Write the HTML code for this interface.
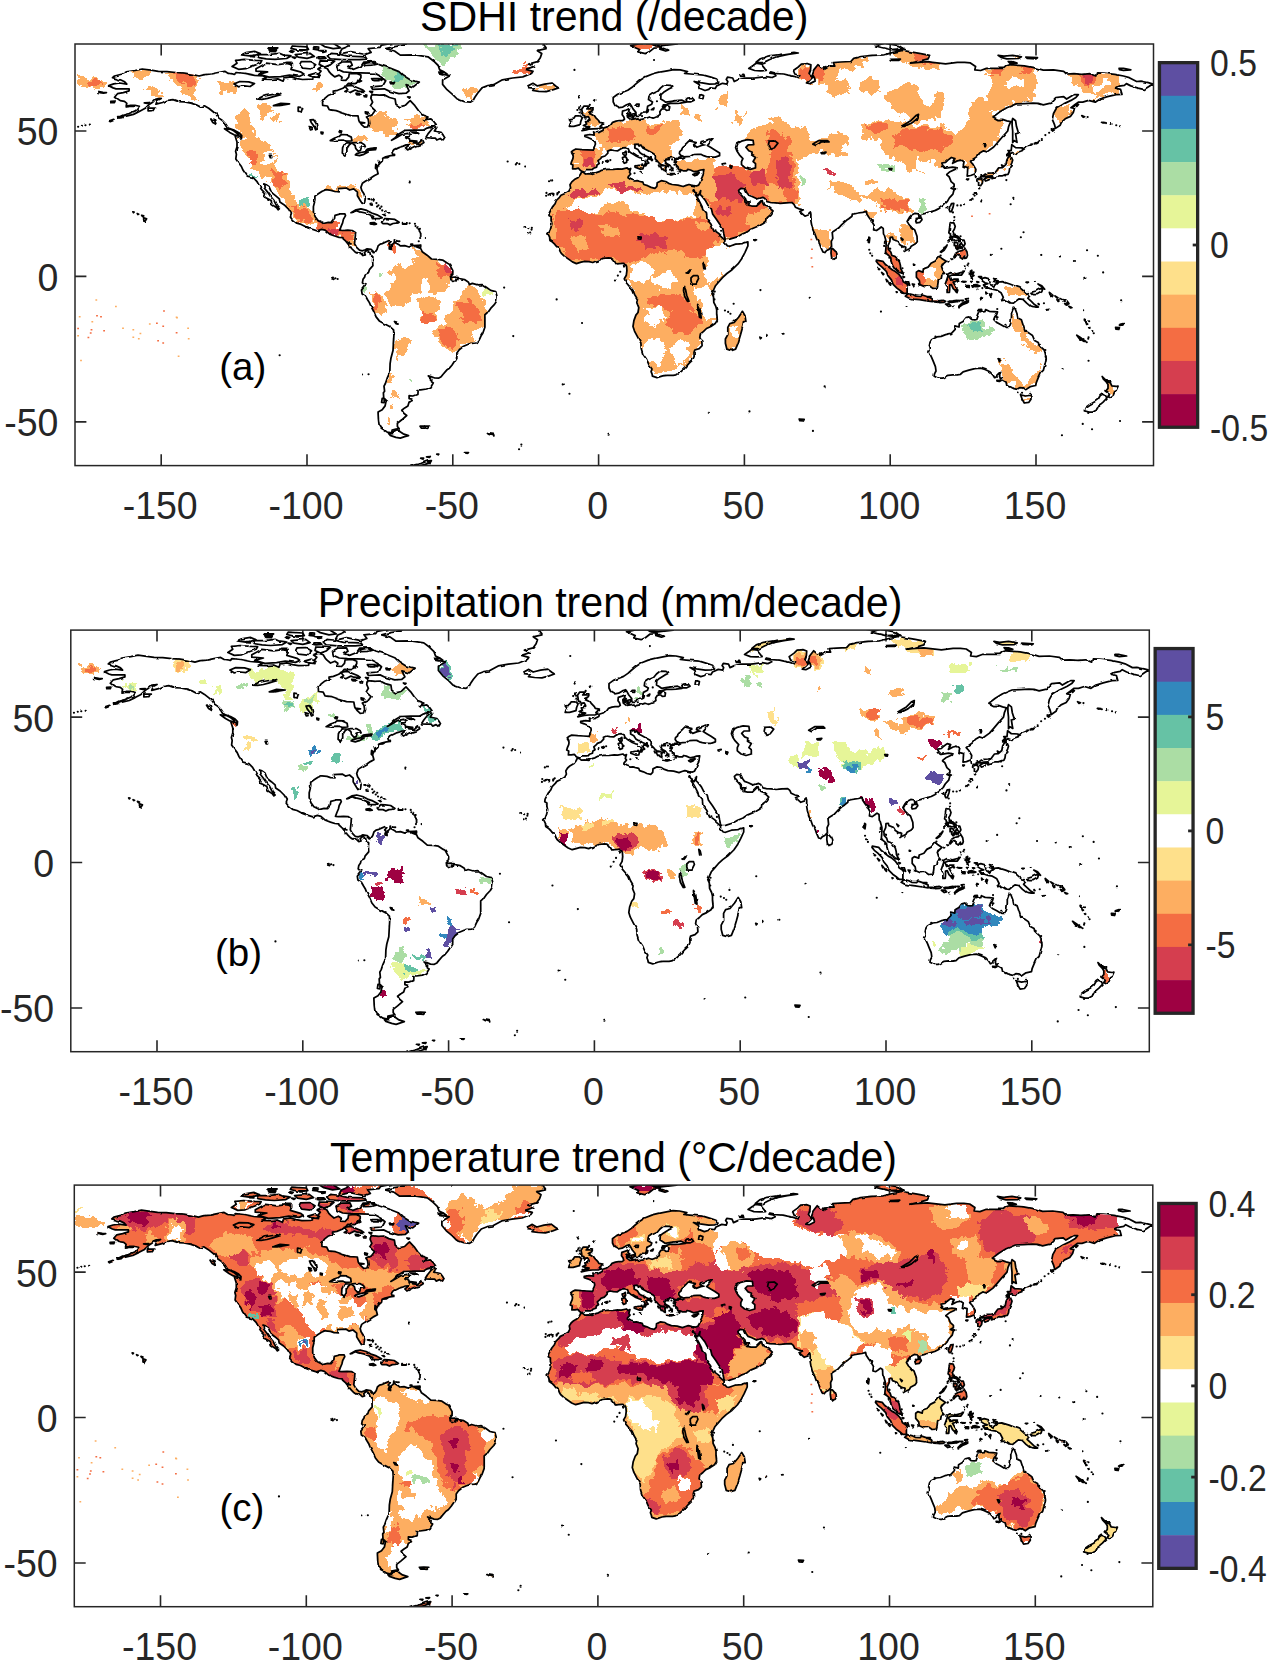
<!DOCTYPE html>
<html lang="en"><head><meta charset="utf-8"><title>SDHI, precipitation and temperature trends</title>
<style>html,body{margin:0;padding:0;background:#fff}body{width:1270px;height:1663px;overflow:hidden}svg{display:block}text{font-family:"Liberation Sans", Arial, Helvetica, sans-serif;fill:#262626}.tk{font-size:38.7px}.tt{font-size:42.5px;fill:#000}.lb{font-size:38.5px;fill:#000}.cb{font-size:36.2px}.coast{fill:none;stroke:#000;stroke-width:1.75;stroke-linejoin:round;stroke-linecap:round}</style></head><body>
<svg width="1270" height="1663" viewBox="0 0 1270 1663">
<rect width="1270" height="1663" fill="#fff"/>
<defs>
<filter id="rough" filterUnits="userSpaceOnUse" x="0" y="0" width="1078" height="422" color-interpolation-filters="sRGB"><feTurbulence type="fractalNoise" baseFrequency="0.11" numOctaves="3" seed="7" result="n"/><feDisplacementMap in="SourceGraphic" in2="n" scale="13" xChannelSelector="R" yChannelSelector="G"/></filter>
<filter id="wig" filterUnits="userSpaceOnUse" x="0" y="0" width="1078" height="422" color-interpolation-filters="sRGB"><feTurbulence type="fractalNoise" baseFrequency="0.15" numOctaves="1" seed="3" result="n"/><feDisplacementMap in="SourceGraphic" in2="n" scale="2.8" xChannelSelector="R" yChannelSelector="G"/></filter>
<clipPath id="landclip"><path d="M33.7 41.6L38.7 39.9L44.5 39.0L51.8 40.1L49.7 37.8L45.4 35.8L37.5 33.7L39.5 32.0L47.4 30.0L51.2 27.9L60.0 26.5L67.2 25.0L76.0 26.2L83.3 27.3L92.0 27.6L100.8 28.5L109.5 29.1L116.8 30.3L124.1 32.0L128.5 30.8L135.8 30.0L143.1 28.5L149.8 27.3L153.3 29.4L159.7 30.3L161.1 28.5L169.3 29.4L179.5 31.4L188.3 32.0L191.2 33.7L187.4 35.2L195.5 35.5L202.8 34.9L208.1 37.2L209.3 34.0L216.0 32.9L221.8 34.6L227.6 35.5L236.4 35.2L239.3 32.9L244.2 33.5L243.7 30.0L246.0 27.1L242.8 25.0L247.7 23.0L252.4 24.7L254.5 28.2L256.5 30.3L259.7 32.9L264.1 31.1L267.0 33.2L266.4 36.1L270.8 36.4L273.7 33.2L274.3 29.7L281.6 29.4L285.9 31.1L285.9 33.7L283.6 36.9L286.5 36.9L280.1 39.6L273.4 39.3L271.4 41.6L267.9 44.2L262.6 46.3L258.2 47.1L258.8 49.2L253.6 51.2L250.1 54.1L247.5 57.9L247.7 61.4L252.4 62.0L254.2 65.7L261.2 66.6L268.4 69.2L275.7 71.6L283.0 71.9L283.9 76.8L286.5 80.6L289.4 83.2L292.6 82.9L293.8 79.4L293.2 75.3L291.5 73.0L297.6 70.1L300.2 66.6L295.3 62.0L297.6 58.2L295.9 54.4L297.0 50.6L303.4 51.2L309.3 50.9L314.5 53.5L320.1 55.0L320.9 60.2L324.7 62.8L330.3 61.4L333.5 58.2L335.2 56.7L339.9 61.7L343.4 66.6L347.2 71.0L353.0 73.0L348.6 75.9L355.9 74.8L358.8 77.4L361.2 80.6L358.0 82.6L352.1 84.1L348.6 86.1L339.9 86.1L329.7 86.4L323.9 89.9L319.5 94.3L316.6 96.3L320.9 94.0L326.8 90.5L332.6 89.3L336.1 90.5L334.1 92.5L330.6 92.8L334.6 95.1L334.9 97.7L339.0 98.9L343.7 99.2L347.5 95.7L348.9 98.6L345.7 100.7L339.0 102.7L332.6 105.9L330.6 103.9L334.6 100.7L331.1 100.9L328.2 102.1L323.0 103.6L318.9 105.6L317.1 108.2L317.7 110.5L319.5 110.3L319.5 111.4L315.7 111.7L310.7 112.9L307.8 114.3L307.2 117.2L304.9 119.3L303.4 117.5L304.3 120.7L302.3 124.2L300.8 120.4L300.5 124.2L302.0 125.4L303.1 129.7L299.6 131.5L296.1 133.8L292.6 135.9L290.3 137.3L287.4 139.3L285.9 143.4L286.8 146.6L288.9 149.8L290.3 154.5L289.7 158.2L287.1 159.4L285.1 156.2L282.4 151.8L282.4 148.1L278.7 144.9L274.6 146.0L271.4 144.0L267.0 144.3L262.6 144.6L263.2 147.8L259.7 147.5L256.2 146.3L251.0 145.7L247.2 147.2L243.7 149.5L239.9 152.1L239.9 156.8L238.4 162.6L238.4 167.6L240.2 172.8L243.1 176.6L246.6 178.3L248.3 179.5L253.3 178.3L256.8 178.6L259.4 175.4L260.0 171.3L265.5 169.9L269.9 169.9L270.5 171.6L268.4 175.4L267.6 178.9L266.1 182.4L264.7 186.2L267.6 186.5L272.8 186.2L277.2 186.5L280.7 188.8L280.1 194.0L279.5 199.8L281.6 203.3L284.5 206.2L287.4 206.8L290.3 205.7L292.1 204.8L296.1 205.4L298.2 207.4L299.4 209.2L302.0 205.4L303.1 201.9L305.2 200.1L307.2 199.6L311.3 197.8L314.5 196.4L316.0 197.5L313.9 199.8L315.4 201.6L314.2 204.8L316.3 205.4L316.0 201.3L318.9 199.3L319.5 196.9L320.9 199.0L324.4 201.0L325.3 201.9L329.7 201.6L334.1 203.0L337.0 201.6L342.8 201.3L341.1 202.8L345.7 204.5L347.2 207.7L352.1 211.2L356.5 215.0L362.6 215.3L367.6 216.1L372.5 219.3L374.3 220.2L377.8 226.6L377.8 230.4L375.5 232.7L376.0 235.9L381.3 236.8L382.2 233.6L384.2 234.5L389.5 235.6L393.5 238.2L394.4 240.6L397.3 239.4L402.6 240.9L407.0 240.6L411.3 243.2L415.7 246.4L420.7 247.6L422.1 252.8L421.5 257.2L419.5 260.4L415.7 264.4L411.9 270.0L409.9 271.7L409.9 276.1L409.9 283.3L407.8 289.2L406.1 291.8L404.0 296.4L401.1 299.0L396.8 299.3L393.3 300.2L388.6 302.2L384.2 305.7L381.9 308.9L381.9 313.3L379.8 316.8L376.9 321.2L374.0 324.6L371.7 326.1L367.9 330.5L366.1 332.8L363.5 334.2L359.7 334.0L355.9 332.5L353.3 331.9L356.8 335.4L356.5 337.7L358.3 338.9L355.9 343.0L351.6 345.0L345.7 345.9L342.2 345.6L341.9 350.5L337.8 352.0L334.1 351.7L334.1 354.6L337.0 355.2L338.1 356.6L334.1 358.1L332.9 361.9L329.7 363.9L326.8 366.2L328.8 369.2L331.7 371.5L326.8 375.8L322.4 379.3L322.4 382.5L324.1 384.6L320.9 385.2L317.1 386.0L316.9 388.9L312.2 388.1L309.3 386.0L306.4 384.3L304.0 380.2L303.4 375.0L303.1 369.2L303.1 368.0L307.2 365.7L310.1 361.9L311.3 356.1L308.7 354.0L308.4 348.8L309.6 347.3L309.0 342.1L310.4 339.5L312.2 334.2L314.8 328.4L315.1 319.7L316.0 313.9L318.0 306.6L318.3 301.1L318.9 291.2L318.6 286.0L315.1 282.8L309.3 279.8L304.3 276.9L301.1 272.9L298.8 267.6L295.6 261.5L294.4 258.6L292.6 255.7L290.6 252.2L287.1 249.9L286.5 246.1L289.2 242.6L290.9 239.7L289.7 240.9L287.4 238.8L288.0 235.3L289.7 233.0L290.3 230.1L293.5 228.6L294.4 225.7L297.9 221.7L297.6 216.4L297.9 212.9L296.4 211.5L295.3 209.4L295.0 207.7L291.8 206.4L289.4 208.6L290.3 210.9L288.0 211.5L285.9 209.7L282.2 208.6L281.6 208.9L279.8 207.7L276.6 204.5L275.7 203.0L273.4 203.3L273.4 200.4L270.8 197.2L268.2 194.9L267.9 193.7L264.1 193.4L259.7 192.0L254.7 190.2L250.1 186.2L246.6 185.3L242.2 186.8L236.4 185.0L232.3 183.6L226.2 180.4L221.8 179.2L217.4 175.7L215.4 173.1L216.5 169.9L213.3 164.9L209.3 160.9L204.9 158.0L204.3 154.8L200.5 151.6L196.4 148.4L194.1 142.8L191.2 140.8L188.8 139.9L189.1 143.7L192.6 148.1L195.3 152.1L198.8 156.2L201.1 160.9L204.3 164.9L203.1 165.8L201.7 163.8L197.0 160.6L196.1 156.5L192.3 154.5L189.4 153.0L190.6 149.8L186.2 145.2L183.3 139.9L181.8 137.3L178.1 133.5L172.2 132.1L168.1 126.3L166.4 122.5L162.6 117.5L160.8 114.9L161.4 110.3L160.6 107.3L162.0 102.7L162.0 98.0L160.0 91.6L164.9 92.2L166.4 94.8L166.7 91.6L164.3 89.0L159.7 86.4L153.3 84.1L150.9 80.3L147.4 76.5L143.6 73.9L141.0 70.1L137.8 67.5L133.7 64.3L129.4 61.7L125.6 63.1L121.2 60.8L115.9 59.1L109.5 57.9L103.7 57.6L97.9 55.6L92.0 56.4L87.7 58.5L80.9 60.2L82.4 56.4L86.2 54.4L80.9 55.0L78.0 57.9L74.5 60.2L70.2 64.3L64.3 67.5L58.5 70.4L51.2 72.1L43.0 73.6L48.3 71.0L54.1 69.5L60.8 66.6L64.3 62.3L60.0 61.4L55.6 61.4L51.2 62.0L51.8 59.3L49.5 57.3L43.9 56.4L39.5 53.2L42.5 49.7L48.3 48.6L54.1 46.8L54.1 44.8L48.3 44.8L41.0 44.8L38.1 43.9ZM310.7 4.7L319.5 7.0L325.3 11.1L339.9 10.8L353.0 12.8L358.8 17.2L363.2 21.5L364.7 25.9L369.0 27.9L364.7 29.7L374.9 31.7L367.6 36.1L367.6 40.4L372.0 45.7L377.8 50.6L382.2 55.0L389.5 57.6L395.3 58.2L398.2 56.4L399.7 53.5L402.6 49.2L407.0 43.9L412.8 41.6L418.6 40.7L427.4 35.8L437.6 34.0L447.8 32.9L456.5 29.4L458.0 27.3L450.7 25.3L459.4 22.4L453.6 20.1L462.4 17.7L465.3 13.7L466.7 9.6L462.4 6.7L471.1 4.7L468.2 0.9L474.0 -1.2L474.0 -9.0L304.9 -9.0L325.3 -1.2L331.1 0.9L319.5 2.6ZM617.8 141.4L621.3 142.0L623.6 141.1L625.4 137.9L625.9 135.9L627.4 132.7L628.3 128.9L628.9 125.7L625.7 126.0L622.7 127.1L619.2 127.7L615.5 126.0L612.8 125.4L611.7 126.8L608.2 126.8L605.8 125.7L603.5 125.4L603.2 123.1L600.9 120.7L601.7 119.0L599.7 117.5L600.0 116.1L603.2 114.9L607.9 114.9L609.6 114.0L608.5 112.9L612.0 112.6L615.5 112.3L618.4 110.5L622.7 110.3L625.9 110.3L628.6 111.7L631.5 112.6L635.9 113.2L640.2 113.2L644.6 111.7L644.6 109.1L640.2 106.2L635.9 103.6L632.4 101.5L635.0 98.6L637.9 95.4L634.4 95.1L630.9 96.6L626.2 97.7L625.7 99.5L630.0 100.7L626.5 101.5L621.9 103.3L618.7 100.7L621.3 98.6L616.9 97.5L614.0 96.9L611.7 99.2L609.9 100.9L607.6 102.7L606.7 105.9L604.7 107.6L604.4 109.4L605.8 111.4L608.2 112.4L605.8 113.2L603.2 113.2L601.5 114.6L600.0 115.8L599.7 114.3L598.0 113.5L594.7 113.5L593.0 114.0L594.5 115.5L591.8 115.5L590.4 114.6L589.5 116.1L591.0 118.4L590.4 119.3L593.6 121.3L593.9 122.8L592.4 122.2L590.7 122.2L591.2 123.6L590.4 123.3L591.0 126.3L589.2 126.5L588.3 125.1L586.9 125.4L585.4 122.2L586.9 121.3L589.8 121.6L586.0 120.7L584.2 119.3L582.5 117.2L580.2 114.9L580.5 112.0L579.6 110.5L577.0 108.8L571.7 105.9L567.9 103.9L565.9 100.9L564.1 102.1L563.3 100.1L559.5 100.4L560.0 101.8L559.8 103.9L563.0 105.6L565.0 108.8L567.6 110.5L570.8 110.5L570.0 111.7L572.9 112.9L576.1 114.3L577.5 115.8L577.0 116.7L575.8 115.5L573.2 114.6L572.0 116.7L573.8 119.0L572.0 119.6L570.8 121.9L569.4 121.9L570.0 119.9L570.8 118.4L569.4 116.1L567.3 115.5L566.5 114.0L564.7 113.7L561.5 112.3L559.2 110.8L556.3 109.1L554.2 107.3L553.3 104.7L550.4 103.6L547.8 103.9L545.5 105.0L542.8 106.8L539.1 106.5L535.8 105.9L532.6 107.1L532.9 109.1L530.0 112.0L526.5 113.2L525.9 114.3L523.0 116.7L524.2 119.6L522.1 121.0L521.6 123.1L518.6 124.2L517.2 125.7L510.8 125.7L508.1 127.4L507.3 127.7L505.2 126.3L503.5 124.2L500.6 124.8L497.6 124.8L497.9 121.0L495.9 119.9L496.5 117.8L497.9 114.6L498.2 112.6L497.9 110.0L496.5 107.6L498.5 106.2L500.9 105.0L507.0 105.6L512.5 105.9L518.3 106.2L519.8 102.7L520.4 99.8L520.1 98.0L517.2 95.4L513.4 93.7L509.9 92.5L509.9 91.3L514.8 90.5L519.2 91.1L518.6 87.9L520.1 88.7L523.9 88.4L528.0 86.4L528.6 84.4L533.2 82.9L535.8 80.9L537.6 78.3L541.1 77.1L544.3 76.5L547.8 76.5L549.5 75.3L548.7 72.7L547.2 70.7L547.5 67.2L551.3 66.0L554.5 64.6L553.6 67.8L555.4 68.7L552.2 71.3L552.5 73.0L555.4 75.3L558.6 74.8L563.0 73.9L565.3 75.6L570.3 74.5L574.6 73.0L578.1 74.2L581.9 72.7L585.1 70.4L584.8 67.8L586.6 65.2L589.5 64.6L591.5 66.3L594.2 66.0L594.7 62.8L592.1 61.4L592.1 60.2L595.6 59.3L600.9 59.3L605.2 59.1L611.1 58.2L606.7 56.1L600.9 56.7L596.5 57.3L590.7 58.2L588.3 56.4L585.7 55.0L586.0 50.6L588.6 48.3L594.2 44.8L597.7 43.1L595.3 41.3L589.2 41.0L585.7 43.9L582.8 47.4L577.5 49.7L574.0 52.1L573.5 55.6L577.5 57.9L576.7 60.2L572.6 62.3L572.0 66.6L570.3 68.9L566.2 69.2L565.0 71.3L561.2 71.3L560.9 68.4L558.0 64.9L556.3 61.7L554.8 59.6L551.6 60.8L547.8 63.1L544.0 63.7L539.9 61.4L538.2 57.9L538.2 53.5L542.6 50.3L548.4 48.0L552.8 46.3L557.1 43.3L560.9 39.9L565.9 35.8L570.3 32.9L577.5 30.0L584.8 28.2L592.1 26.8L598.8 25.6L605.2 25.9L612.5 27.6L609.6 29.4L615.5 30.0L621.3 30.5L628.6 31.1L635.9 33.2L641.7 35.2L643.7 38.1L640.2 39.9L634.4 40.1L625.7 38.7L619.2 37.5L624.2 40.4L625.1 44.5L630.0 46.5L633.8 45.4L635.3 43.9L640.2 44.5L641.7 41.9L647.5 39.3L651.9 40.1L652.8 37.5L651.3 35.5L652.5 33.2L657.7 34.0L659.2 37.5L663.6 35.5L670.9 34.0L679.6 34.0L682.5 33.7L691.3 32.6L697.1 33.5L700.9 31.7L700.0 29.4L708.8 30.0L713.1 31.1L719.0 32.3L722.8 33.7L724.8 31.7L719.8 30.0L718.4 26.5L723.3 23.0L726.3 20.1L732.1 19.5L735.9 20.9L735.6 25.3L734.1 29.4L737.9 33.2L734.4 36.7L731.5 39.0L735.0 39.6L740.3 36.9L739.4 33.7L737.3 30.3L738.8 25.9L742.9 20.7L746.7 23.9L751.0 22.7L749.6 25.3L755.4 21.8L759.8 22.1L758.3 18.6L765.6 18.0L775.8 17.5L778.7 14.3L786.0 12.5L797.7 11.3L809.4 10.8L818.1 8.4L827.7 6.4L834.2 7.6L844.4 9.3L854.6 11.3L853.1 14.8L844.4 17.2L835.6 19.2L841.4 18.6L853.1 17.7L857.5 18.3L870.6 19.8L882.3 18.3L889.6 18.3L895.4 18.9L900.6 22.4L899.8 25.9L905.6 26.5L911.4 24.4L920.2 24.4L928.9 24.4L931.8 21.8L934.8 20.7L949.3 21.8L961.0 24.1L968.3 26.2L978.5 25.9L988.7 27.3L991.6 30.0L998.9 29.7L1007.7 30.3L1014.9 29.7L1020.8 32.0L1021.6 28.8L1028.1 29.1L1039.7 30.3L1048.5 32.0L1054.3 33.7L1061.6 37.5L1066.0 37.2L1073.3 38.7L1078.2 40.1L1074.7 41.9L1070.3 44.8L1068.3 45.4L1063.1 44.2L1055.8 41.9L1051.4 39.6L1049.4 41.3L1044.1 42.2L1040.6 44.2L1045.6 45.4L1047.0 50.3L1041.2 50.6L1032.4 52.7L1025.1 55.0L1020.2 58.2L1013.5 56.4L1007.7 58.2L1003.3 58.2L999.8 60.8L996.0 63.7L999.5 64.3L998.3 68.4L995.4 72.4L990.2 74.8L986.4 78.3L985.2 81.2L980.5 84.4L979.4 80.3L977.3 75.3L978.5 69.5L981.4 64.3L988.7 59.9L996.0 56.4L1000.9 53.5L1003.3 50.6L998.9 50.6L991.6 55.0L988.7 52.7L980.8 53.5L975.6 59.1L968.3 60.8L963.3 59.3L958.1 59.1L949.3 59.6L941.2 59.9L931.8 63.7L924.5 68.1L918.1 73.0L923.1 75.6L927.5 75.3L931.8 76.8L935.6 77.7L933.6 82.6L932.7 87.0L927.5 92.8L923.1 98.0L918.7 103.0L912.0 107.9L908.5 106.8L904.7 109.1L901.8 112.6L897.7 115.5L895.4 117.5L898.0 120.4L900.9 125.4L900.3 129.7L895.7 131.5L892.2 132.1L892.5 127.7L892.8 123.6L888.1 122.2L889.0 117.8L886.3 116.1L882.3 116.9L877.6 119.3L879.9 114.6L876.4 113.5L872.9 116.1L870.6 118.4L866.8 119.0L867.7 121.3L870.6 124.2L877.6 123.1L881.1 123.6L880.5 125.1L875.0 127.7L871.5 130.6L874.1 132.7L876.1 137.6L879.1 140.2L879.1 142.5L876.1 144.3L879.1 145.5L877.9 150.1L874.4 153.9L872.4 157.4L868.6 161.2L863.9 164.6L860.4 166.4L856.6 167.6L853.1 168.4L849.6 169.6L845.5 170.5L845.8 173.1L844.1 173.4L843.5 169.9L840.0 169.3L836.2 171.3L834.4 173.4L832.1 177.4L834.2 180.9L837.4 184.1L839.7 185.9L842.0 192.3L842.3 197.5L840.9 199.6L836.2 202.2L835.0 204.5L831.2 206.2L829.2 207.4L829.8 203.3L826.9 201.9L824.5 200.4L822.5 197.2L818.1 195.5L817.5 193.2L815.2 193.4L814.9 197.5L812.9 201.9L813.4 205.4L815.8 208.0L816.9 211.5L819.9 212.4L821.9 214.4L824.5 217.9L825.4 221.4L825.7 224.6L827.7 228.4L825.4 228.6L821.9 226.0L819.0 224.0L817.2 220.8L816.1 216.7L815.8 213.8L813.7 211.5L810.5 208.9L811.1 201.9L811.1 197.5L809.7 192.3L808.5 188.8L808.2 184.4L806.2 183.0L804.1 184.7L801.5 186.5L798.6 185.9L799.2 181.5L796.8 177.2L794.2 173.7L791.9 170.2L791.3 167.3L787.8 168.4L783.1 169.0L780.2 169.6L777.3 170.2L777.0 172.2L773.8 174.8L771.5 176.3L766.5 180.9L763.6 184.1L759.8 186.5L757.2 188.2L757.8 194.3L756.3 197.5L756.6 202.5L754.0 205.4L751.6 206.5L749.6 208.9L747.8 207.7L745.8 203.3L744.6 199.8L741.7 194.9L740.0 190.2L737.9 185.9L736.5 180.1L735.9 176.6L735.9 171.3L735.3 167.8L733.8 170.8L730.0 172.2L724.8 167.6L728.3 165.8L724.2 164.9L720.4 163.2L719.0 160.3L716.9 158.5L711.7 158.8L705.3 159.4L700.3 158.8L695.6 158.5L692.1 157.7L689.8 154.5L687.8 153.3L682.5 155.0L677.6 152.7L673.8 151.3L671.7 148.4L670.0 144.9L665.9 144.3L663.6 146.3L664.4 149.2L667.4 152.4L669.7 155.0L670.0 158.2L671.7 159.7L672.3 156.8L673.8 156.8L674.1 159.7L673.2 161.2L676.7 162.0L681.6 162.0L684.9 158.8L687.2 156.5L688.1 159.7L689.8 162.0L694.5 163.8L698.0 167.0L695.1 171.3L692.1 173.7L691.6 177.2L688.4 179.5L684.9 181.5L681.1 183.0L675.8 185.3L672.3 187.9L666.8 190.2L662.1 192.9L654.8 195.2L650.4 195.5L649.6 193.7L648.7 189.4L647.8 184.4L644.6 180.1L641.7 175.7L637.6 169.9L636.4 164.9L632.9 161.2L630.6 156.8L627.1 152.4L625.1 150.4L625.7 146.6L624.8 148.6L623.3 151.6L620.4 149.2L618.7 145.5L618.1 146.6L619.8 150.1L622.2 153.3L624.2 156.8L627.1 162.6L627.7 165.5L631.5 169.9L632.1 175.4L635.9 180.1L638.8 187.0L643.7 190.5L648.1 194.6L649.9 196.1L649.6 198.7L652.5 201.9L654.8 202.2L660.6 200.1L667.1 199.6L672.9 197.8L672.9 201.9L670.0 208.3L666.5 215.0L663.0 219.9L657.1 225.7L651.9 229.5L647.5 233.6L643.7 238.0L640.5 241.7L638.8 245.5L637.0 249.6L638.5 252.8L638.8 258.3L640.8 262.4L641.7 265.9L641.7 270.2L642.3 276.1L640.2 279.6L635.9 282.5L631.5 284.5L628.6 287.4L625.4 290.0L624.8 293.5L626.8 297.3L627.1 301.7L624.2 304.6L619.8 306.0L619.0 308.6L619.2 312.4L617.5 316.2L614.0 319.4L610.5 323.5L605.8 327.8L600.9 330.8L598.2 331.3L592.1 331.3L587.7 331.9L581.9 333.7L577.5 332.2L577.0 329.9L576.1 327.6L577.0 324.9L574.0 320.9L571.7 315.6L567.9 310.1L566.2 304.6L565.9 299.0L562.7 293.2L559.5 287.1L558.0 282.5L558.9 276.6L560.9 271.1L563.0 268.5L563.8 263.6L561.8 258.6L562.4 255.1L559.5 250.2L558.0 246.4L554.8 242.9L551.3 238.8L549.3 234.8L551.3 231.3L551.9 226.6L551.6 222.2L549.8 219.3L547.8 219.3L544.0 219.6L541.1 219.9L538.8 216.1L536.1 214.1L533.5 213.8L528.0 214.4L525.1 215.8L520.7 217.3L517.8 218.5L514.0 217.6L509.6 217.3L506.1 218.2L501.4 219.6L497.4 217.9L492.1 214.1L489.2 212.1L486.3 209.4L485.1 207.4L484.2 204.8L481.0 201.9L479.9 200.4L477.5 198.1L474.9 196.4L474.6 193.2L472.9 189.7L474.3 188.2L475.5 185.3L476.9 179.8L476.1 176.0L476.1 172.8L474.0 171.6L474.3 169.0L476.1 165.5L477.5 162.9L480.1 159.7L481.3 156.5L484.5 153.3L486.0 151.3L490.6 149.2L493.9 147.2L495.6 144.0L495.0 140.8L496.8 137.9L499.4 135.6L503.2 133.5L505.5 130.3L506.4 128.3L508.1 128.0L510.5 130.0L514.8 129.7L517.8 130.3L521.3 128.6L524.2 127.7L526.5 126.3L532.3 125.4L538.2 125.4L543.4 124.8L546.9 125.1L552.2 123.9L553.6 125.4L555.7 124.5L554.5 128.3L555.7 130.0L553.3 132.7L553.0 133.8L556.3 135.9L559.5 137.0L562.1 136.7L567.9 138.2L568.8 140.5L572.6 141.7L576.1 143.4L579.9 144.3L581.9 142.3L582.2 138.8L586.3 136.7L590.7 137.6L593.6 139.3L597.1 140.5L602.9 141.1L608.2 142.5L611.1 141.4L614.0 140.5L616.3 141.1ZM855.1 298.2L856.6 295.8L861.9 292.9L866.2 292.4L870.6 290.6L876.4 289.4L880.2 285.4L879.9 281.9L884.0 283.0L884.3 279.6L888.1 277.5L891.0 273.7L893.9 272.9L896.8 275.5L899.8 275.8L901.8 275.5L904.1 269.1L907.1 267.9L910.0 267.6L910.6 265.6L914.3 267.3L918.7 267.6L922.5 267.9L921.6 270.8L919.9 272.6L918.7 275.5L921.6 278.4L926.0 280.7L930.4 283.3L934.2 283.3L935.9 279.0L936.5 273.2L936.5 269.1L938.3 264.1L940.0 264.4L942.0 269.7L942.9 274.0L946.4 275.8L947.9 280.4L949.9 287.1L953.7 288.9L957.5 291.5L959.5 296.4L963.3 298.5L963.9 301.1L969.2 306.0L970.3 309.5L971.2 314.5L969.7 321.2L968.3 326.4L965.4 329.0L963.3 333.7L961.3 338.6L960.7 341.5L955.2 342.7L950.5 345.9L947.3 343.8L945.0 343.6L942.0 345.3L936.2 343.8L931.8 341.5L931.0 338.0L927.5 336.0L927.5 333.7L925.4 334.8L924.5 331.9L926.0 328.4L924.0 330.2L921.0 333.1L919.6 333.7L917.8 330.8L914.9 327.8L910.0 325.5L905.6 324.1L899.8 324.6L893.9 326.1L888.1 327.8L885.2 330.5L882.3 331.0L877.9 330.8L872.9 331.3L867.7 334.2L863.3 334.2L859.2 332.2L859.5 329.9L861.0 327.0L860.4 322.6L858.6 318.2L856.6 313.3L854.3 308.6L855.4 305.2L854.3 302.2ZM288.9 18.0L299.1 17.7L304.9 20.9L315.1 24.1L323.9 27.6L327.6 31.1L335.5 36.1L344.3 38.1L338.4 42.8L331.1 40.7L334.1 46.8L331.1 49.2L323.9 49.7L314.2 47.1L309.3 44.8L297.6 45.4L296.1 42.8L307.8 41.9L310.7 36.7L306.4 33.2L299.1 29.4L293.2 29.1L285.9 28.8L275.7 28.5L268.4 27.9L262.6 25.3L261.7 21.2L267.0 18.0L275.7 17.7L277.2 21.2L272.8 23.6L278.7 25.3L285.9 22.4ZM269.9 42.2L275.7 41.3L280.1 42.8L287.4 45.7L289.4 47.4L283.0 47.1L280.1 46.0L274.9 48.6L269.9 47.4L272.8 45.7ZM181.0 24.7L191.2 19.2L202.8 20.7L211.6 19.5L217.4 20.9L216.0 25.3L226.2 28.2L229.1 30.3L224.7 32.3L214.5 31.1L205.8 32.6L194.1 33.2L183.9 30.3L192.6 27.9L181.0 27.1ZM157.1 22.4L163.5 25.3L170.8 24.7L176.6 22.4L185.3 19.2L186.8 16.6L179.5 16.3L169.3 15.4L160.6 16.3L162.0 19.2ZM226.2 17.7L234.9 17.5L240.7 20.7L236.4 25.0L227.6 24.1L224.7 20.7ZM245.1 16.9L259.7 17.2L255.3 20.9L249.5 23.0L244.2 20.4ZM233.5 31.1L240.7 29.1L245.1 31.4L242.2 33.2L236.4 32.6ZM255.3 9.3L262.6 9.9L272.8 12.2L290.3 12.8L291.8 15.1L284.5 15.7L267.0 15.7L255.3 14.8L252.4 11.9ZM182.4 13.4L191.2 14.8L199.9 15.4L211.6 14.5L216.0 11.9L208.7 11.1L204.3 9.3L194.1 10.5L183.9 10.5ZM220.3 10.5L234.9 9.3L239.3 12.5L232.0 14.3L223.2 13.1ZM264.1 10.2L275.7 7.6L290.3 10.5L296.1 8.4L293.2 4.7L304.9 3.5L306.4 1.2L319.5 -1.2L325.3 -3.2L331.1 -9.0L255.3 -9.0L261.2 -3.2L269.9 -1.2L274.3 2.0L267.0 4.9ZM243.7 -1.2L249.5 2.6L258.2 4.7L265.5 3.8L259.7 0.3L255.3 -3.2ZM217.4 2.0L232.0 2.9L233.5 5.5L223.2 6.1L216.0 4.4ZM166.4 10.8L176.6 12.2L185.3 9.6L179.5 7.3L170.8 8.7ZM288.9 19.5L296.1 18.3L302.0 20.1L297.6 21.2L290.3 21.5ZM284.5 78.0L289.7 78.8L286.8 79.1ZM350.7 93.7L353.0 89.9L356.8 85.2L360.3 82.3L361.8 83.2L359.4 87.0L361.8 87.6L366.1 88.4L368.2 91.1L369.9 94.0L368.2 96.9L365.3 94.5L361.8 96.0L360.3 94.0L355.9 94.0ZM335.5 87.3L341.3 88.1L343.7 89.6L338.4 89.0ZM336.1 96.6L341.9 97.2L341.3 98.6L337.6 97.7ZM149.5 84.7L156.2 85.5L159.1 87.0L163.5 90.5L163.5 91.9L159.1 90.8L154.7 88.4ZM135.8 75.1L139.3 75.3L141.0 80.3L137.8 78.5ZM73.1 64.0L79.5 64.0L78.0 66.6L73.1 66.9ZM22.9 47.4L27.9 48.3L31.4 48.6L28.5 49.2L22.9 48.3ZM35.8 57.3L40.1 57.0L39.5 58.5L36.0 58.5ZM276.0 168.7L281.0 165.8L285.9 164.9L291.8 166.4L296.7 169.0L302.0 170.8L307.2 173.7L304.9 174.5L297.3 174.5L298.5 172.5L294.7 170.8L290.3 169.0L285.1 167.8L282.2 166.7L278.9 168.1ZM306.6 178.3L309.9 174.5L314.5 174.8L319.8 175.4L324.1 178.3L320.9 179.2L318.0 179.5L315.1 180.9L312.2 179.5L307.8 179.5ZM295.3 178.9L299.1 178.6L301.4 180.1L298.5 180.6L295.3 179.8ZM327.6 178.6L332.0 178.9L331.7 180.1L327.6 180.1ZM343.4 201.3L345.7 201.0L345.7 203.0L343.4 203.0ZM295.3 159.7L296.7 159.4L297.3 162.0L295.9 161.7ZM323.9 385.7L324.7 387.5L328.2 389.8L333.5 391.6L329.7 392.7L325.3 394.2L320.9 393.3L315.1 391.3L313.6 389.5L318.0 389.5L318.6 387.5L321.5 386.0ZM345.1 382.2L349.2 382.0L349.5 384.0L346.3 384.0ZM349.8 382.0L354.5 382.2L352.7 384.3L349.8 384.0ZM412.5 389.5L418.6 390.4L418.9 391.8L414.2 390.4ZM307.2 354.3L309.3 354.9L309.0 358.7L306.6 358.4ZM68.7 173.7L71.6 174.8L69.9 177.4L68.7 175.7ZM66.7 171.3L68.7 171.9L67.5 172.5ZM62.3 169.6L63.7 170.2L62.9 170.5ZM57.9 167.8L59.1 168.1L58.5 168.7ZM945.5 350.8L950.8 352.0L955.7 351.1L956.0 355.2L953.7 358.4L949.3 359.0L947.3 355.5ZM1027.2 332.5L1029.5 334.8L1033.3 338.0L1035.4 338.9L1036.8 341.8L1041.2 342.4L1044.1 342.1L1042.1 346.5L1039.7 347.6L1038.3 351.1L1034.8 353.4L1033.0 352.6L1034.5 349.4L1031.0 346.8L1033.0 344.4L1033.0 340.6L1031.3 338.0L1028.4 335.1ZM1027.2 350.2L1030.4 351.4L1031.9 354.0L1028.1 358.1L1025.7 360.1L1022.8 361.9L1021.6 366.0L1017.9 368.0L1014.1 368.0L1009.4 366.8L1010.0 363.9L1014.4 360.7L1019.3 358.1L1023.1 355.2L1025.1 351.7ZM905.6 234.8L910.0 233.6L914.3 234.8L915.2 239.7L918.7 242.0L923.1 238.2L927.5 237.7L934.8 240.0L940.6 242.3L945.0 243.8L948.7 247.0L952.2 249.6L954.6 251.9L952.8 254.2L956.6 257.7L959.5 260.6L963.3 263.0L960.4 263.0L955.2 262.1L951.7 259.2L947.9 255.4L944.1 254.8L940.6 257.4L938.5 259.2L934.8 258.9L930.4 256.0L926.6 256.6L928.3 253.4L926.0 248.7L921.6 246.1L917.3 245.2L912.9 243.8L910.8 244.1L908.5 240.9L912.9 239.7L910.0 238.8L907.1 236.8ZM956.0 248.4L961.0 247.0L965.4 244.6L967.7 244.9L966.8 247.8L962.5 250.5L958.1 250.5ZM963.0 240.0L966.8 241.7L969.7 245.2L968.6 244.6L965.4 241.7ZM974.4 248.4L977.9 251.3L977.3 252.5L975.0 250.5ZM988.7 259.5L992.5 260.9L991.0 261.2ZM991.6 256.9L993.9 259.8L993.1 260.1ZM1001.8 291.2L1006.2 294.1L1010.6 297.3L1008.8 297.3L1004.2 294.4ZM1009.4 276.1L1011.2 277.8L1010.0 278.1ZM1040.6 283.3L1044.4 283.6L1043.8 285.4L1040.9 285.1ZM1045.0 280.4L1048.2 279.6L1047.0 281.3ZM841.4 228.1L843.5 226.6L847.9 228.1L848.4 224.9L853.1 223.1L856.0 219.3L860.4 217.0L864.2 212.4L866.8 214.4L871.2 217.3L868.3 219.9L866.5 222.2L867.7 226.0L870.6 229.5L867.1 230.1L866.2 234.8L863.3 236.8L862.7 241.2L861.9 244.1L857.8 244.4L854.6 242.0L849.6 242.6L844.9 240.6L844.4 236.8L841.4 233.3L841.4 230.1ZM801.5 216.1L807.9 217.3L810.2 220.2L814.6 223.7L817.5 226.0L820.4 227.5L823.9 230.4L826.3 233.3L828.3 237.7L832.7 240.6L832.1 244.1L832.1 249.3L828.6 249.3L825.4 246.7L821.9 244.1L818.1 240.3L816.4 235.9L812.9 231.6L811.4 227.5L807.0 223.1L803.5 220.2L801.2 217.3ZM830.4 252.2L833.3 249.6L838.5 250.8L840.9 252.2L845.8 252.5L847.3 251.0L851.9 252.5L857.2 254.8L857.5 257.7L851.6 256.9L844.4 255.7L838.5 255.1L833.9 254.0ZM857.8 256.3L861.0 256.3L863.9 256.6L863.3 258.3L859.5 258.0ZM864.2 256.9L868.3 256.3L870.6 257.2L869.1 258.3L864.8 258.6ZM873.2 257.2L877.9 256.9L882.0 256.3L881.7 257.7L876.4 258.3L873.2 258.0ZM870.6 260.1L874.1 259.8L875.8 261.8L873.5 262.4ZM883.7 262.4L886.6 259.5L891.0 257.4L894.5 256.9L892.5 258.6L888.1 260.4L885.2 262.4ZM872.9 230.1L875.8 228.6L881.7 229.8L886.6 228.4L888.7 227.8L886.6 231.0L882.3 231.0L877.0 231.0L874.1 232.4L875.8 236.2L879.3 235.0L883.1 235.0L880.8 237.4L878.2 238.2L880.5 242.0L882.3 244.6L880.2 246.4L878.2 244.6L876.4 240.6L874.7 240.9L874.7 245.5L874.4 248.4L872.1 248.4L872.1 243.2L870.0 240.6L871.5 236.5L872.9 232.4ZM895.4 227.2L896.8 226.3L896.6 229.5L898.9 228.1L897.4 230.7L898.9 231.6L896.6 233.0L897.4 235.0L895.7 231.8ZM896.8 241.2L901.2 240.6L905.0 242.0L902.7 242.6L897.4 242.3ZM891.0 241.7L894.2 241.7L894.2 243.5L891.6 243.2ZM879.3 212.1L880.8 209.2L883.7 207.4L887.5 206.5L889.6 203.9L891.9 207.7L892.5 211.5L891.6 213.8L889.8 214.4L889.6 212.1L887.5 215.0L885.2 213.5L885.2 210.6L882.8 210.6L880.8 212.1ZM875.3 178.6L878.8 178.9L880.2 182.4L879.3 185.3L877.9 187.6L878.8 191.1L882.3 192.0L885.2 194.6L884.6 195.2L881.7 193.4L877.9 192.6L875.6 192.0L875.3 190.0L873.8 188.8L874.4 185.3L874.7 181.5ZM886.1 196.1L889.0 196.1L890.1 199.8L888.4 202.8L887.5 201.0L886.3 199.3ZM879.3 198.1L882.6 199.0L883.1 201.9L882.3 205.7L880.8 203.9L881.1 201.6L879.3 201.6ZM865.4 208.0L869.1 204.8L872.1 201.0L871.5 202.5L869.1 206.2L866.2 208.3ZM874.7 193.4L877.3 193.7L877.6 196.4L876.1 196.1ZM874.1 165.5L876.4 159.7L878.8 159.4L878.2 162.6L876.4 167.6L875.0 167.6ZM840.6 176.6L842.9 174.2L846.4 174.0L847.0 175.7L844.9 178.3L841.4 178.9ZM756.3 204.5L758.0 204.8L760.7 207.7L762.1 211.2L761.0 214.1L758.0 215.3L756.6 213.5L756.0 209.2ZM902.1 135.0L905.3 133.8L907.9 135.6L907.3 139.3L905.6 141.7L903.6 141.4L903.6 137.9L901.8 137.0ZM909.4 135.0L912.9 132.9L916.1 133.5L915.2 135.3L912.3 136.4L910.6 137.0ZM905.6 132.7L909.4 132.7L912.9 132.1L917.3 131.8L918.1 134.7L921.6 133.5L923.1 131.8L927.5 131.8L930.4 130.6L933.0 130.3L934.2 127.7L934.8 123.3L936.8 119.0L937.7 116.1L935.9 112.0L933.3 113.2L931.8 116.1L931.0 120.4L927.5 123.6L923.7 123.9L922.5 125.4L920.2 128.6L917.3 128.9L912.9 129.2L908.5 130.9L905.6 132.4ZM931.8 111.7L934.8 108.5L933.0 106.5L936.2 106.5L936.8 100.7L940.6 103.6L947.3 103.9L947.6 106.5L942.9 108.2L941.2 110.3L937.1 108.5L934.8 110.8ZM937.7 74.5L940.6 76.8L941.5 82.6L943.5 89.0L940.6 89.9L941.5 95.7L942.0 98.3L939.1 96.6L937.7 98.6L937.7 92.8L937.7 87.0L937.1 81.2L937.1 76.8ZM976.5 86.1L978.8 84.7L978.8 85.8ZM959.5 99.8L962.5 98.0L961.6 99.2ZM952.2 102.7L957.5 100.1L954.6 102.1ZM947.9 105.0L950.8 103.3L949.3 105.0ZM667.4 267.3L670.0 271.7L670.9 277.5L668.5 277.5L667.6 283.3L665.6 290.6L663.0 299.3L660.6 305.2L656.3 306.6L651.9 305.2L650.4 299.3L650.4 295.0L652.8 290.6L652.8 283.3L654.8 279.6L659.2 278.4L663.6 273.2L665.9 269.7ZM679.3 195.8L682.5 195.8L681.1 196.6ZM617.8 130.6L619.8 129.7L624.2 128.6L622.2 130.9L619.8 131.8ZM592.1 129.2L595.0 129.5L600.3 129.7L596.5 130.9L592.4 130.0ZM560.0 121.9L563.0 121.3L569.1 121.0L567.9 124.8L565.3 125.1L560.0 123.1ZM547.5 113.5L550.4 112.6L551.9 114.6L551.6 118.4L549.3 119.3L548.1 117.5ZM548.7 109.1L551.0 107.3L551.3 110.3L550.4 112.0L549.0 111.1ZM530.6 117.2L532.9 116.4L533.5 117.2L532.3 118.1ZM591.2 119.3L594.5 121.0L595.3 121.9L592.1 120.1ZM507.0 86.7L511.3 85.8L513.7 85.2L518.3 84.9L524.5 84.7L527.7 83.5L525.1 82.6L528.6 79.1L524.5 78.3L523.6 76.5L520.7 73.6L518.9 71.0L516.6 69.5L514.0 68.4L517.5 66.6L518.1 64.9L511.9 64.9L514.3 62.0L509.0 62.0L506.7 65.2L507.3 68.1L507.6 71.0L509.6 71.6L509.3 73.3L513.4 72.7L514.8 75.3L514.6 77.4L510.5 77.7L511.6 80.0L508.4 81.5L511.3 82.3L514.8 82.9L514.0 83.5L510.5 84.1ZM494.4 82.3L498.8 82.3L505.2 80.6L505.8 77.4L507.3 73.6L505.2 71.9L500.3 71.9L498.8 74.2L494.4 74.8L496.5 77.7L495.0 80.3ZM453.0 41.9L458.0 39.3L462.4 41.9L469.7 40.1L476.9 39.0L481.0 42.2L483.6 43.9L478.4 45.7L471.1 47.7L463.8 47.4L457.7 46.5L459.4 44.2L453.6 43.6ZM556.0 70.4L560.0 69.5L560.0 71.6L558.0 72.4ZM576.4 65.7L579.0 64.0L578.4 65.7ZM555.7 1.7L564.4 5.5L563.0 7.9L570.3 9.6L574.6 7.6L579.0 4.1L586.3 3.5L579.0 1.2L576.1 -0.6L564.4 -0.3ZM577.5 -0.3L587.7 1.7L602.3 0.0L593.6 -1.7L579.0 -1.7ZM584.8 5.2L590.7 7.0L593.6 6.1L589.2 4.4ZM673.8 24.4L679.6 26.5L685.4 26.8L691.3 26.5L689.8 23.6L686.9 20.1L681.1 19.2L678.1 21.5ZM681.1 18.3L688.4 18.6L694.2 15.7L701.5 12.8L713.1 10.5L723.3 9.0L719.0 8.4L704.4 10.5L692.7 12.2L685.4 14.8ZM665.0 30.5L668.8 30.3L669.4 32.3L665.6 32.3ZM695.6 27.9L699.4 28.8L698.6 29.7L694.8 29.1ZM800.6 2.0L809.4 -0.9L823.9 1.7L828.3 4.7L815.2 5.5L806.4 3.5ZM789.0 -1.7L800.6 -3.8L809.4 -1.7L800.6 -0.3ZM923.1 11.3L928.9 12.2L937.7 11.3L946.4 12.8L943.5 14.5L931.8 14.8L926.0 13.4ZM950.8 13.1L962.5 13.7L961.0 14.8L952.2 14.3ZM933.3 17.5L937.7 17.7L942.0 19.2L934.8 19.2ZM1044.1 24.4L1048.5 24.4L1055.8 25.9L1048.5 26.5L1044.4 25.6ZM724.2 375.0L729.2 375.3L728.3 377.0L724.8 376.7ZM684.9 293.2L686.3 293.8L685.4 294.7ZM691.0 290.6L692.1 291.2L691.3 292.1ZM637.9 249.3L638.8 249.9L638.5 251.0ZM548.4 221.7L549.5 222.0L549.0 222.8ZM474.6 149.8L476.4 149.5L475.5 151.0ZM482.2 149.2L483.1 148.9L482.2 150.7ZM477.5 150.7L478.7 150.7L478.1 151.6ZM830.7 237.7L833.3 237.1L834.7 241.2L832.7 240.0ZM806.7 228.4L808.8 230.1L808.2 230.7ZM811.1 235.3L812.9 237.4L812.0 237.7ZM891.6 135.3L893.6 135.0L892.8 135.9ZM896.0 156.2L897.7 154.5L896.6 155.3ZM1000.4 60.8L1003.6 60.5L1001.8 62.3ZM815.2 5.5L829.8 4.7L823.9 6.4ZM793.9 193.2L794.8 194.0L794.2 198.7L793.3 198.1ZM914.9 249.0L916.7 249.9L915.8 252.5L914.6 250.8ZM903.6 265.6L906.5 265.3L906.8 266.5L904.1 266.8ZM921.3 272.6L922.8 273.2L921.9 274.0ZM921.9 336.3L926.0 336.6L924.5 337.4L922.2 337.2ZM224.7 5.8L230.5 5.8L229.7 6.7L225.3 6.7ZM216.0 6.7L218.9 7.3L217.4 8.4L214.5 7.9ZM242.2 12.8L249.5 12.8L251.0 14.3L245.1 14.8L241.9 14.0ZM239.3 3.5L243.7 4.1L242.8 5.8L238.4 5.2ZM243.7 6.4L251.0 6.7L248.0 7.3ZM194.1 5.8L201.4 6.1L200.5 7.6L195.0 7.3ZM192.6 3.8L202.8 3.8L201.4 4.9L194.1 4.9ZM175.1 11.6L179.5 11.6L179.5 12.8L175.7 12.5ZM217.4 13.1L220.9 13.4L219.7 14.3ZM211.6 18.3L216.5 18.3L217.4 19.8L213.6 19.8ZM297.6 34.6L303.4 34.6L304.0 36.7L299.1 36.7ZM304.3 34.9L307.8 35.2L306.4 36.4ZM281.0 49.2L285.9 49.5L284.5 50.9L281.6 50.6ZM288.9 50.9L291.8 51.2L291.5 52.9L289.4 52.7ZM294.7 47.4L297.6 47.7L296.7 48.9ZM332.6 52.9L335.2 53.2L334.3 54.1ZM290.3 67.8L293.2 68.4L292.6 70.1L290.6 69.5ZM363.8 28.2L369.0 27.9L372.0 30.0L367.6 30.8L364.1 30.0ZM34.3 76.8L38.7 75.3L39.0 76.2L35.2 77.7ZM42.7 72.7L47.7 72.4L47.1 73.6L43.0 74.2ZM345.7 419.5L353.0 416.9L357.4 416.6L355.9 418.6L350.1 420.4L342.8 422.4L335.5 422.4L339.9 420.9ZM351.6 412.8L355.3 412.5L354.5 413.4ZM345.7 414.2L348.6 414.2L348.1 415.1ZM353.0 418.6L356.5 418.3L355.9 419.8ZM389.5 408.7L393.5 408.7L392.4 409.3ZM361.8 410.2L363.8 410.2L363.2 410.8ZM571.4 68.7L573.5 65.7L572.9 67.8ZM587.5 62.3L590.7 62.0L590.1 63.1L587.7 63.4ZM588.3 60.8L590.7 60.8L590.1 61.5ZM552.5 71.0L554.8 71.0L554.8 72.1L552.8 72.1ZM555.7 72.7L558.6 72.7L558.0 73.5ZM604.4 127.1L605.8 126.5L605.2 127.9ZM599.1 118.1L601.2 118.1L600.6 119.0ZM565.3 127.7L566.2 128.0L565.6 128.3ZM891.6 135.0L893.6 135.0L892.8 135.7ZM926.6 121.0L927.8 121.6L927.2 122.5ZM900.3 131.5L901.2 132.4L900.6 133.2ZM903.8 144.0L904.7 144.3L904.1 144.6ZM900.6 149.5L901.8 150.1L900.9 150.4ZM879.3 144.6L880.5 144.9L879.6 145.5ZM838.5 220.2L839.7 220.8L838.8 221.7ZM837.4 240.0L839.4 240.3L838.5 241.7ZM852.2 252.5L856.0 252.5L855.7 253.4L852.5 253.4ZM882.8 256.6L885.2 256.3L884.0 257.3ZM886.3 256.3L888.4 256.3L887.5 256.9ZM890.4 254.8L893.3 254.5L892.5 255.6ZM906.2 253.4L907.6 254.2L906.5 255.7L905.6 254.5ZM910.8 248.1L911.7 249.0L911.1 249.9ZM918.7 234.5L921.3 235.3L919.9 235.9ZM918.7 237.4L922.5 237.5L921.0 238.0ZM903.6 232.7L906.5 232.7L905.3 233.6ZM901.8 237.7L903.8 238.0L902.7 238.4ZM894.8 236.5L896.8 236.8L896.0 237.4ZM886.3 237.4L891.0 237.7L889.0 238.2ZM882.0 236.2L883.7 236.2L882.8 237.1ZM881.1 245.8L882.8 246.1L882.0 248.7ZM880.2 246.1L881.4 246.4L880.8 247.8ZM951.1 238.2L953.4 238.2L952.2 238.8ZM989.0 259.5L992.5 260.4L991.0 261.2L989.3 260.4ZM991.9 256.9L993.9 259.5L993.1 260.1L991.9 258.0ZM984.9 254.5L989.6 256.9L988.7 257.2L985.2 255.4ZM980.0 251.9L982.9 253.7L982.0 254.0ZM982.0 255.7L984.0 256.9L983.2 257.4ZM993.9 262.4L996.9 263.6L995.4 263.8ZM1009.4 275.2L1011.2 276.1L1010.9 277.8L1009.4 277.2ZM1011.2 279.0L1012.6 280.1L1011.7 280.4ZM1013.8 283.6L1014.9 283.9L1014.4 284.2ZM1044.4 281.0L1048.5 279.6L1048.2 280.7L1045.6 281.9ZM884.6 203.3L886.6 203.0L886.1 204.5ZM883.4 203.3L885.2 199.8L884.9 202.2L883.7 204.8ZM882.8 196.1L885.2 196.9L884.0 197.8ZM878.8 212.9L880.2 213.2L879.3 213.8ZM876.1 214.7L877.6 215.0L876.7 215.4ZM888.1 227.2L889.0 227.5L888.4 228.1ZM802.9 224.3L804.7 225.2L804.1 225.6ZM821.3 247.8L822.2 248.1L821.6 248.4ZM814.0 238.5L815.8 240.6L815.5 241.2L814.0 239.4ZM828.0 232.4L829.5 233.0L828.6 233.6ZM827.4 228.9L828.9 229.2L828.3 230.0ZM826.6 202.2L827.2 202.8L826.9 203.3ZM1006.8 71.6L1009.7 72.7L1008.2 73.3ZM1026.6 78.3L1029.2 78.5L1028.1 79.0ZM976.5 84.9L979.1 86.1L977.6 87.0ZM959.5 99.2L962.5 98.0L961.9 98.6L959.8 99.8ZM308.4 114.0L313.6 112.9L312.2 113.7ZM297.3 154.2L299.1 155.6L298.5 156.8L297.9 155.3ZM293.2 154.8L296.4 154.8L295.3 155.3ZM308.7 170.8L310.7 170.5L310.1 171.6ZM343.4 185.0L345.1 184.7L344.3 186.2ZM345.1 189.4L346.0 189.7L345.7 190.5ZM335.8 200.1L337.6 200.1L337.0 200.7ZM376.0 233.3L380.7 233.0L381.9 235.3L377.8 237.4L375.8 235.3Z" clip-rule="nonzero"/></clipPath>
<g id="coast" filter="url(#wig)"><path class="coast" d="M33.7 41.6L38.7 39.9L44.5 39.0L51.8 40.1L49.7 37.8L45.4 35.8L37.5 33.7L39.5 32.0L47.4 30.0L51.2 27.9L60.0 26.5L67.2 25.0L76.0 26.2L83.3 27.3L92.0 27.6L100.8 28.5L109.5 29.1L116.8 30.3L124.1 32.0L128.5 30.8L135.8 30.0L143.1 28.5L149.8 27.3L153.3 29.4L159.7 30.3L161.1 28.5L169.3 29.4L179.5 31.4L188.3 32.0L191.2 33.7L187.4 35.2L195.5 35.5L202.8 34.9L208.1 37.2L209.3 34.0L216.0 32.9L221.8 34.6L227.6 35.5L236.4 35.2L239.3 32.9L244.2 33.5L243.7 30.0L246.0 27.1L242.8 25.0L247.7 23.0L252.4 24.7L254.5 28.2L256.5 30.3L259.7 32.9L264.1 31.1L267.0 33.2L266.4 36.1L270.8 36.4L273.7 33.2L274.3 29.7L281.6 29.4L285.9 31.1L285.9 33.7L283.6 36.9L286.5 36.9L280.1 39.6L273.4 39.3L271.4 41.6L267.9 44.2L262.6 46.3L258.2 47.1L258.8 49.2L253.6 51.2L250.1 54.1L247.5 57.9L247.7 61.4L252.4 62.0L254.2 65.7L261.2 66.6L268.4 69.2L275.7 71.6L283.0 71.9L283.9 76.8L286.5 80.6L289.4 83.2L292.6 82.9L293.8 79.4L293.2 75.3L291.5 73.0L297.6 70.1L300.2 66.6L295.3 62.0L297.6 58.2L295.9 54.4L297.0 50.6L303.4 51.2L309.3 50.9L314.5 53.5L320.1 55.0L320.9 60.2L324.7 62.8L330.3 61.4L333.5 58.2L335.2 56.7L339.9 61.7L343.4 66.6L347.2 71.0L353.0 73.0L348.6 75.9L355.9 74.8L358.8 77.4L361.2 80.6L358.0 82.6L352.1 84.1L348.6 86.1L339.9 86.1L329.7 86.4L323.9 89.9L319.5 94.3L316.6 96.3L320.9 94.0L326.8 90.5L332.6 89.3L336.1 90.5L334.1 92.5L330.6 92.8L334.6 95.1L334.9 97.7L339.0 98.9L343.7 99.2L347.5 95.7L348.9 98.6L345.7 100.7L339.0 102.7L332.6 105.9L330.6 103.9L334.6 100.7L331.1 100.9L328.2 102.1L323.0 103.6L318.9 105.6L317.1 108.2L317.7 110.5L319.5 110.3L319.5 111.4L315.7 111.7L310.7 112.9L307.8 114.3L307.2 117.2L304.9 119.3L303.4 117.5L304.3 120.7L302.3 124.2L300.8 120.4L300.5 124.2L302.0 125.4L303.1 129.7L299.6 131.5L296.1 133.8L292.6 135.9L290.3 137.3L287.4 139.3L285.9 143.4L286.8 146.6L288.9 149.8L290.3 154.5L289.7 158.2L287.1 159.4L285.1 156.2L282.4 151.8L282.4 148.1L278.7 144.9L274.6 146.0L271.4 144.0L267.0 144.3L262.6 144.6L263.2 147.8L259.7 147.5L256.2 146.3L251.0 145.7L247.2 147.2L243.7 149.5L239.9 152.1L239.9 156.8L238.4 162.6L238.4 167.6L240.2 172.8L243.1 176.6L246.6 178.3L248.3 179.5L253.3 178.3L256.8 178.6L259.4 175.4L260.0 171.3L265.5 169.9L269.9 169.9L270.5 171.6L268.4 175.4L267.6 178.9L266.1 182.4L264.7 186.2L267.6 186.5L272.8 186.2L277.2 186.5L280.7 188.8L280.1 194.0L279.5 199.8L281.6 203.3L284.5 206.2L287.4 206.8L290.3 205.7L292.1 204.8L296.1 205.4L298.2 207.4L299.4 209.2L302.0 205.4L303.1 201.9L305.2 200.1L307.2 199.6L311.3 197.8L314.5 196.4L316.0 197.5L313.9 199.8L315.4 201.6L314.2 204.8L316.3 205.4L316.0 201.3L318.9 199.3L319.5 196.9L320.9 199.0L324.4 201.0L325.3 201.9L329.7 201.6L334.1 203.0L337.0 201.6L342.8 201.3L341.1 202.8L345.7 204.5L347.2 207.7L352.1 211.2L356.5 215.0L362.6 215.3L367.6 216.1L372.5 219.3L374.3 220.2L377.8 226.6L377.8 230.4L375.5 232.7L376.0 235.9L381.3 236.8L382.2 233.6L384.2 234.5L389.5 235.6L393.5 238.2L394.4 240.6L397.3 239.4L402.6 240.9L407.0 240.6L411.3 243.2L415.7 246.4L420.7 247.6L422.1 252.8L421.5 257.2L419.5 260.4L415.7 264.4L411.9 270.0L409.9 271.7L409.9 276.1L409.9 283.3L407.8 289.2L406.1 291.8L404.0 296.4L401.1 299.0L396.8 299.3L393.3 300.2L388.6 302.2L384.2 305.7L381.9 308.9L381.9 313.3L379.8 316.8L376.9 321.2L374.0 324.6L371.7 326.1L367.9 330.5L366.1 332.8L363.5 334.2L359.7 334.0L355.9 332.5L353.3 331.9L356.8 335.4L356.5 337.7L358.3 338.9L355.9 343.0L351.6 345.0L345.7 345.9L342.2 345.6L341.9 350.5L337.8 352.0L334.1 351.7L334.1 354.6L337.0 355.2L338.1 356.6L334.1 358.1L332.9 361.9L329.7 363.9L326.8 366.2L328.8 369.2L331.7 371.5L326.8 375.8L322.4 379.3L322.4 382.5L324.1 384.6L320.9 385.2L317.1 386.0L316.9 388.9L312.2 388.1L309.3 386.0L306.4 384.3L304.0 380.2L303.4 375.0L303.1 369.2L303.1 368.0L307.2 365.7L310.1 361.9L311.3 356.1L308.7 354.0L308.4 348.8L309.6 347.3L309.0 342.1L310.4 339.5L312.2 334.2L314.8 328.4L315.1 319.7L316.0 313.9L318.0 306.6L318.3 301.1L318.9 291.2L318.6 286.0L315.1 282.8L309.3 279.8L304.3 276.9L301.1 272.9L298.8 267.6L295.6 261.5L294.4 258.6L292.6 255.7L290.6 252.2L287.1 249.9L286.5 246.1L289.2 242.6L290.9 239.7L289.7 240.9L287.4 238.8L288.0 235.3L289.7 233.0L290.3 230.1L293.5 228.6L294.4 225.7L297.9 221.7L297.6 216.4L297.9 212.9L296.4 211.5L295.3 209.4L295.0 207.7L291.8 206.4L289.4 208.6L290.3 210.9L288.0 211.5L285.9 209.7L282.2 208.6L281.6 208.9L279.8 207.7L276.6 204.5L275.7 203.0L273.4 203.3L273.4 200.4L270.8 197.2L268.2 194.9L267.9 193.7L264.1 193.4L259.7 192.0L254.7 190.2L250.1 186.2L246.6 185.3L242.2 186.8L236.4 185.0L232.3 183.6L226.2 180.4L221.8 179.2L217.4 175.7L215.4 173.1L216.5 169.9L213.3 164.9L209.3 160.9L204.9 158.0L204.3 154.8L200.5 151.6L196.4 148.4L194.1 142.8L191.2 140.8L188.8 139.9L189.1 143.7L192.6 148.1L195.3 152.1L198.8 156.2L201.1 160.9L204.3 164.9L203.1 165.8L201.7 163.8L197.0 160.6L196.1 156.5L192.3 154.5L189.4 153.0L190.6 149.8L186.2 145.2L183.3 139.9L181.8 137.3L178.1 133.5L172.2 132.1L168.1 126.3L166.4 122.5L162.6 117.5L160.8 114.9L161.4 110.3L160.6 107.3L162.0 102.7L162.0 98.0L160.0 91.6L164.9 92.2L166.4 94.8L166.7 91.6L164.3 89.0L159.7 86.4L153.3 84.1L150.9 80.3L147.4 76.5L143.6 73.9L141.0 70.1L137.8 67.5L133.7 64.3L129.4 61.7L125.6 63.1L121.2 60.8L115.9 59.1L109.5 57.9L103.7 57.6L97.9 55.6L92.0 56.4L87.7 58.5L80.9 60.2L82.4 56.4L86.2 54.4L80.9 55.0L78.0 57.9L74.5 60.2L70.2 64.3L64.3 67.5L58.5 70.4L51.2 72.1L43.0 73.6L48.3 71.0L54.1 69.5L60.8 66.6L64.3 62.3L60.0 61.4L55.6 61.4L51.2 62.0L51.8 59.3L49.5 57.3L43.9 56.4L39.5 53.2L42.5 49.7L48.3 48.6L54.1 46.8L54.1 44.8L48.3 44.8L41.0 44.8L38.1 43.9ZM310.7 4.7L319.5 7.0L325.3 11.1L339.9 10.8L353.0 12.8L358.8 17.2L363.2 21.5L364.7 25.9L369.0 27.9L364.7 29.7L374.9 31.7L367.6 36.1L367.6 40.4L372.0 45.7L377.8 50.6L382.2 55.0L389.5 57.6L395.3 58.2L398.2 56.4L399.7 53.5L402.6 49.2L407.0 43.9L412.8 41.6L418.6 40.7L427.4 35.8L437.6 34.0L447.8 32.9L456.5 29.4L458.0 27.3L450.7 25.3L459.4 22.4L453.6 20.1L462.4 17.7L465.3 13.7L466.7 9.6L462.4 6.7L471.1 4.7L468.2 0.9L474.0 -1.2L474.0 -9.0L304.9 -9.0L325.3 -1.2L331.1 0.9L319.5 2.6ZM617.8 141.4L621.3 142.0L623.6 141.1L625.4 137.9L625.9 135.9L627.4 132.7L628.3 128.9L628.9 125.7L625.7 126.0L622.7 127.1L619.2 127.7L615.5 126.0L612.8 125.4L611.7 126.8L608.2 126.8L605.8 125.7L603.5 125.4L603.2 123.1L600.9 120.7L601.7 119.0L599.7 117.5L600.0 116.1L603.2 114.9L607.9 114.9L609.6 114.0L608.5 112.9L612.0 112.6L615.5 112.3L618.4 110.5L622.7 110.3L625.9 110.3L628.6 111.7L631.5 112.6L635.9 113.2L640.2 113.2L644.6 111.7L644.6 109.1L640.2 106.2L635.9 103.6L632.4 101.5L635.0 98.6L637.9 95.4L634.4 95.1L630.9 96.6L626.2 97.7L625.7 99.5L630.0 100.7L626.5 101.5L621.9 103.3L618.7 100.7L621.3 98.6L616.9 97.5L614.0 96.9L611.7 99.2L609.9 100.9L607.6 102.7L606.7 105.9L604.7 107.6L604.4 109.4L605.8 111.4L608.2 112.4L605.8 113.2L603.2 113.2L601.5 114.6L600.0 115.8L599.7 114.3L598.0 113.5L594.7 113.5L593.0 114.0L594.5 115.5L591.8 115.5L590.4 114.6L589.5 116.1L591.0 118.4L590.4 119.3L593.6 121.3L593.9 122.8L592.4 122.2L590.7 122.2L591.2 123.6L590.4 123.3L591.0 126.3L589.2 126.5L588.3 125.1L586.9 125.4L585.4 122.2L586.9 121.3L589.8 121.6L586.0 120.7L584.2 119.3L582.5 117.2L580.2 114.9L580.5 112.0L579.6 110.5L577.0 108.8L571.7 105.9L567.9 103.9L565.9 100.9L564.1 102.1L563.3 100.1L559.5 100.4L560.0 101.8L559.8 103.9L563.0 105.6L565.0 108.8L567.6 110.5L570.8 110.5L570.0 111.7L572.9 112.9L576.1 114.3L577.5 115.8L577.0 116.7L575.8 115.5L573.2 114.6L572.0 116.7L573.8 119.0L572.0 119.6L570.8 121.9L569.4 121.9L570.0 119.9L570.8 118.4L569.4 116.1L567.3 115.5L566.5 114.0L564.7 113.7L561.5 112.3L559.2 110.8L556.3 109.1L554.2 107.3L553.3 104.7L550.4 103.6L547.8 103.9L545.5 105.0L542.8 106.8L539.1 106.5L535.8 105.9L532.6 107.1L532.9 109.1L530.0 112.0L526.5 113.2L525.9 114.3L523.0 116.7L524.2 119.6L522.1 121.0L521.6 123.1L518.6 124.2L517.2 125.7L510.8 125.7L508.1 127.4L507.3 127.7L505.2 126.3L503.5 124.2L500.6 124.8L497.6 124.8L497.9 121.0L495.9 119.9L496.5 117.8L497.9 114.6L498.2 112.6L497.9 110.0L496.5 107.6L498.5 106.2L500.9 105.0L507.0 105.6L512.5 105.9L518.3 106.2L519.8 102.7L520.4 99.8L520.1 98.0L517.2 95.4L513.4 93.7L509.9 92.5L509.9 91.3L514.8 90.5L519.2 91.1L518.6 87.9L520.1 88.7L523.9 88.4L528.0 86.4L528.6 84.4L533.2 82.9L535.8 80.9L537.6 78.3L541.1 77.1L544.3 76.5L547.8 76.5L549.5 75.3L548.7 72.7L547.2 70.7L547.5 67.2L551.3 66.0L554.5 64.6L553.6 67.8L555.4 68.7L552.2 71.3L552.5 73.0L555.4 75.3L558.6 74.8L563.0 73.9L565.3 75.6L570.3 74.5L574.6 73.0L578.1 74.2L581.9 72.7L585.1 70.4L584.8 67.8L586.6 65.2L589.5 64.6L591.5 66.3L594.2 66.0L594.7 62.8L592.1 61.4L592.1 60.2L595.6 59.3L600.9 59.3L605.2 59.1L611.1 58.2L606.7 56.1L600.9 56.7L596.5 57.3L590.7 58.2L588.3 56.4L585.7 55.0L586.0 50.6L588.6 48.3L594.2 44.8L597.7 43.1L595.3 41.3L589.2 41.0L585.7 43.9L582.8 47.4L577.5 49.7L574.0 52.1L573.5 55.6L577.5 57.9L576.7 60.2L572.6 62.3L572.0 66.6L570.3 68.9L566.2 69.2L565.0 71.3L561.2 71.3L560.9 68.4L558.0 64.9L556.3 61.7L554.8 59.6L551.6 60.8L547.8 63.1L544.0 63.7L539.9 61.4L538.2 57.9L538.2 53.5L542.6 50.3L548.4 48.0L552.8 46.3L557.1 43.3L560.9 39.9L565.9 35.8L570.3 32.9L577.5 30.0L584.8 28.2L592.1 26.8L598.8 25.6L605.2 25.9L612.5 27.6L609.6 29.4L615.5 30.0L621.3 30.5L628.6 31.1L635.9 33.2L641.7 35.2L643.7 38.1L640.2 39.9L634.4 40.1L625.7 38.7L619.2 37.5L624.2 40.4L625.1 44.5L630.0 46.5L633.8 45.4L635.3 43.9L640.2 44.5L641.7 41.9L647.5 39.3L651.9 40.1L652.8 37.5L651.3 35.5L652.5 33.2L657.7 34.0L659.2 37.5L663.6 35.5L670.9 34.0L679.6 34.0L682.5 33.7L691.3 32.6L697.1 33.5L700.9 31.7L700.0 29.4L708.8 30.0L713.1 31.1L719.0 32.3L722.8 33.7L724.8 31.7L719.8 30.0L718.4 26.5L723.3 23.0L726.3 20.1L732.1 19.5L735.9 20.9L735.6 25.3L734.1 29.4L737.9 33.2L734.4 36.7L731.5 39.0L735.0 39.6L740.3 36.9L739.4 33.7L737.3 30.3L738.8 25.9L742.9 20.7L746.7 23.9L751.0 22.7L749.6 25.3L755.4 21.8L759.8 22.1L758.3 18.6L765.6 18.0L775.8 17.5L778.7 14.3L786.0 12.5L797.7 11.3L809.4 10.8L818.1 8.4L827.7 6.4L834.2 7.6L844.4 9.3L854.6 11.3L853.1 14.8L844.4 17.2L835.6 19.2L841.4 18.6L853.1 17.7L857.5 18.3L870.6 19.8L882.3 18.3L889.6 18.3L895.4 18.9L900.6 22.4L899.8 25.9L905.6 26.5L911.4 24.4L920.2 24.4L928.9 24.4L931.8 21.8L934.8 20.7L949.3 21.8L961.0 24.1L968.3 26.2L978.5 25.9L988.7 27.3L991.6 30.0L998.9 29.7L1007.7 30.3L1014.9 29.7L1020.8 32.0L1021.6 28.8L1028.1 29.1L1039.7 30.3L1048.5 32.0L1054.3 33.7L1061.6 37.5L1066.0 37.2L1073.3 38.7L1078.2 40.1L1074.7 41.9L1070.3 44.8L1068.3 45.4L1063.1 44.2L1055.8 41.9L1051.4 39.6L1049.4 41.3L1044.1 42.2L1040.6 44.2L1045.6 45.4L1047.0 50.3L1041.2 50.6L1032.4 52.7L1025.1 55.0L1020.2 58.2L1013.5 56.4L1007.7 58.2L1003.3 58.2L999.8 60.8L996.0 63.7L999.5 64.3L998.3 68.4L995.4 72.4L990.2 74.8L986.4 78.3L985.2 81.2L980.5 84.4L979.4 80.3L977.3 75.3L978.5 69.5L981.4 64.3L988.7 59.9L996.0 56.4L1000.9 53.5L1003.3 50.6L998.9 50.6L991.6 55.0L988.7 52.7L980.8 53.5L975.6 59.1L968.3 60.8L963.3 59.3L958.1 59.1L949.3 59.6L941.2 59.9L931.8 63.7L924.5 68.1L918.1 73.0L923.1 75.6L927.5 75.3L931.8 76.8L935.6 77.7L933.6 82.6L932.7 87.0L927.5 92.8L923.1 98.0L918.7 103.0L912.0 107.9L908.5 106.8L904.7 109.1L901.8 112.6L897.7 115.5L895.4 117.5L898.0 120.4L900.9 125.4L900.3 129.7L895.7 131.5L892.2 132.1L892.5 127.7L892.8 123.6L888.1 122.2L889.0 117.8L886.3 116.1L882.3 116.9L877.6 119.3L879.9 114.6L876.4 113.5L872.9 116.1L870.6 118.4L866.8 119.0L867.7 121.3L870.6 124.2L877.6 123.1L881.1 123.6L880.5 125.1L875.0 127.7L871.5 130.6L874.1 132.7L876.1 137.6L879.1 140.2L879.1 142.5L876.1 144.3L879.1 145.5L877.9 150.1L874.4 153.9L872.4 157.4L868.6 161.2L863.9 164.6L860.4 166.4L856.6 167.6L853.1 168.4L849.6 169.6L845.5 170.5L845.8 173.1L844.1 173.4L843.5 169.9L840.0 169.3L836.2 171.3L834.4 173.4L832.1 177.4L834.2 180.9L837.4 184.1L839.7 185.9L842.0 192.3L842.3 197.5L840.9 199.6L836.2 202.2L835.0 204.5L831.2 206.2L829.2 207.4L829.8 203.3L826.9 201.9L824.5 200.4L822.5 197.2L818.1 195.5L817.5 193.2L815.2 193.4L814.9 197.5L812.9 201.9L813.4 205.4L815.8 208.0L816.9 211.5L819.9 212.4L821.9 214.4L824.5 217.9L825.4 221.4L825.7 224.6L827.7 228.4L825.4 228.6L821.9 226.0L819.0 224.0L817.2 220.8L816.1 216.7L815.8 213.8L813.7 211.5L810.5 208.9L811.1 201.9L811.1 197.5L809.7 192.3L808.5 188.8L808.2 184.4L806.2 183.0L804.1 184.7L801.5 186.5L798.6 185.9L799.2 181.5L796.8 177.2L794.2 173.7L791.9 170.2L791.3 167.3L787.8 168.4L783.1 169.0L780.2 169.6L777.3 170.2L777.0 172.2L773.8 174.8L771.5 176.3L766.5 180.9L763.6 184.1L759.8 186.5L757.2 188.2L757.8 194.3L756.3 197.5L756.6 202.5L754.0 205.4L751.6 206.5L749.6 208.9L747.8 207.7L745.8 203.3L744.6 199.8L741.7 194.9L740.0 190.2L737.9 185.9L736.5 180.1L735.9 176.6L735.9 171.3L735.3 167.8L733.8 170.8L730.0 172.2L724.8 167.6L728.3 165.8L724.2 164.9L720.4 163.2L719.0 160.3L716.9 158.5L711.7 158.8L705.3 159.4L700.3 158.8L695.6 158.5L692.1 157.7L689.8 154.5L687.8 153.3L682.5 155.0L677.6 152.7L673.8 151.3L671.7 148.4L670.0 144.9L665.9 144.3L663.6 146.3L664.4 149.2L667.4 152.4L669.7 155.0L670.0 158.2L671.7 159.7L672.3 156.8L673.8 156.8L674.1 159.7L673.2 161.2L676.7 162.0L681.6 162.0L684.9 158.8L687.2 156.5L688.1 159.7L689.8 162.0L694.5 163.8L698.0 167.0L695.1 171.3L692.1 173.7L691.6 177.2L688.4 179.5L684.9 181.5L681.1 183.0L675.8 185.3L672.3 187.9L666.8 190.2L662.1 192.9L654.8 195.2L650.4 195.5L649.6 193.7L648.7 189.4L647.8 184.4L644.6 180.1L641.7 175.7L637.6 169.9L636.4 164.9L632.9 161.2L630.6 156.8L627.1 152.4L625.1 150.4L625.7 146.6L624.8 148.6L623.3 151.6L620.4 149.2L618.7 145.5L618.1 146.6L619.8 150.1L622.2 153.3L624.2 156.8L627.1 162.6L627.7 165.5L631.5 169.9L632.1 175.4L635.9 180.1L638.8 187.0L643.7 190.5L648.1 194.6L649.9 196.1L649.6 198.7L652.5 201.9L654.8 202.2L660.6 200.1L667.1 199.6L672.9 197.8L672.9 201.9L670.0 208.3L666.5 215.0L663.0 219.9L657.1 225.7L651.9 229.5L647.5 233.6L643.7 238.0L640.5 241.7L638.8 245.5L637.0 249.6L638.5 252.8L638.8 258.3L640.8 262.4L641.7 265.9L641.7 270.2L642.3 276.1L640.2 279.6L635.9 282.5L631.5 284.5L628.6 287.4L625.4 290.0L624.8 293.5L626.8 297.3L627.1 301.7L624.2 304.6L619.8 306.0L619.0 308.6L619.2 312.4L617.5 316.2L614.0 319.4L610.5 323.5L605.8 327.8L600.9 330.8L598.2 331.3L592.1 331.3L587.7 331.9L581.9 333.7L577.5 332.2L577.0 329.9L576.1 327.6L577.0 324.9L574.0 320.9L571.7 315.6L567.9 310.1L566.2 304.6L565.9 299.0L562.7 293.2L559.5 287.1L558.0 282.5L558.9 276.6L560.9 271.1L563.0 268.5L563.8 263.6L561.8 258.6L562.4 255.1L559.5 250.2L558.0 246.4L554.8 242.9L551.3 238.8L549.3 234.8L551.3 231.3L551.9 226.6L551.6 222.2L549.8 219.3L547.8 219.3L544.0 219.6L541.1 219.9L538.8 216.1L536.1 214.1L533.5 213.8L528.0 214.4L525.1 215.8L520.7 217.3L517.8 218.5L514.0 217.6L509.6 217.3L506.1 218.2L501.4 219.6L497.4 217.9L492.1 214.1L489.2 212.1L486.3 209.4L485.1 207.4L484.2 204.8L481.0 201.9L479.9 200.4L477.5 198.1L474.9 196.4L474.6 193.2L472.9 189.7L474.3 188.2L475.5 185.3L476.9 179.8L476.1 176.0L476.1 172.8L474.0 171.6L474.3 169.0L476.1 165.5L477.5 162.9L480.1 159.7L481.3 156.5L484.5 153.3L486.0 151.3L490.6 149.2L493.9 147.2L495.6 144.0L495.0 140.8L496.8 137.9L499.4 135.6L503.2 133.5L505.5 130.3L506.4 128.3L508.1 128.0L510.5 130.0L514.8 129.7L517.8 130.3L521.3 128.6L524.2 127.7L526.5 126.3L532.3 125.4L538.2 125.4L543.4 124.8L546.9 125.1L552.2 123.9L553.6 125.4L555.7 124.5L554.5 128.3L555.7 130.0L553.3 132.7L553.0 133.8L556.3 135.9L559.5 137.0L562.1 136.7L567.9 138.2L568.8 140.5L572.6 141.7L576.1 143.4L579.9 144.3L581.9 142.3L582.2 138.8L586.3 136.7L590.7 137.6L593.6 139.3L597.1 140.5L602.9 141.1L608.2 142.5L611.1 141.4L614.0 140.5L616.3 141.1ZM855.1 298.2L856.6 295.8L861.9 292.9L866.2 292.4L870.6 290.6L876.4 289.4L880.2 285.4L879.9 281.9L884.0 283.0L884.3 279.6L888.1 277.5L891.0 273.7L893.9 272.9L896.8 275.5L899.8 275.8L901.8 275.5L904.1 269.1L907.1 267.9L910.0 267.6L910.6 265.6L914.3 267.3L918.7 267.6L922.5 267.9L921.6 270.8L919.9 272.6L918.7 275.5L921.6 278.4L926.0 280.7L930.4 283.3L934.2 283.3L935.9 279.0L936.5 273.2L936.5 269.1L938.3 264.1L940.0 264.4L942.0 269.7L942.9 274.0L946.4 275.8L947.9 280.4L949.9 287.1L953.7 288.9L957.5 291.5L959.5 296.4L963.3 298.5L963.9 301.1L969.2 306.0L970.3 309.5L971.2 314.5L969.7 321.2L968.3 326.4L965.4 329.0L963.3 333.7L961.3 338.6L960.7 341.5L955.2 342.7L950.5 345.9L947.3 343.8L945.0 343.6L942.0 345.3L936.2 343.8L931.8 341.5L931.0 338.0L927.5 336.0L927.5 333.7L925.4 334.8L924.5 331.9L926.0 328.4L924.0 330.2L921.0 333.1L919.6 333.7L917.8 330.8L914.9 327.8L910.0 325.5L905.6 324.1L899.8 324.6L893.9 326.1L888.1 327.8L885.2 330.5L882.3 331.0L877.9 330.8L872.9 331.3L867.7 334.2L863.3 334.2L859.2 332.2L859.5 329.9L861.0 327.0L860.4 322.6L858.6 318.2L856.6 313.3L854.3 308.6L855.4 305.2L854.3 302.2ZM288.9 18.0L299.1 17.7L304.9 20.9L315.1 24.1L323.9 27.6L327.6 31.1L335.5 36.1L344.3 38.1L338.4 42.8L331.1 40.7L334.1 46.8L331.1 49.2L323.9 49.7L314.2 47.1L309.3 44.8L297.6 45.4L296.1 42.8L307.8 41.9L310.7 36.7L306.4 33.2L299.1 29.4L293.2 29.1L285.9 28.8L275.7 28.5L268.4 27.9L262.6 25.3L261.7 21.2L267.0 18.0L275.7 17.7L277.2 21.2L272.8 23.6L278.7 25.3L285.9 22.4ZM269.9 42.2L275.7 41.3L280.1 42.8L287.4 45.7L289.4 47.4L283.0 47.1L280.1 46.0L274.9 48.6L269.9 47.4L272.8 45.7ZM181.0 24.7L191.2 19.2L202.8 20.7L211.6 19.5L217.4 20.9L216.0 25.3L226.2 28.2L229.1 30.3L224.7 32.3L214.5 31.1L205.8 32.6L194.1 33.2L183.9 30.3L192.6 27.9L181.0 27.1ZM157.1 22.4L163.5 25.3L170.8 24.7L176.6 22.4L185.3 19.2L186.8 16.6L179.5 16.3L169.3 15.4L160.6 16.3L162.0 19.2ZM226.2 17.7L234.9 17.5L240.7 20.7L236.4 25.0L227.6 24.1L224.7 20.7ZM245.1 16.9L259.7 17.2L255.3 20.9L249.5 23.0L244.2 20.4ZM233.5 31.1L240.7 29.1L245.1 31.4L242.2 33.2L236.4 32.6ZM255.3 9.3L262.6 9.9L272.8 12.2L290.3 12.8L291.8 15.1L284.5 15.7L267.0 15.7L255.3 14.8L252.4 11.9ZM182.4 13.4L191.2 14.8L199.9 15.4L211.6 14.5L216.0 11.9L208.7 11.1L204.3 9.3L194.1 10.5L183.9 10.5ZM220.3 10.5L234.9 9.3L239.3 12.5L232.0 14.3L223.2 13.1ZM264.1 10.2L275.7 7.6L290.3 10.5L296.1 8.4L293.2 4.7L304.9 3.5L306.4 1.2L319.5 -1.2L325.3 -3.2L331.1 -9.0L255.3 -9.0L261.2 -3.2L269.9 -1.2L274.3 2.0L267.0 4.9ZM243.7 -1.2L249.5 2.6L258.2 4.7L265.5 3.8L259.7 0.3L255.3 -3.2ZM217.4 2.0L232.0 2.9L233.5 5.5L223.2 6.1L216.0 4.4ZM166.4 10.8L176.6 12.2L185.3 9.6L179.5 7.3L170.8 8.7ZM288.9 19.5L296.1 18.3L302.0 20.1L297.6 21.2L290.3 21.5ZM284.5 78.0L289.7 78.8L286.8 79.1ZM350.7 93.7L353.0 89.9L356.8 85.2L360.3 82.3L361.8 83.2L359.4 87.0L361.8 87.6L366.1 88.4L368.2 91.1L369.9 94.0L368.2 96.9L365.3 94.5L361.8 96.0L360.3 94.0L355.9 94.0ZM335.5 87.3L341.3 88.1L343.7 89.6L338.4 89.0ZM336.1 96.6L341.9 97.2L341.3 98.6L337.6 97.7ZM149.5 84.7L156.2 85.5L159.1 87.0L163.5 90.5L163.5 91.9L159.1 90.8L154.7 88.4ZM135.8 75.1L139.3 75.3L141.0 80.3L137.8 78.5ZM73.1 64.0L79.5 64.0L78.0 66.6L73.1 66.9ZM22.9 47.4L27.9 48.3L31.4 48.6L28.5 49.2L22.9 48.3ZM35.8 57.3L40.1 57.0L39.5 58.5L36.0 58.5ZM276.0 168.7L281.0 165.8L285.9 164.9L291.8 166.4L296.7 169.0L302.0 170.8L307.2 173.7L304.9 174.5L297.3 174.5L298.5 172.5L294.7 170.8L290.3 169.0L285.1 167.8L282.2 166.7L278.9 168.1ZM306.6 178.3L309.9 174.5L314.5 174.8L319.8 175.4L324.1 178.3L320.9 179.2L318.0 179.5L315.1 180.9L312.2 179.5L307.8 179.5ZM295.3 178.9L299.1 178.6L301.4 180.1L298.5 180.6L295.3 179.8ZM327.6 178.6L332.0 178.9L331.7 180.1L327.6 180.1ZM343.4 201.3L345.7 201.0L345.7 203.0L343.4 203.0ZM295.3 159.7L296.7 159.4L297.3 162.0L295.9 161.7ZM323.9 385.7L324.7 387.5L328.2 389.8L333.5 391.6L329.7 392.7L325.3 394.2L320.9 393.3L315.1 391.3L313.6 389.5L318.0 389.5L318.6 387.5L321.5 386.0ZM345.1 382.2L349.2 382.0L349.5 384.0L346.3 384.0ZM349.8 382.0L354.5 382.2L352.7 384.3L349.8 384.0ZM412.5 389.5L418.6 390.4L418.9 391.8L414.2 390.4ZM307.2 354.3L309.3 354.9L309.0 358.7L306.6 358.4ZM68.7 173.7L71.6 174.8L69.9 177.4L68.7 175.7ZM66.7 171.3L68.7 171.9L67.5 172.5ZM62.3 169.6L63.7 170.2L62.9 170.5ZM57.9 167.8L59.1 168.1L58.5 168.7ZM945.5 350.8L950.8 352.0L955.7 351.1L956.0 355.2L953.7 358.4L949.3 359.0L947.3 355.5ZM1027.2 332.5L1029.5 334.8L1033.3 338.0L1035.4 338.9L1036.8 341.8L1041.2 342.4L1044.1 342.1L1042.1 346.5L1039.7 347.6L1038.3 351.1L1034.8 353.4L1033.0 352.6L1034.5 349.4L1031.0 346.8L1033.0 344.4L1033.0 340.6L1031.3 338.0L1028.4 335.1ZM1027.2 350.2L1030.4 351.4L1031.9 354.0L1028.1 358.1L1025.7 360.1L1022.8 361.9L1021.6 366.0L1017.9 368.0L1014.1 368.0L1009.4 366.8L1010.0 363.9L1014.4 360.7L1019.3 358.1L1023.1 355.2L1025.1 351.7ZM905.6 234.8L910.0 233.6L914.3 234.8L915.2 239.7L918.7 242.0L923.1 238.2L927.5 237.7L934.8 240.0L940.6 242.3L945.0 243.8L948.7 247.0L952.2 249.6L954.6 251.9L952.8 254.2L956.6 257.7L959.5 260.6L963.3 263.0L960.4 263.0L955.2 262.1L951.7 259.2L947.9 255.4L944.1 254.8L940.6 257.4L938.5 259.2L934.8 258.9L930.4 256.0L926.6 256.6L928.3 253.4L926.0 248.7L921.6 246.1L917.3 245.2L912.9 243.8L910.8 244.1L908.5 240.9L912.9 239.7L910.0 238.8L907.1 236.8ZM956.0 248.4L961.0 247.0L965.4 244.6L967.7 244.9L966.8 247.8L962.5 250.5L958.1 250.5ZM963.0 240.0L966.8 241.7L969.7 245.2L968.6 244.6L965.4 241.7ZM974.4 248.4L977.9 251.3L977.3 252.5L975.0 250.5ZM988.7 259.5L992.5 260.9L991.0 261.2ZM991.6 256.9L993.9 259.8L993.1 260.1ZM1001.8 291.2L1006.2 294.1L1010.6 297.3L1008.8 297.3L1004.2 294.4ZM1009.4 276.1L1011.2 277.8L1010.0 278.1ZM1040.6 283.3L1044.4 283.6L1043.8 285.4L1040.9 285.1ZM1045.0 280.4L1048.2 279.6L1047.0 281.3ZM841.4 228.1L843.5 226.6L847.9 228.1L848.4 224.9L853.1 223.1L856.0 219.3L860.4 217.0L864.2 212.4L866.8 214.4L871.2 217.3L868.3 219.9L866.5 222.2L867.7 226.0L870.6 229.5L867.1 230.1L866.2 234.8L863.3 236.8L862.7 241.2L861.9 244.1L857.8 244.4L854.6 242.0L849.6 242.6L844.9 240.6L844.4 236.8L841.4 233.3L841.4 230.1ZM801.5 216.1L807.9 217.3L810.2 220.2L814.6 223.7L817.5 226.0L820.4 227.5L823.9 230.4L826.3 233.3L828.3 237.7L832.7 240.6L832.1 244.1L832.1 249.3L828.6 249.3L825.4 246.7L821.9 244.1L818.1 240.3L816.4 235.9L812.9 231.6L811.4 227.5L807.0 223.1L803.5 220.2L801.2 217.3ZM830.4 252.2L833.3 249.6L838.5 250.8L840.9 252.2L845.8 252.5L847.3 251.0L851.9 252.5L857.2 254.8L857.5 257.7L851.6 256.9L844.4 255.7L838.5 255.1L833.9 254.0ZM857.8 256.3L861.0 256.3L863.9 256.6L863.3 258.3L859.5 258.0ZM864.2 256.9L868.3 256.3L870.6 257.2L869.1 258.3L864.8 258.6ZM873.2 257.2L877.9 256.9L882.0 256.3L881.7 257.7L876.4 258.3L873.2 258.0ZM870.6 260.1L874.1 259.8L875.8 261.8L873.5 262.4ZM883.7 262.4L886.6 259.5L891.0 257.4L894.5 256.9L892.5 258.6L888.1 260.4L885.2 262.4ZM872.9 230.1L875.8 228.6L881.7 229.8L886.6 228.4L888.7 227.8L886.6 231.0L882.3 231.0L877.0 231.0L874.1 232.4L875.8 236.2L879.3 235.0L883.1 235.0L880.8 237.4L878.2 238.2L880.5 242.0L882.3 244.6L880.2 246.4L878.2 244.6L876.4 240.6L874.7 240.9L874.7 245.5L874.4 248.4L872.1 248.4L872.1 243.2L870.0 240.6L871.5 236.5L872.9 232.4ZM895.4 227.2L896.8 226.3L896.6 229.5L898.9 228.1L897.4 230.7L898.9 231.6L896.6 233.0L897.4 235.0L895.7 231.8ZM896.8 241.2L901.2 240.6L905.0 242.0L902.7 242.6L897.4 242.3ZM891.0 241.7L894.2 241.7L894.2 243.5L891.6 243.2ZM879.3 212.1L880.8 209.2L883.7 207.4L887.5 206.5L889.6 203.9L891.9 207.7L892.5 211.5L891.6 213.8L889.8 214.4L889.6 212.1L887.5 215.0L885.2 213.5L885.2 210.6L882.8 210.6L880.8 212.1ZM875.3 178.6L878.8 178.9L880.2 182.4L879.3 185.3L877.9 187.6L878.8 191.1L882.3 192.0L885.2 194.6L884.6 195.2L881.7 193.4L877.9 192.6L875.6 192.0L875.3 190.0L873.8 188.8L874.4 185.3L874.7 181.5ZM886.1 196.1L889.0 196.1L890.1 199.8L888.4 202.8L887.5 201.0L886.3 199.3ZM879.3 198.1L882.6 199.0L883.1 201.9L882.3 205.7L880.8 203.9L881.1 201.6L879.3 201.6ZM865.4 208.0L869.1 204.8L872.1 201.0L871.5 202.5L869.1 206.2L866.2 208.3ZM874.7 193.4L877.3 193.7L877.6 196.4L876.1 196.1ZM874.1 165.5L876.4 159.7L878.8 159.4L878.2 162.6L876.4 167.6L875.0 167.6ZM840.6 176.6L842.9 174.2L846.4 174.0L847.0 175.7L844.9 178.3L841.4 178.9ZM756.3 204.5L758.0 204.8L760.7 207.7L762.1 211.2L761.0 214.1L758.0 215.3L756.6 213.5L756.0 209.2ZM902.1 135.0L905.3 133.8L907.9 135.6L907.3 139.3L905.6 141.7L903.6 141.4L903.6 137.9L901.8 137.0ZM909.4 135.0L912.9 132.9L916.1 133.5L915.2 135.3L912.3 136.4L910.6 137.0ZM905.6 132.7L909.4 132.7L912.9 132.1L917.3 131.8L918.1 134.7L921.6 133.5L923.1 131.8L927.5 131.8L930.4 130.6L933.0 130.3L934.2 127.7L934.8 123.3L936.8 119.0L937.7 116.1L935.9 112.0L933.3 113.2L931.8 116.1L931.0 120.4L927.5 123.6L923.7 123.9L922.5 125.4L920.2 128.6L917.3 128.9L912.9 129.2L908.5 130.9L905.6 132.4ZM931.8 111.7L934.8 108.5L933.0 106.5L936.2 106.5L936.8 100.7L940.6 103.6L947.3 103.9L947.6 106.5L942.9 108.2L941.2 110.3L937.1 108.5L934.8 110.8ZM937.7 74.5L940.6 76.8L941.5 82.6L943.5 89.0L940.6 89.9L941.5 95.7L942.0 98.3L939.1 96.6L937.7 98.6L937.7 92.8L937.7 87.0L937.1 81.2L937.1 76.8ZM976.5 86.1L978.8 84.7L978.8 85.8ZM959.5 99.8L962.5 98.0L961.6 99.2ZM952.2 102.7L957.5 100.1L954.6 102.1ZM947.9 105.0L950.8 103.3L949.3 105.0ZM667.4 267.3L670.0 271.7L670.9 277.5L668.5 277.5L667.6 283.3L665.6 290.6L663.0 299.3L660.6 305.2L656.3 306.6L651.9 305.2L650.4 299.3L650.4 295.0L652.8 290.6L652.8 283.3L654.8 279.6L659.2 278.4L663.6 273.2L665.9 269.7ZM679.3 195.8L682.5 195.8L681.1 196.6ZM617.8 130.6L619.8 129.7L624.2 128.6L622.2 130.9L619.8 131.8ZM592.1 129.2L595.0 129.5L600.3 129.7L596.5 130.9L592.4 130.0ZM560.0 121.9L563.0 121.3L569.1 121.0L567.9 124.8L565.3 125.1L560.0 123.1ZM547.5 113.5L550.4 112.6L551.9 114.6L551.6 118.4L549.3 119.3L548.1 117.5ZM548.7 109.1L551.0 107.3L551.3 110.3L550.4 112.0L549.0 111.1ZM530.6 117.2L532.9 116.4L533.5 117.2L532.3 118.1ZM591.2 119.3L594.5 121.0L595.3 121.9L592.1 120.1ZM507.0 86.7L511.3 85.8L513.7 85.2L518.3 84.9L524.5 84.7L527.7 83.5L525.1 82.6L528.6 79.1L524.5 78.3L523.6 76.5L520.7 73.6L518.9 71.0L516.6 69.5L514.0 68.4L517.5 66.6L518.1 64.9L511.9 64.9L514.3 62.0L509.0 62.0L506.7 65.2L507.3 68.1L507.6 71.0L509.6 71.6L509.3 73.3L513.4 72.7L514.8 75.3L514.6 77.4L510.5 77.7L511.6 80.0L508.4 81.5L511.3 82.3L514.8 82.9L514.0 83.5L510.5 84.1ZM494.4 82.3L498.8 82.3L505.2 80.6L505.8 77.4L507.3 73.6L505.2 71.9L500.3 71.9L498.8 74.2L494.4 74.8L496.5 77.7L495.0 80.3ZM453.0 41.9L458.0 39.3L462.4 41.9L469.7 40.1L476.9 39.0L481.0 42.2L483.6 43.9L478.4 45.7L471.1 47.7L463.8 47.4L457.7 46.5L459.4 44.2L453.6 43.6ZM556.0 70.4L560.0 69.5L560.0 71.6L558.0 72.4ZM576.4 65.7L579.0 64.0L578.4 65.7ZM555.7 1.7L564.4 5.5L563.0 7.9L570.3 9.6L574.6 7.6L579.0 4.1L586.3 3.5L579.0 1.2L576.1 -0.6L564.4 -0.3ZM577.5 -0.3L587.7 1.7L602.3 0.0L593.6 -1.7L579.0 -1.7ZM584.8 5.2L590.7 7.0L593.6 6.1L589.2 4.4ZM673.8 24.4L679.6 26.5L685.4 26.8L691.3 26.5L689.8 23.6L686.9 20.1L681.1 19.2L678.1 21.5ZM681.1 18.3L688.4 18.6L694.2 15.7L701.5 12.8L713.1 10.5L723.3 9.0L719.0 8.4L704.4 10.5L692.7 12.2L685.4 14.8ZM665.0 30.5L668.8 30.3L669.4 32.3L665.6 32.3ZM695.6 27.9L699.4 28.8L698.6 29.7L694.8 29.1ZM800.6 2.0L809.4 -0.9L823.9 1.7L828.3 4.7L815.2 5.5L806.4 3.5ZM789.0 -1.7L800.6 -3.8L809.4 -1.7L800.6 -0.3ZM923.1 11.3L928.9 12.2L937.7 11.3L946.4 12.8L943.5 14.5L931.8 14.8L926.0 13.4ZM950.8 13.1L962.5 13.7L961.0 14.8L952.2 14.3ZM933.3 17.5L937.7 17.7L942.0 19.2L934.8 19.2ZM1044.1 24.4L1048.5 24.4L1055.8 25.9L1048.5 26.5L1044.4 25.6ZM724.2 375.0L729.2 375.3L728.3 377.0L724.8 376.7ZM684.9 293.2L686.3 293.8L685.4 294.7ZM691.0 290.6L692.1 291.2L691.3 292.1ZM637.9 249.3L638.8 249.9L638.5 251.0ZM548.4 221.7L549.5 222.0L549.0 222.8ZM474.6 149.8L476.4 149.5L475.5 151.0ZM482.2 149.2L483.1 148.9L482.2 150.7ZM477.5 150.7L478.7 150.7L478.1 151.6ZM830.7 237.7L833.3 237.1L834.7 241.2L832.7 240.0ZM806.7 228.4L808.8 230.1L808.2 230.7ZM811.1 235.3L812.9 237.4L812.0 237.7ZM891.6 135.3L893.6 135.0L892.8 135.9ZM896.0 156.2L897.7 154.5L896.6 155.3ZM1000.4 60.8L1003.6 60.5L1001.8 62.3ZM815.2 5.5L829.8 4.7L823.9 6.4ZM793.9 193.2L794.8 194.0L794.2 198.7L793.3 198.1ZM914.9 249.0L916.7 249.9L915.8 252.5L914.6 250.8ZM903.6 265.6L906.5 265.3L906.8 266.5L904.1 266.8ZM921.3 272.6L922.8 273.2L921.9 274.0ZM921.9 336.3L926.0 336.6L924.5 337.4L922.2 337.2ZM224.7 5.8L230.5 5.8L229.7 6.7L225.3 6.7ZM216.0 6.7L218.9 7.3L217.4 8.4L214.5 7.9ZM242.2 12.8L249.5 12.8L251.0 14.3L245.1 14.8L241.9 14.0ZM239.3 3.5L243.7 4.1L242.8 5.8L238.4 5.2ZM243.7 6.4L251.0 6.7L248.0 7.3ZM194.1 5.8L201.4 6.1L200.5 7.6L195.0 7.3ZM192.6 3.8L202.8 3.8L201.4 4.9L194.1 4.9ZM175.1 11.6L179.5 11.6L179.5 12.8L175.7 12.5ZM217.4 13.1L220.9 13.4L219.7 14.3ZM211.6 18.3L216.5 18.3L217.4 19.8L213.6 19.8ZM297.6 34.6L303.4 34.6L304.0 36.7L299.1 36.7ZM304.3 34.9L307.8 35.2L306.4 36.4ZM281.0 49.2L285.9 49.5L284.5 50.9L281.6 50.6ZM288.9 50.9L291.8 51.2L291.5 52.9L289.4 52.7ZM294.7 47.4L297.6 47.7L296.7 48.9ZM332.6 52.9L335.2 53.2L334.3 54.1ZM290.3 67.8L293.2 68.4L292.6 70.1L290.6 69.5ZM363.8 28.2L369.0 27.9L372.0 30.0L367.6 30.8L364.1 30.0ZM34.3 76.8L38.7 75.3L39.0 76.2L35.2 77.7ZM42.7 72.7L47.7 72.4L47.1 73.6L43.0 74.2ZM345.7 419.5L353.0 416.9L357.4 416.6L355.9 418.6L350.1 420.4L342.8 422.4L335.5 422.4L339.9 420.9ZM351.6 412.8L355.3 412.5L354.5 413.4ZM345.7 414.2L348.6 414.2L348.1 415.1ZM353.0 418.6L356.5 418.3L355.9 419.8ZM389.5 408.7L393.5 408.7L392.4 409.3ZM361.8 410.2L363.8 410.2L363.2 410.8ZM571.4 68.7L573.5 65.7L572.9 67.8ZM587.5 62.3L590.7 62.0L590.1 63.1L587.7 63.4ZM588.3 60.8L590.7 60.8L590.1 61.5ZM552.5 71.0L554.8 71.0L554.8 72.1L552.8 72.1ZM555.7 72.7L558.6 72.7L558.0 73.5ZM604.4 127.1L605.8 126.5L605.2 127.9ZM599.1 118.1L601.2 118.1L600.6 119.0ZM565.3 127.7L566.2 128.0L565.6 128.3ZM891.6 135.0L893.6 135.0L892.8 135.7ZM926.6 121.0L927.8 121.6L927.2 122.5ZM900.3 131.5L901.2 132.4L900.6 133.2ZM903.8 144.0L904.7 144.3L904.1 144.6ZM900.6 149.5L901.8 150.1L900.9 150.4ZM879.3 144.6L880.5 144.9L879.6 145.5ZM838.5 220.2L839.7 220.8L838.8 221.7ZM837.4 240.0L839.4 240.3L838.5 241.7ZM852.2 252.5L856.0 252.5L855.7 253.4L852.5 253.4ZM882.8 256.6L885.2 256.3L884.0 257.3ZM886.3 256.3L888.4 256.3L887.5 256.9ZM890.4 254.8L893.3 254.5L892.5 255.6ZM906.2 253.4L907.6 254.2L906.5 255.7L905.6 254.5ZM910.8 248.1L911.7 249.0L911.1 249.9ZM918.7 234.5L921.3 235.3L919.9 235.9ZM918.7 237.4L922.5 237.5L921.0 238.0ZM903.6 232.7L906.5 232.7L905.3 233.6ZM901.8 237.7L903.8 238.0L902.7 238.4ZM894.8 236.5L896.8 236.8L896.0 237.4ZM886.3 237.4L891.0 237.7L889.0 238.2ZM882.0 236.2L883.7 236.2L882.8 237.1ZM881.1 245.8L882.8 246.1L882.0 248.7ZM880.2 246.1L881.4 246.4L880.8 247.8ZM951.1 238.2L953.4 238.2L952.2 238.8ZM989.0 259.5L992.5 260.4L991.0 261.2L989.3 260.4ZM991.9 256.9L993.9 259.5L993.1 260.1L991.9 258.0ZM984.9 254.5L989.6 256.9L988.7 257.2L985.2 255.4ZM980.0 251.9L982.9 253.7L982.0 254.0ZM982.0 255.7L984.0 256.9L983.2 257.4ZM993.9 262.4L996.9 263.6L995.4 263.8ZM1009.4 275.2L1011.2 276.1L1010.9 277.8L1009.4 277.2ZM1011.2 279.0L1012.6 280.1L1011.7 280.4ZM1013.8 283.6L1014.9 283.9L1014.4 284.2ZM1044.4 281.0L1048.5 279.6L1048.2 280.7L1045.6 281.9ZM884.6 203.3L886.6 203.0L886.1 204.5ZM883.4 203.3L885.2 199.8L884.9 202.2L883.7 204.8ZM882.8 196.1L885.2 196.9L884.0 197.8ZM878.8 212.9L880.2 213.2L879.3 213.8ZM876.1 214.7L877.6 215.0L876.7 215.4ZM888.1 227.2L889.0 227.5L888.4 228.1ZM802.9 224.3L804.7 225.2L804.1 225.6ZM821.3 247.8L822.2 248.1L821.6 248.4ZM814.0 238.5L815.8 240.6L815.5 241.2L814.0 239.4ZM828.0 232.4L829.5 233.0L828.6 233.6ZM827.4 228.9L828.9 229.2L828.3 230.0ZM826.6 202.2L827.2 202.8L826.9 203.3ZM1006.8 71.6L1009.7 72.7L1008.2 73.3ZM1026.6 78.3L1029.2 78.5L1028.1 79.0ZM976.5 84.9L979.1 86.1L977.6 87.0ZM959.5 99.2L962.5 98.0L961.9 98.6L959.8 99.8ZM308.4 114.0L313.6 112.9L312.2 113.7ZM297.3 154.2L299.1 155.6L298.5 156.8L297.9 155.3ZM293.2 154.8L296.4 154.8L295.3 155.3ZM308.7 170.8L310.7 170.5L310.1 171.6ZM343.4 185.0L345.1 184.7L344.3 186.2ZM345.1 189.4L346.0 189.7L345.7 190.5ZM335.8 200.1L337.6 200.1L337.0 200.7ZM376.0 233.3L380.7 233.0L381.9 235.3L377.8 237.4L375.8 235.3Z"/><path class="coast" d="M666.5 97.2L672.3 95.7L678.1 96.3L678.7 100.7L673.2 100.9L670.9 103.3L673.8 106.8L677.3 108.2L676.7 111.1L680.5 113.5L678.1 117.5L680.5 119.6L680.5 123.9L675.2 125.4L670.3 123.9L666.5 120.7L666.5 117.5L667.9 114.6L664.4 110.8L662.1 107.3L660.6 103.6L661.5 100.1ZM694.2 97.2L700.0 96.9L702.9 99.2L699.4 103.6L695.1 105.3L693.3 101.5ZM737.9 100.1L743.8 96.6L752.5 96.6L754.0 98.0L746.7 97.7L740.8 101.5ZM826.3 82.3L829.8 82.3L837.1 78.8L842.9 73.9L843.5 70.4L840.9 71.6L835.6 76.8L831.2 79.4ZM616.0 233.9L618.4 231.6L622.7 231.6L623.6 235.3L621.3 240.0L616.9 240.0L616.0 236.8ZM609.0 242.3L610.5 245.5L611.7 251.3L614.0 257.2L612.5 257.4L609.6 252.2L608.5 246.4ZM622.7 260.4L624.8 264.4L625.7 270.2L626.2 274.0L624.5 273.2L623.6 267.3L622.7 263.0ZM628.0 219.3L629.4 220.8L630.3 224.9L628.9 224.9ZM563.0 192.9L566.2 193.2L565.9 195.2L563.3 194.9ZM255.3 96.6L259.7 94.0L264.1 92.5L266.4 90.5L271.4 90.8L276.3 93.1L276.9 96.9L271.4 97.2L267.0 96.0L262.6 96.3L259.7 96.9ZM267.3 109.1L269.9 111.1L271.9 107.9L271.9 104.4L274.3 100.7L276.3 99.2L272.8 98.6L269.9 99.5L267.6 103.6ZM276.9 98.9L280.1 98.6L285.9 98.6L289.4 100.7L290.3 102.7L286.5 103.0L285.4 106.5L283.3 107.3L280.7 104.4L280.1 101.5ZM280.4 110.8L284.5 111.7L288.9 110.3L293.2 107.9L290.9 107.6L285.9 108.5L281.6 109.7ZM290.9 106.5L294.7 106.2L300.5 105.6L301.1 103.9L296.1 104.4L292.4 105.0ZM235.2 75.9L238.4 75.6L241.3 79.7L242.2 85.2L240.7 85.8L239.3 82.6L236.4 78.8ZM159.1 39.9L164.9 37.5L173.7 37.8L179.5 39.6L175.1 42.5L169.3 41.9L163.5 42.8ZM182.4 55.0L188.3 52.1L195.5 50.9L202.8 49.7L205.8 50.6L198.5 52.7L192.6 54.4L186.8 55.3ZM198.5 61.7L205.8 59.3L214.5 59.9L208.7 60.8L202.8 61.7ZM223.2 63.1L227.6 63.7L226.2 68.1L223.2 67.2ZM319.5 277.5L321.5 278.1L323.0 280.1L320.9 279.6ZM273.1 197.5L274.9 197.8L276.0 199.8L273.7 199.3ZM612.0 57.9L615.5 57.9L619.2 56.1L616.9 53.5L612.5 54.1L611.1 55.6ZM624.2 55.0L628.0 54.7L628.6 51.5L625.1 50.3L624.5 52.7ZM560.0 62.0L563.8 62.3L564.1 60.2L561.5 60.2ZM746.1 108.8L751.0 108.2L749.6 109.7L746.7 109.7ZM814.0 124.5L816.9 124.5L816.4 126.0L814.6 125.7ZM908.5 100.9L910.8 100.9L910.3 102.7L908.8 102.4ZM826.0 194.0L828.0 195.5L827.4 196.4ZM655.1 121.3L657.1 122.2L656.3 124.2L655.1 123.3ZM647.2 119.9L650.4 119.3L650.2 120.7L647.5 120.7ZM923.1 314.5L925.4 315.3L924.5 317.7ZM194.4 111.4L196.4 111.4L196.7 113.7L195.3 113.7ZM246.0 88.1L248.0 88.4L247.7 89.9L246.3 89.6ZM315.1 38.1L319.5 38.4L318.6 39.9L315.7 39.6ZM234.0 82.6L236.7 83.2L237.2 85.5L235.5 85.8ZM264.1 86.7L266.7 87.0L266.1 88.7L264.4 88.4ZM815.2 15.4L825.4 15.1L823.9 16.3L816.7 16.3ZM612.2 228.9L614.9 226.0L615.2 226.6L613.4 229.2ZM69.3 58.8L74.5 58.5L73.7 59.6Z"/><path d="M3.1 81.7h0.1M6.9 81.7h0.1M10.4 81.2h0.1M14.8 80.6h0.1M1041.2 81.2h0.1M1045.0 82.3h0.1M1031.0 79.1h0.1M1036.5 80.0h0.1M1012.6 73.0h0.1M966.8 95.1h0.1M970.3 91.1h0.1M974.1 88.7h0.1M964.5 96.6h0.1M345.7 192.0h0.1M345.1 194.0h0.1M343.7 197.2h0.1M349.8 194.0h0.1M340.5 182.1h0.1M343.4 182.7h0.1M334.6 179.2h0.1M339.9 179.8h0.1M344.6 187.6h0.1M342.2 183.8h0.1M322.7 196.9h0.1M319.5 196.1h0.1M324.4 197.2h0.1M301.4 159.1h0.1M303.4 161.4h0.1M304.9 164.4h0.1M307.2 166.4h0.1M313.6 169.0h0.1M302.0 162.6h0.1M296.4 161.7h0.1M334.6 138.5h0.1M306.4 162.6h0.1M310.7 167.3h0.1M314.8 169.6h0.1M449.2 122.5h0.1M444.3 119.9h0.1M440.8 120.4h0.1M432.6 117.5h0.1M441.9 119.0h0.1M474.0 137.3h0.1M476.1 136.4h0.1M455.1 188.5h0.1M452.7 189.1h0.1M456.5 185.6h0.1M450.4 183.0h0.1M453.3 184.1h0.1M456.8 183.8h0.1M471.4 148.9h0.1M483.9 148.1h0.1M473.4 150.7h0.1M471.1 151.8h0.1M503.2 52.1h0.1M503.8 53.5h0.1M519.8 57.0h0.1M520.4 56.1h0.1M514.8 60.8h0.1M503.2 64.3h0.1M502.3 66.0h0.1M505.2 65.7h0.1M505.5 68.4h0.1M499.4 25.9h0.1M579.0 16.0h0.1M510.5 74.8h0.1M505.2 63.1h0.1M507.0 279.0h0.1M481.6 255.4h0.1M487.7 340.4h0.1M494.4 349.7h0.1M533.5 390.7h0.1M446.3 400.6h0.1M444.0 405.2h0.1M438.2 292.1h0.1M429.1 243.6h0.1M542.8 231.6h0.1M545.2 227.8h0.1M539.9 236.5h0.1M257.9 233.6h0.1M257.1 234.8h0.1M260.3 234.2h0.1M262.6 235.0h0.1M258.5 235.3h0.1M204.6 311.3h0.1M288.0 330.5h0.1M293.5 330.2h0.1M649.9 266.5h0.1M653.1 267.9h0.1M655.4 269.7h0.1M685.4 246.1h0.1M797.1 211.8h0.1M796.2 209.2h0.1M794.2 205.7h0.1M708.5 289.7h0.1M734.7 253.7h0.1M805.9 267.6h0.1M831.5 263.0h0.1M737.9 386.9h0.1M674.4 367.4h0.1M633.8 368.9h0.1M749.6 342.4h0.1M658.6 259.8h0.1M639.7 247.6h0.1M639.4 255.4h0.1M681.1 195.8h0.1M646.1 186.8h0.1M640.5 186.2h0.1M671.1 156.8h0.1M945.8 193.2h0.1M948.5 188.2h0.1M915.8 210.9h0.1M926.3 204.8h0.1M966.2 210.9h0.1M984.9 212.4h0.1M998.9 217.0h0.1M1022.8 211.8h0.1M1012.0 206.2h0.1M1028.1 228.4h0.1M1010.3 233.9h0.1M1046.1 257.2h0.1M986.9 391.3h0.1M1007.7 379.9h0.1M1017.0 385.2h0.1M1045.0 377.0h0.1M1013.5 316.8h0.1M987.5 324.1h0.1M1013.2 368.9h0.1M938.3 153.9h0.1M935.6 160.3h0.1M930.1 131.5h0.1M931.3 136.1h0.1M889.0 160.3h0.1M885.8 161.4h0.1M882.3 161.4h0.1M899.5 151.6h0.1M906.2 157.4h0.1M1009.1 266.2h0.1M1018.7 289.2h0.1M1017.3 287.1h0.1M1014.1 277.2h0.1M1013.2 294.7h0.1M1013.5 293.2h0.1M1011.7 298.2h0.1M1033.3 337.7h0.1M1035.4 337.7h0.1M953.1 248.7h0.1M959.8 236.8h0.1M968.9 259.2h0.1M971.5 265.9h0.1M963.9 260.4h0.1M963.3 259.8h0.1M973.2 265.6h0.1M947.0 348.8h0.1M955.2 348.8h0.1M955.7 350.0h0.1M943.5 348.5h0.1M596.5 124.8h0.1M597.7 125.1h0.1M596.2 123.3h0.1M597.7 124.2h0.1M602.6 125.4h0.1M601.7 122.8h0.1M597.1 116.4h0.1M595.6 114.0h0.1M581.3 117.2h0.1M583.7 121.3h0.1M584.2 122.5h0.1M599.4 120.7h0.1M595.0 125.7h0.1M597.7 126.5h0.1M602.9 129.2h0.1M590.7 127.1h0.1M527.7 119.0h0.1M535.3 116.1h0.1M553.6 107.9h0.1M567.0 72.1h0.1M581.9 57.3h0.1M559.5 129.2h0.1M567.2 120.4h0.1M873.2 197.8h0.1M874.1 196.9h0.1M879.1 196.1h0.1M881.1 196.6h0.1M885.5 192.3h0.1M879.3 173.1h0.1M879.1 175.7h0.1M877.9 168.4h0.1M841.4 174.5h0.1M852.5 169.3h0.1M856.6 167.8h0.1M872.4 163.8h0.1M893.9 229.5h0.1M895.1 230.1h0.1M892.5 221.1h0.1M889.6 222.2h0.1M893.3 219.6h0.1M867.4 220.5h0.1M865.6 211.5h0.1M869.4 203.6h0.1M873.5 217.3h0.1M873.2 217.6h0.1M902.4 245.5h0.1M897.7 242.9h0.1M902.7 238.2h0.1M907.3 244.1h0.1M915.8 238.2h0.1M884.0 263.6h0.1M878.8 263.3h0.1M889.8 224.6h0.1M810.2 209.7h0.1M811.1 209.2h0.1M814.3 213.8h0.1M816.1 216.7h0.1M827.4 224.3h0.1M826.3 228.5h0.1M814.9 204.5h0.1M815.2 204.8h0.1M821.9 197.8h0.1M834.4 207.1h0.1M809.1 201.9h0.1M809.9 197.5h0.1M809.7 199.0h0.1M796.5 177.4h0.1M796.8 176.0h0.1M970.6 312.7h0.1M970.3 306.0h0.1M964.8 300.8h0.1M951.1 286.8h0.1M930.4 280.7h0.1M922.2 265.0h0.1M853.1 307.2h0.1M860.4 292.6h0.1" stroke="#000" stroke-width="2.1" stroke-linecap="round" fill="none"/></g>
<path id="lakes" d="M666.5 97.2L672.3 95.7L678.1 96.3L678.7 100.7L673.2 100.9L670.9 103.3L673.8 106.8L677.3 108.2L676.7 111.1L680.5 113.5L678.1 117.5L680.5 119.6L680.5 123.9L675.2 125.4L670.3 123.9L666.5 120.7L666.5 117.5L667.9 114.6L664.4 110.8L662.1 107.3L660.6 103.6L661.5 100.1ZM255.3 96.6L259.7 94.0L264.1 92.5L266.4 90.5L271.4 90.8L276.3 93.1L276.9 96.9L271.4 97.2L267.0 96.0L262.6 96.3L259.7 96.9ZM267.3 109.1L269.9 111.1L271.9 107.9L271.9 104.4L274.3 100.7L276.3 99.2L272.8 98.6L269.9 99.5L267.6 103.6ZM276.9 98.9L280.1 98.6L285.9 98.6L289.4 100.7L290.3 102.7L286.5 103.0L285.4 106.5L283.3 107.3L280.7 104.4L280.1 101.5ZM280.4 110.8L284.5 111.7L288.9 110.3L293.2 107.9L290.9 107.6L285.9 108.5L281.6 109.7ZM290.9 106.5L294.7 106.2L300.5 105.6L301.1 103.9L296.1 104.4L292.4 105.0Z" fill="#fff"/>
</defs>
<g id="panel1">
<path d="M161.2 465.6v-11.4M161.2 44.0v11.4M307.0 465.6v-11.4M307.0 44.0v11.4M452.8 465.6v-11.4M452.8 44.0v11.4M598.6 465.6v-11.4M598.6 44.0v11.4M744.4 465.6v-11.4M744.4 44.0v11.4M890.2 465.6v-11.4M890.2 44.0v11.4M1036.0 465.6v-11.4M1036.0 44.0v11.4M75.0 131.0h11.4M1153.5 131.0h-11.4M75.0 276.4h11.4M1153.5 276.4h-11.4M75.0 421.9h11.4M1153.5 421.9h-11.4" stroke="#262626" stroke-width="1.6" fill="none"/>
<svg x="75.0" y="44.0" width="1078.5" height="421.6" viewBox="0 0 1078.5 421.6" overflow="hidden">
<g clip-path="url(#landclip)"><g filter="url(#rough)" shape-rendering="crispEdges">
<path d="M54.2 26.2L73.1 25.0L75.6 33.8L65.5 36.3L58.0 31.3ZM68.0 43.9L85.7 43.9L88.2 52.7L75.6 51.4ZM88.2 27.5L120.9 28.8L126.0 36.3L120.9 46.4L118.4 56.5L110.9 51.4L105.8 41.4L95.7 36.3ZM143.6 37.6L156.2 36.3L161.3 41.4L158.7 48.9L146.1 47.7ZM236.9 40.1L245.7 40.1L245.7 45.1L236.9 45.1ZM158.7 71.6L166.3 66.6L173.9 69.1L176.4 81.7L181.4 91.7L176.4 96.8L166.3 91.7L161.3 81.7ZM183.9 59.0L194.0 57.7L196.5 69.1L187.7 74.1L181.4 69.1ZM199.1 69.1L205.4 69.1L205.4 76.6L199.1 76.6ZM163.8 96.8L176.4 94.3L191.5 96.8L199.1 106.9L201.6 122.0L211.7 132.1L214.2 147.2L226.8 162.3L236.9 167.3L252.0 176.2L264.6 182.5L277.2 187.5L280.9 197.6L272.1 197.6L262.0 191.3L252.0 188.8L236.9 179.9L221.7 176.2L214.2 167.3L206.6 149.7L196.5 137.1L186.5 132.1L176.4 122.0L168.8 109.4ZM252.0 142.1L277.2 141.6L284.7 144.7L289.8 157.3L284.7 157.3L279.7 147.2L252.0 147.2ZM294.8 71.6L315.0 70.3L320.0 81.7L320.0 91.7L302.4 89.2L292.3 81.7ZM277.2 90.5L289.8 90.5L289.8 96.8L277.2 96.8Z" fill="#fdae61"/>
<path d="M186.5 106.9L199.1 106.9L199.1 119.5L187.7 119.5Z" fill="#ffffff"/>
<path d="M95.7 28.8L118.4 30.0L123.5 37.6L115.9 43.9L108.3 38.8L100.8 33.8ZM171.3 106.9L181.4 106.9L181.9 122.0L173.9 122.0ZM194.0 127.0L209.1 128.3L209.6 142.1L199.1 141.6ZM216.7 159.8L236.9 169.9L235.6 177.9L221.7 175.4ZM239.4 177.4L254.5 174.9L264.6 182.5L277.2 187.5L280.2 197.1L272.1 197.1L262.0 190.5L252.0 188.0L241.9 184.0Z" fill="#f46d43"/>
<path d="M254.5 183.0L267.1 183.7L267.6 190.5L255.7 190.0Z" fill="#d53e4f"/>
<path d="M225.5 154.7L233.1 154.7L234.3 163.6L226.8 163.6ZM176.4 129.5L181.4 129.5L181.4 133.3L176.9 133.3Z" fill="#66c2a5"/>
<path d="M306.1 25.0L320.0 21.2L320.0 38.8L312.4 36.3Z" fill="#abdda4"/>
<path d="M312.4 197.6L320.0 197.6L320.0 207.7L312.4 207.7Z" fill="#f46d43"/>
<path d="M350.2 1.0L383.0 -0.2L386.0 6.1L370.4 19.9L360.3 14.9ZM320.0 26.2L342.7 33.8L335.1 43.9L320.0 43.9Z" fill="#abdda4"/>
<path d="M362.8 -0.2L381.7 -0.2L380.5 7.3L367.9 11.1ZM320.0 27.5L330.1 30.0L327.6 36.3L320.0 36.3Z" fill="#66c2a5"/>
<path d="M438.4 26.2L451.0 19.9L461.1 21.2L456.1 28.8L440.9 31.3Z" fill="#f46d43"/>
<path d="M386.8 45.1L400.6 42.6L403.1 50.2L390.6 52.7ZM461.1 40.1L481.3 40.1L478.7 46.4L463.6 46.4ZM331.3 74.1L350.2 71.6L355.3 81.7L342.7 85.4L332.6 82.9ZM332.6 96.8L347.7 95.5L348.2 101.8L333.9 102.3ZM509.0 66.6L521.6 64.0L526.6 79.1L514.0 82.9ZM519.1 89.2L534.2 79.1L554.3 74.1L572.0 76.6L587.1 81.7L597.2 79.1L609.8 84.2L602.2 96.8L587.1 104.3L577.0 114.4L561.9 101.8L546.8 101.8L531.7 106.9L521.6 99.3ZM496.4 104.3L529.1 104.3L521.6 122.0L506.5 124.5L496.4 119.5ZM587.1 76.6L604.7 76.6L604.7 86.7L587.1 86.7ZM604.7 61.5L612.3 61.5L612.3 69.1L604.7 69.1ZM619.8 71.6L627.4 71.6L627.4 79.1L619.8 79.1ZM577.0 101.8L597.2 101.8L597.2 116.9L579.5 116.9ZM597.2 116.9L640.0 114.4L640.0 137.1L617.3 137.1L599.7 127.0Z" fill="#fdae61"/>
<path d="M335.1 79.1L347.7 78.6L348.2 84.2L335.6 84.2ZM531.7 84.2L551.8 81.7L561.9 91.7L546.8 99.3L534.2 96.8ZM572.0 81.7L584.6 81.7L584.6 89.2L572.0 89.2ZM503.9 108.1L521.6 106.9L519.1 122.0L509.0 122.0ZM622.4 127.0L640.0 125.8L640.0 147.2L624.9 147.2Z" fill="#f46d43"/>
<path d="M509.0 114.4L519.1 114.4L519.1 123.2L509.5 123.2Z" fill="#d53e4f"/>
<path d="M471.2 122.0L640.0 122.0L640.0 235.9L471.2 235.9Z" fill="#fdae61"/>
<path d="M475.0 172.4L496.4 169.9L521.6 172.4L546.8 169.9L572.0 174.9L597.2 177.4L622.4 174.9L640.0 172.4L640.0 235.9L597.2 235.9L572.0 222.8L546.8 217.7L521.6 215.2L496.4 212.7L481.3 202.6Z" fill="#f46d43"/>
<path d="M481.3 187.5L496.4 182.5L506.5 192.5L496.4 202.6L483.8 197.6ZM511.5 177.4L529.1 174.9L534.2 187.5L521.6 195.1ZM541.7 197.6L561.9 192.5L566.9 207.7L546.8 212.7ZM597.2 207.7L617.3 202.6L622.4 222.8L602.2 227.8ZM572.0 177.4L592.1 178.7L587.1 190.0L574.5 187.5ZM554.3 217.7L572.0 220.3L582.0 235.9L556.9 235.9Z" fill="#fdae61"/>
<path d="M477.5 169.9L486.3 172.4L487.6 187.5L481.3 197.6L476.7 187.5ZM536.7 173.6L554.3 172.4L559.4 182.5L546.8 187.5L538.0 183.7ZM592.1 179.9L609.8 177.4L614.8 187.5L599.7 192.5ZM612.3 195.1L629.9 192.5L637.5 205.1L622.4 210.2ZM496.4 215.2L511.5 210.2L521.6 217.7L511.5 222.8ZM572.0 207.7L587.1 205.1L592.1 217.7L577.0 222.8ZM516.5 197.6L529.1 195.1L534.2 205.1L521.6 210.2ZM619.8 177.4L635.0 176.2L638.0 185.0L622.4 187.5Z" fill="#fdae61"/>
<path d="M492.6 152.2L501.4 145.9L519.1 144.7L521.6 149.7L506.5 153.5L496.4 157.3ZM531.7 139.6L556.9 140.9L569.4 147.2L546.8 147.2ZM561.9 195.1L592.1 195.1L592.6 203.1L563.1 203.1Z" fill="#d53e4f"/>
<path d="M491.3 162.3L501.4 157.3L521.6 151.0L536.7 144.7L561.9 149.7L587.1 147.2L619.8 149.7L622.4 172.4L597.2 177.4L572.0 172.4L561.9 167.3L546.8 159.8L534.2 157.3L521.6 167.3L506.5 169.9L493.9 167.3Z" fill="#ffffff"/>
<path d="M609.8 235.9L617.3 222.8L629.9 222.8L635.0 235.9ZM496.4 202.6L503.9 197.6L509.0 205.1L501.4 210.2Z" fill="#ffffff"/>
<path d="M320.0 197.6L340.2 202.6L365.4 217.7L378.0 235.9L320.0 235.9Z" fill="#fdae61"/>
<path d="M320.0 197.6L335.1 201.4L345.2 212.7L330.1 222.8L320.0 220.3Z" fill="#ffffff"/>
<path d="M362.8 217.7L374.2 222.8L378.0 232.9L367.9 230.3Z" fill="#f46d43"/>
<path d="M554.3 -1.5L597.2 -1.5L595.9 6.1L556.9 5.6Z" fill="#f46d43"/>
<path d="M643.8 48.9L652.6 48.9L652.6 61.5L643.8 61.5ZM658.9 69.1L669.0 69.1L669.0 80.4L658.9 80.4ZM723.1 18.7L750.9 18.7L781.1 13.6L791.2 16.2L786.1 23.7L766.0 26.2L760.9 38.8L735.7 39.3L725.7 33.8ZM752.1 38.8L771.0 36.3L776.1 46.4L760.9 52.7L752.1 48.9ZM786.1 36.3L803.8 36.3L806.3 46.4L796.2 50.2L787.4 45.1ZM813.9 6.1L841.6 4.8L866.8 16.2L866.8 26.2L846.6 23.7L826.5 18.7ZM907.1 23.7L960.0 18.7L960.0 54.0L947.4 54.0L942.4 41.4L927.2 38.8L917.2 33.8ZM808.8 51.4L829.0 38.8L841.6 43.9L849.1 59.0L856.7 64.0L861.7 48.9L869.3 48.9L866.8 71.6L856.7 76.6L841.6 79.1L831.5 71.6L816.4 66.6ZM784.9 81.7L801.3 74.1L826.5 76.6L841.6 81.7L866.8 81.7L879.4 91.7L892.0 79.1L899.5 56.5L917.2 51.4L937.3 61.5L917.2 69.1L929.8 79.1L922.2 96.8L904.6 111.9L892.0 116.9L866.8 122.0L856.7 127.0L836.5 129.5L826.5 116.9L811.3 111.9L803.8 96.8L788.7 91.7ZM670.2 91.7L700.5 74.1L715.6 84.2L730.7 81.7L735.7 96.8L753.4 91.7L766.0 89.2L776.1 96.8L766.0 106.9L776.1 111.9L760.9 114.4L745.8 106.9L723.1 114.4L723.1 147.2L725.7 162.3L715.6 157.3L690.4 157.3L675.3 137.1L665.2 127.0L680.3 122.0L670.2 106.9ZM752.1 138.4L766.0 137.1L781.1 147.2L788.7 152.2L781.1 157.3L766.0 149.7L753.4 144.7ZM791.2 137.1L801.3 137.1L801.3 142.1L791.2 142.1ZM788.7 152.2L801.3 144.7L816.4 147.2L831.5 154.7L836.5 167.3L816.4 169.9L801.3 162.3ZM738.3 182.5L748.3 190.0L758.4 195.1L753.4 205.1L745.8 200.1ZM791.2 167.3L803.8 167.3L803.8 172.4L791.2 172.4ZM811.3 187.5L821.4 187.5L821.4 197.6L811.3 197.6ZM826.5 182.5L831.5 182.5L831.5 187.5L826.5 187.5ZM841.6 217.7L866.8 217.7L866.8 235.9L841.6 235.9ZM904.6 127.0L942.4 106.9L944.9 114.4L907.1 137.1ZM892.0 116.9L899.5 116.9L899.5 127.0L892.0 127.0ZM640.0 197.6L670.2 195.1L665.2 207.7L640.0 210.2Z" fill="#fdae61"/>
<path d="M839.1 116.9L861.7 116.9L861.7 127.0L840.3 127.0Z" fill="#ffffff"/>
<path d="M725.7 21.2L740.8 18.7L750.9 23.7L748.3 36.3L735.7 38.8L726.9 33.8ZM834.0 8.6L854.2 9.9L861.7 21.2L846.6 21.2ZM917.2 23.7L937.3 23.7L937.3 31.3L917.2 31.3ZM788.7 80.4L806.3 76.6L816.4 84.2L801.3 89.2ZM816.4 91.7L841.6 84.2L866.8 84.2L876.9 96.8L866.8 106.9L846.6 106.9L831.5 101.8L821.4 104.3ZM690.4 91.7L705.5 86.7L715.6 101.8L720.6 127.0L715.6 147.2L700.5 149.7L690.4 137.1L695.4 116.9ZM808.8 154.7L831.5 156.0L832.0 167.3L810.1 167.3ZM801.3 215.2L826.5 215.2L826.5 235.9L801.3 235.9ZM881.9 197.6L892.0 197.6L892.0 215.2L881.9 215.2ZM754.6 202.6L762.2 202.6L762.2 215.2L754.6 215.2Z" fill="#f46d43"/>
<path d="M992.8 28.3L1043.7 28.3L1043.7 49.7L1032.8 50.9L1019.5 55.0L1019.5 49.7L1008.9 49.7L1000.8 40.1ZM978.1 65.5L995.5 59.0L998.0 68.3L982.2 81.7ZM915.1 22.7L964.5 22.7L955.2 34.8L951.2 40.1L945.9 49.7L959.2 57.5L939.1 59.0L915.1 71.1ZM917.7 9.4L947.1 9.4L947.1 13.4L917.7 13.4Z" fill="#fdae61"/>
<path d="M1016.9 45.6L1028.8 34.8L1032.8 38.8L1022.2 49.7ZM925.7 40.1L939.1 32.0L951.2 38.8L941.9 42.9L931.0 42.9Z" fill="#ffffff"/>
<path d="M1003.6 30.8L1022.2 29.5L1021.0 38.8L1011.4 45.6L1006.1 38.8ZM915.1 25.5L927.2 24.7L929.8 30.8L920.4 33.5L915.1 32.0ZM945.9 24.7L959.2 24.2L955.2 30.8L948.7 29.5Z" fill="#f46d43"/>
<path d="M1008.9 31.5L1019.5 30.8L1016.9 38.8L1011.4 41.6Z" fill="#d53e4f"/>
<path d="M640.0 122.0L665.2 122.0L675.3 127.0L700.5 137.1L723.1 147.2L723.1 157.3L698.0 162.3L690.4 182.5L665.2 195.1L640.0 197.6Z" fill="#f46d43"/>
<path d="M665.2 172.4L690.4 162.3L696.7 172.4L680.3 187.5L660.2 195.1ZM685.4 137.1L705.5 142.1L715.6 157.3L698.0 159.8Z" fill="#fdae61"/>
<path d="M640.0 129.5L655.1 129.5L670.2 142.1L665.2 157.3L650.1 172.4L640.0 169.9ZM677.8 127.0L690.4 127.0L690.9 139.6L678.3 139.6ZM700.5 114.4L713.1 114.4L715.6 142.1L703.0 144.7Z" fill="#d53e4f"/>
<path d="M667.7 147.2L677.8 152.2L682.8 162.3L672.8 159.8Z" fill="#ffffff"/>
<path d="M724.4 129.5L733.2 133.3L730.7 143.4L725.7 139.6ZM805.0 120.7L821.4 122.0L820.2 128.3L806.3 127.0ZM845.4 154.7L850.4 154.7L850.4 167.3L845.4 167.3Z" fill="#abdda4"/>
<path d="M748.3 125.8L760.9 125.8L760.9 128.3L748.3 128.3ZM811.3 220.3L821.4 222.8L822.7 235.9L813.9 235.9Z" fill="#d53e4f"/>
<path d="M313.1 241.4L325.7 233.8L340.8 226.2L348.3 233.8L345.8 246.4L335.7 254.0L325.7 264.0L315.6 261.5L311.8 251.4ZM353.4 223.7L363.5 217.4L373.5 223.7L376.1 236.3L371.0 246.4L358.4 248.9L352.1 236.3ZM343.3 254.0L355.9 251.4L366.0 261.5L360.9 269.1L358.4 276.6L350.9 277.9L344.6 266.6ZM371.0 269.1L383.6 254.0L391.2 243.9L401.3 243.9L408.8 256.5L413.9 269.1L408.8 284.2L401.3 296.8L386.1 301.8L376.1 306.9L366.0 299.3L358.4 289.2L363.5 281.7L371.0 279.1ZM294.2 248.9L305.5 246.4L310.6 261.5L305.5 271.6L298.0 264.0ZM320.6 299.3L330.7 290.5L337.0 296.8L332.0 306.9L323.1 314.4ZM315.6 225.0L324.4 225.0L324.4 231.3L315.6 231.3ZM313.1 332.1L318.1 332.1L318.1 335.8L313.1 335.8ZM318.1 347.2L323.1 347.2L323.1 353.5L318.1 353.5ZM314.3 359.8L318.1 359.8L318.1 364.8L314.3 364.8ZM313.1 374.9L316.9 374.9L316.9 379.9L313.1 379.9ZM267.7 196.0L280.3 196.0L280.3 203.6L267.7 203.6Z" fill="#fdae61"/>
<path d="M396.2 289.2L406.3 289.2L406.3 296.8L396.2 296.8Z" fill="#ffffff"/>
<path d="M360.9 218.7L371.0 219.9L377.3 231.3L368.5 233.8L362.2 227.5ZM348.3 269.1L358.4 269.1L358.4 277.9L348.3 277.9ZM381.1 259.0L396.2 256.5L406.3 266.6L401.3 279.1L388.7 276.6ZM363.5 284.2L376.1 284.2L386.1 296.8L376.1 301.8L366.0 296.8ZM296.7 247.7L305.5 247.7L306.8 259.0L300.5 269.1Z" fill="#f46d43"/>
<path d="M369.8 219.9L376.1 223.7L377.3 230.0L372.3 228.8Z" fill="#d53e4f"/>
<path d="M303.0 227.5L308.0 227.5L308.0 233.8L303.0 233.8ZM286.6 242.6L291.7 242.6L291.7 247.7L286.6 247.7ZM332.0 334.6L338.3 334.6L338.3 338.4L332.0 338.4Z" fill="#abdda4"/>
<path d="M408.8 245.1L415.1 245.1L415.1 251.4L408.8 251.4Z" fill="#e6f598"/>
<path d="M548.0 216.5L636.2 206.4L656.4 214.0L643.8 239.1L641.3 276.9L626.1 297.1L616.1 317.3L580.8 332.4L573.2 327.3L555.6 282.0L563.1 256.8L550.6 231.6Z" fill="#fdae61"/>
<path d="M480.0 166.1L510.2 166.1L535.4 173.6L565.7 171.1L590.9 176.2L616.1 178.7L631.2 186.2L636.2 206.4L621.1 214.0L600.9 211.4L580.8 208.9L563.1 216.5L548.0 219.0L530.4 214.0L505.2 216.5L490.1 208.9L480.0 201.4Z" fill="#f46d43"/>
<path d="M495.1 193.8L510.2 191.3L515.3 203.9L500.2 206.4ZM525.4 181.2L545.5 183.7L543.0 193.8L527.9 191.3ZM588.3 206.4L606.0 203.9L611.0 211.4L593.4 214.0Z" fill="#fdae61"/>
<path d="M560.6 193.8L580.8 188.8L595.9 193.8L590.9 201.4L570.7 203.9ZM495.1 176.2L507.7 176.2L507.7 186.2L495.1 186.2Z" fill="#d53e4f"/>
<path d="M555.6 221.5L573.2 219.0L580.8 229.1L568.2 239.1L555.6 236.6ZM575.7 234.1L593.4 227.8L606.0 236.6L590.9 244.2L578.3 242.9ZM633.7 203.9L671.5 198.8L656.4 219.0L643.8 234.1L636.2 241.7L628.7 231.6L631.2 216.5ZM570.7 264.3L585.8 261.8L590.9 274.4L580.8 282.0L570.7 276.9ZM565.7 297.1L585.8 297.1L590.9 307.2L580.8 319.8L570.7 317.3ZM595.9 302.1L611.0 297.1L616.1 312.2L600.9 322.3ZM626.1 251.7L638.7 249.2L641.3 274.4L631.2 276.9ZM621.1 241.7L633.7 241.7L633.7 256.8L621.1 256.8Z" fill="#ffffff"/>
<path d="M573.2 254.3L590.9 249.2L606.0 251.7L621.1 266.9L626.1 282.0L616.1 289.5L598.4 289.5L590.9 279.5L595.9 266.9L580.8 261.8Z" fill="#f46d43"/>
<path d="M648.8 266.9L671.5 266.9L671.5 307.2L648.8 307.2Z" fill="#fdae61"/>
<path d="M656.4 282.0L663.9 282.0L663.9 292.1L656.4 292.1Z" fill="#ffffff"/>
<path d="M631.2 156.0L696.7 156.0L696.7 171.1L671.5 186.2L651.3 196.3L641.3 181.2Z" fill="#f46d43"/>
<path d="M671.5 171.1L696.7 163.6L694.2 176.2L674.0 186.2Z" fill="#fdae61"/>
<path d="M641.3 161.0L656.4 161.0L656.4 171.1L643.8 171.1ZM669.0 156.0L681.6 156.0L681.6 161.0L669.0 161.0Z" fill="#d53e4f"/>
<path d="M742.0 186.2L754.6 188.8L752.1 206.4L744.6 201.4Z" fill="#fdae61"/>
<path d="M754.6 202.6L762.2 202.6L762.2 215.2L754.6 215.2Z" fill="#f46d43"/>
<path d="M885.7 282.0L895.7 276.9L908.3 279.5L918.4 287.0L910.9 293.3L898.3 297.1L889.4 290.8Z" fill="#abdda4"/>
<path d="M892.0 280.7L904.6 279.5L908.3 285.8L899.5 288.3Z" fill="#66c2a5"/>
<path d="M937.3 271.9L946.1 276.9L953.7 292.1L967.6 304.7L961.3 309.7L951.2 304.7L946.1 292.1L938.6 282.0ZM923.5 319.8L931.0 317.3L938.6 329.9L948.7 339.9L961.3 329.9L967.6 319.8L968.8 332.4L953.7 343.7L941.1 343.7L931.0 337.4ZM840.3 211.4L870.6 211.4L870.6 241.7L840.3 241.7ZM931.0 241.7L948.7 241.7L948.7 251.7L931.0 251.7ZM825.2 181.2L840.3 181.2L840.3 198.8L825.2 198.8ZM1031.8 339.9L1039.4 339.9L1039.4 350.0L1031.8 350.0ZM943.6 347.5L956.2 347.5L956.2 357.6L943.6 357.6Z" fill="#fdae61"/>
<path d="M849.1 224.0L860.5 224.0L860.5 234.1L849.1 234.1ZM947.4 350.0L953.7 350.0L953.7 356.3L947.4 356.3Z" fill="#ffffff"/>
<path d="M800.0 214.0L832.8 214.0L832.8 249.2L800.0 249.2ZM810.1 203.9L825.2 203.9L825.2 226.6L810.1 226.6ZM841.6 226.6L850.4 226.6L850.4 239.1L841.6 239.1ZM869.3 229.1L883.1 229.1L883.1 248.0L869.3 248.0ZM880.6 203.9L892.0 203.9L892.0 215.2L880.6 215.2ZM830.2 249.2L875.6 249.2L875.6 259.3L830.2 259.3ZM807.6 156.0L832.8 156.0L832.8 166.1L807.6 166.1Z" fill="#f46d43"/>
<path d="M820.2 231.6L827.7 231.6L827.7 244.2L820.2 244.2Z" fill="#d53e4f"/>
<path d="M845.4 156.0L850.4 156.0L850.4 168.6L845.4 168.6Z" fill="#abdda4"/>
</g></g>
<g filter="url(#rough)" shape-rendering="crispEdges">
<path d="M3.8 32.5L15.1 33.8L27.7 37.6L31.5 42.6L22.7 45.1L12.6 42.6L5.0 38.8Z" fill="#fdae61"/>
<path d="M11.3 35.1L25.2 36.3L26.5 42.6L13.9 41.9Z" fill="#f46d43"/>
</g>
<path d="M735.4 194.8L737.2 194.8L737.2 196.3L735.4 196.3ZM736.1 204.4L737.9 204.4L737.9 205.9L736.1 205.9ZM735.6 213.2L737.4 213.2L737.4 214.7L735.6 214.7ZM736.4 222.0L738.2 222.0L738.2 223.5L736.4 223.5ZM896.1 171.6L897.9 171.6L897.9 173.1L896.1 173.1ZM913.7 169.1L915.5 169.1L915.5 170.6L913.7 170.6Z" fill="#f46d43"/>
<path d="M20.4 255.2L22.2 255.2L22.2 256.7L20.4 256.7ZM40.0 261.8L41.8 261.8L41.8 263.3L40.0 263.3ZM3.8 272.0L5.6 272.0L5.6 273.5L3.8 273.5ZM16.4 276.9L18.2 276.9L18.2 278.4L16.4 278.4ZM2.2 290.9L4.0 290.9L4.0 292.4L2.2 292.4ZM47.1 283.5L48.9 283.5L48.9 285.0L47.1 285.0ZM57.4 285.1L59.2 285.1L59.2 286.6L57.4 286.6ZM57.4 292.5L59.2 292.5L59.2 294.0L57.4 294.0ZM64.5 288.7L66.3 288.7L66.3 290.2L64.5 290.2ZM62.9 294.1L64.7 294.1L64.7 295.6L62.9 295.6ZM73.9 279.3L75.7 279.3L75.7 280.8L73.9 280.8ZM100.7 272.5L102.5 272.5L102.5 274.0L100.7 274.0ZM101.1 273.0L102.9 273.0L102.9 274.5L101.1 274.5ZM112.2 283.5L114.0 283.5L114.0 285.0L112.2 285.0ZM112.8 294.1L114.6 294.1L114.6 295.6L112.8 295.6ZM102.7 311.4L104.5 311.4L104.5 312.9L102.7 312.9ZM5.1 315.8L6.9 315.8L6.9 317.3L5.1 317.3Z" fill="#fdae61"/>
<path d="M21.1 270.9L22.9 270.9L22.9 272.4L21.1 272.4ZM25.1 272.0L26.9 272.0L26.9 273.5L25.1 273.5ZM2.2 283.8L4.0 283.8L4.0 285.3L2.2 285.3ZM15.6 285.1L17.4 285.1L17.4 286.6L15.6 286.6ZM14.8 288.2L16.6 288.2L16.6 289.7L14.8 289.7ZM28.2 285.9L30.0 285.9L30.0 287.4L28.2 287.4ZM12.5 292.7L14.3 292.7L14.3 294.2L12.5 294.2ZM81.0 278.5L82.8 278.5L82.8 280.0L81.0 280.0ZM87.3 281.5L89.1 281.5L89.1 283.0L87.3 283.0ZM88.1 266.2L89.9 266.2L89.9 267.7L88.1 267.7ZM100.7 287.9L102.5 287.9L102.5 289.4L100.7 289.4ZM82.2 296.1L84.0 296.1L84.0 297.6L82.2 297.6ZM87.3 298.2L89.1 298.2L89.1 299.7L87.3 299.7Z" fill="#f46d43"/>
<use href="#lakes"/>
<use href="#coast"/>
</svg>
<rect x="75.0" y="44.0" width="1078.5" height="421.6" fill="none" stroke="#262626" stroke-width="1.5"/>
<text transform="translate(160.2 519.0) scale(0.969 1)" text-anchor="middle" class="tk">-150</text>
<text transform="translate(306.0 519.0) scale(0.969 1)" text-anchor="middle" class="tk">-100</text>
<text transform="translate(451.8 519.0) scale(0.969 1)" text-anchor="middle" class="tk">-50</text>
<text transform="translate(597.6 519.0) scale(0.969 1)" text-anchor="middle" class="tk">0</text>
<text transform="translate(743.4 519.0) scale(0.969 1)" text-anchor="middle" class="tk">50</text>
<text transform="translate(889.2 519.0) scale(0.969 1)" text-anchor="middle" class="tk">100</text>
<text transform="translate(1035.0 519.0) scale(0.969 1)" text-anchor="middle" class="tk">150</text>
<text transform="translate(58.4 145.4) scale(0.969 1)" text-anchor="end" class="tk">50</text>
<text transform="translate(58.4 290.8) scale(0.969 1)" text-anchor="end" class="tk">0</text>
<text transform="translate(58.4 436.3) scale(0.969 1)" text-anchor="end" class="tk">-50</text>
<text transform="translate(614.2 30.8) scale(0.967 1)" text-anchor="middle" class="tt">SDHI trend (/decade)</text>
<text x="242.7" y="379.8" text-anchor="middle" class="lb">(a)</text>
</g>
<g id="panel2">
<path d="M157.0 1051.7v-11.4M157.0 630.1v11.4M302.8 1051.7v-11.4M302.8 630.1v11.4M448.6 1051.7v-11.4M448.6 630.1v11.4M594.4 1051.7v-11.4M594.4 630.1v11.4M740.2 1051.7v-11.4M740.2 630.1v11.4M886.0 1051.7v-11.4M886.0 630.1v11.4M1031.8 1051.7v-11.4M1031.8 630.1v11.4M70.8 717.1h11.4M1149.3 717.1h-11.4M70.8 862.5h11.4M1149.3 862.5h-11.4M70.8 1008.0h11.4M1149.3 1008.0h-11.4" stroke="#262626" stroke-width="1.6" fill="none"/>
<svg x="70.8" y="630.1" width="1078.5" height="421.6" viewBox="0 0 1078.5 421.6" overflow="hidden">
<g clip-path="url(#landclip)"><g filter="url(#rough)" shape-rendering="crispEdges">
<path d="M100.0 28.9L117.6 28.9L121.4 35.2L112.6 41.5L103.8 40.3ZM170.5 105.8L184.4 104.5L185.7 110.8L175.6 112.1ZM173.1 117.1L178.1 117.1L178.1 122.1L173.1 122.1Z" fill="#fee08b"/>
<path d="M103.8 31.4L111.3 31.4L111.3 40.3L104.5 40.3Z" fill="#fdae61"/>
<path d="M175.6 42.8L185.7 37.7L205.8 36.5L220.9 40.3L223.5 52.9L220.9 68.0L213.4 68.0L210.9 55.4L200.8 50.3L188.2 52.9L178.1 49.1ZM142.8 57.9L150.4 57.9L150.4 64.2L142.8 64.2ZM129.0 49.1L136.5 49.1L136.5 52.9L129.0 52.9ZM53.4 54.1L63.5 52.9L67.2 60.4L58.4 61.7ZM231.0 73.0L241.1 62.9L248.6 60.4L246.1 70.5L238.6 80.6L229.8 80.6Z" fill="#e6f598"/>
<path d="M209.6 70.5L220.9 69.2L223.5 78.0L213.4 80.6ZM166.8 54.1L175.6 54.1L175.6 59.2L166.8 59.2ZM258.7 83.1L266.3 83.1L266.3 89.4L258.7 89.4ZM227.2 136.0L237.3 136.0L237.3 141.0L227.2 141.0ZM273.8 105.8L296.5 105.8L296.5 110.8L273.8 110.8ZM294.0 95.7L301.6 95.7L301.6 100.7L294.0 100.7ZM311.6 55.4L319.2 55.4L319.2 68.0L311.6 68.0ZM55.9 54.9L62.2 54.9L63.5 59.9L57.7 59.9ZM236.1 68.0L244.9 64.2L243.6 73.0L237.3 78.0Z" fill="#abdda4"/>
<path d="M212.1 71.8L219.7 71.8L220.9 77.5L214.6 78.6ZM261.2 125.9L271.3 125.9L271.3 131.0L261.2 131.0ZM233.5 129.7L238.6 129.7L238.6 133.5L233.5 133.5ZM222.2 157.4L226.5 156.2L227.2 165.0L223.5 166.2ZM296.5 103.2L309.1 98.2L319.2 95.7L319.2 105.8L304.1 110.8Z" fill="#66c2a5"/>
<path d="M237.3 118.4L246.1 117.1L247.4 124.7L238.6 125.9ZM248.6 118.4L251.2 118.4L251.2 123.4L248.6 123.4ZM305.3 102.0L316.7 98.2L317.9 103.8L307.9 107.0Z" fill="#3288bd"/>
<path d="M239.8 119.6L244.9 119.6L244.9 123.9L240.3 123.9ZM283.9 149.9L287.7 149.9L287.7 156.2L283.9 156.2ZM307.1 205.3L310.6 205.3L310.6 214.1L307.1 214.1Z" fill="#5e4fa2"/>
<path d="M160.5 91.9L164.2 91.9L164.2 96.9L160.5 96.9Z" fill="#f46d43"/>
<path d="M367.1 35.2L377.2 34.0L382.2 45.3L376.6 50.3L369.6 44.8ZM352.0 75.5L369.6 78.0L369.6 93.2L359.5 91.9ZM319.2 90.6L331.8 90.6L331.8 100.7L319.2 100.7Z" fill="#66c2a5"/>
<path d="M369.1 37.2L375.1 36.5L379.7 44.8L375.9 48.3L371.4 43.5Z" fill="#5e4fa2"/>
<path d="M324.2 35.2L341.9 36.5L339.4 45.3L325.5 44.8Z" fill="#fdae61"/>
<path d="M319.2 60.4L334.3 59.2L331.8 69.2L319.2 70.5ZM564.9 59.2L571.2 59.2L571.2 65.5L564.9 65.5Z" fill="#abdda4"/>
<path d="M504.4 113.3L518.3 112.1L520.8 120.9L506.9 122.1ZM490.5 177.6L510.7 177.6L512.0 188.9L493.1 190.2ZM614.0 176.3L631.6 176.3L631.6 186.4L614.0 186.4Z" fill="#fee08b"/>
<path d="M519.5 103.2L525.8 103.2L525.8 109.5L519.5 109.5ZM554.8 88.1L559.8 88.1L559.8 91.9L554.8 91.9ZM513.2 191.4L533.4 188.9L546.0 194.0L540.9 204.0L520.8 201.5ZM530.9 201.5L551.0 196.5L571.2 194.0L581.2 204.0L571.2 216.6L561.1 226.7L546.0 221.7L535.9 211.6ZM485.5 199.0L495.6 200.3L496.8 209.1L486.8 208.6ZM583.8 206.6L596.4 206.6L596.4 216.6L583.8 216.6ZM620.3 204.0L630.4 204.0L630.4 214.1L620.3 214.1ZM500.6 196.5L513.2 196.5L513.2 204.0L500.6 204.0ZM495.6 199.5L514.5 193.5L539.7 196.5L546.0 209.1L527.1 215.4L508.2 212.1ZM571.2 194.0L586.3 196.5L596.4 209.1L581.2 221.7L571.2 216.6Z" fill="#fdae61"/>
<path d="M510.7 194.0L520.8 191.4L523.3 196.5L513.2 199.5ZM530.9 190.2L540.9 188.9L542.2 194.0L532.1 195.2Z" fill="#fee08b"/>
<path d="M538.4 98.2L547.2 99.5L546.0 104.5L539.7 103.2ZM540.9 206.6L561.1 201.5L568.6 211.6L558.6 221.7L548.5 219.2ZM622.8 206.6L627.9 206.6L627.9 211.6L622.8 211.6Z" fill="#d53e4f"/>
<path d="M559.8 96.9L568.6 95.7L569.9 102.0L561.1 102.0ZM544.7 209.1L558.6 207.8L557.3 219.2L549.8 220.4ZM486.8 204.0L495.6 206.6L499.4 216.6L491.8 214.1Z" fill="#9e0142"/>
<path d="M529.6 163.7L542.2 163.7L542.2 171.3L529.6 171.3ZM518.3 133.5L523.3 133.5L523.3 137.3L518.3 137.3Z" fill="#e6f598"/>
<path d="M684.6 11.3L719.8 7.5L721.1 11.3L689.6 20.1L679.5 20.1ZM770.2 13.8L785.3 13.8L785.3 18.8L770.2 18.8ZM820.6 8.8L850.9 10.0L866.0 20.1L863.5 26.4L848.3 23.9L828.2 16.3ZM923.9 10.0L959.2 10.0L959.2 17.6L923.9 17.6ZM941.6 22.6L959.2 22.6L959.2 31.4L941.6 31.4ZM694.6 81.8L704.7 79.3L708.5 93.2L699.7 94.4ZM722.3 17.6L752.6 17.6L752.6 39.0L724.9 38.2Z" fill="#fee08b"/>
<path d="M723.6 22.6L740.0 18.8L750.1 22.6L750.1 35.2L740.0 39.0L726.1 36.5ZM845.8 17.6L863.5 18.8L863.5 26.4L847.1 25.1ZM795.4 39.0L800.5 39.0L800.5 45.3L795.4 45.3ZM746.3 57.9L751.3 57.9L751.3 61.7L746.3 61.7ZM818.1 57.9L833.2 57.9L833.2 65.5L818.1 65.5ZM785.3 79.3L795.4 78.0L808.0 78.0L810.5 88.1L800.5 91.9L790.4 85.6ZM815.6 90.6L830.7 90.6L848.3 83.1L862.2 84.3L862.2 95.7L845.8 98.2L833.2 103.2L823.1 99.5L815.6 95.7ZM804.2 100.7L810.5 100.7L810.5 108.3L804.2 108.3ZM738.7 180.1L742.5 180.1L742.5 191.4L738.7 191.4Z" fill="#fdae61"/>
<path d="M727.4 25.1L745.0 25.1L745.0 35.2L727.9 35.2ZM796.7 78.0L809.3 78.0L809.3 89.4L797.4 89.4ZM835.7 88.1L860.9 86.9L860.9 95.7L837.0 96.2ZM874.8 100.7L889.9 100.7L889.9 105.8L874.8 105.8ZM848.3 124.7L855.9 124.7L855.9 128.4L848.3 128.4Z" fill="#f46d43"/>
<path d="M858.4 109.5L868.5 109.5L869.8 118.4L860.9 118.4ZM747.5 138.5L752.6 137.3L762.7 147.3L758.9 152.4L750.1 144.8ZM790.4 167.5L800.5 167.5L804.2 176.3L800.5 181.4L794.2 175.1ZM826.9 180.1L832.0 180.1L832.0 185.1L826.9 185.1ZM745.0 200.3L748.1 200.3L748.1 205.3L745.0 205.3Z" fill="#9e0142"/>
<path d="M677.0 35.2L692.1 35.2L692.1 44.0L677.0 44.0ZM878.6 34.0L898.7 34.0L898.7 42.8L878.6 42.8ZM761.4 112.1L775.3 113.3L780.3 120.9L800.5 123.4L805.5 117.1L815.6 118.4L813.1 128.4L800.5 132.2L790.4 141.0L775.3 141.0L767.7 132.2L762.7 120.9ZM732.4 113.3L747.5 113.3L747.5 125.9L732.4 125.9ZM719.8 125.9L729.9 125.9L729.9 138.5L719.8 138.5Z" fill="#e6f598"/>
<path d="M673.2 46.6L679.5 46.6L679.5 56.6L673.2 56.6ZM684.6 52.9L690.9 52.9L690.9 57.9L684.6 57.9ZM926.4 36.5L946.6 36.5L946.6 40.3L926.4 40.3ZM871.0 61.7L881.1 61.7L881.1 73.0L871.0 73.0ZM748.8 153.6L753.8 153.6L753.8 158.7L748.8 158.7ZM654.3 205.3L665.7 205.3L665.7 215.4L654.3 215.4Z" fill="#abdda4"/>
<path d="M882.3 55.4L891.2 55.4L891.2 61.7L882.3 61.7ZM769.0 131.0L790.4 129.7L790.4 141.0L775.3 141.5ZM767.7 168.8L776.5 168.8L776.5 176.3L767.7 176.3Z" fill="#66c2a5"/>
<path d="M776.5 136.0L785.3 136.0L785.3 141.5L776.5 141.5ZM736.2 137.3L740.0 137.3L740.0 142.3L736.2 142.3ZM770.2 170.0L775.3 170.0L775.3 175.1L770.2 175.1Z" fill="#3288bd"/>
<path d="M728.6 131.0L736.2 131.0L736.2 139.8L728.6 139.8ZM850.9 147.3L858.4 146.1L863.5 141.0L873.5 143.6L872.3 151.1L860.9 153.6L852.1 151.1ZM819.4 170.0L826.9 170.0L826.9 175.1L819.4 175.1Z" fill="#5e4fa2"/>
<path d="M314.8 242.8L324.9 237.7L334.9 236.5L332.4 245.3L331.2 252.9L322.3 251.6L316.1 249.1ZM302.2 257.9L311.0 256.6L312.3 266.7L304.7 270.5L300.9 264.2ZM309.8 358.2L313.8 358.2L313.8 365.2L309.8 365.2Z" fill="#9e0142"/>
<path d="M304.7 251.6L313.5 251.6L313.5 255.4L304.7 255.4ZM386.6 259.2L392.9 259.2L392.9 265.5L386.6 265.5Z" fill="#d53e4f"/>
<path d="M399.2 259.2L406.8 259.2L406.8 262.9L399.2 262.9ZM332.4 286.9L340.0 286.9L340.0 291.9L332.4 291.9Z" fill="#f46d43"/>
<path d="M350.1 268.0L356.4 268.0L356.4 273.0L350.1 273.0Z" fill="#fdae61"/>
<path d="M307.2 206.2L310.8 206.2L310.8 215.1L307.2 215.1ZM294.6 241.5L306.0 241.5L306.0 245.3L294.6 245.3ZM357.6 276.8L365.2 276.8L365.2 281.8L357.6 281.8ZM376.5 298.2L390.4 298.2L382.8 305.8L380.3 315.8L374.0 317.1L375.3 305.8ZM353.8 322.1L361.4 322.1L361.4 328.4L353.8 328.4ZM332.4 298.2L338.7 298.2L338.7 303.2L332.4 303.2Z" fill="#5e4fa2"/>
<path d="M288.3 242.8L293.4 242.8L293.4 249.1L288.3 249.1ZM374.0 289.4L380.3 288.1L380.3 298.2L375.3 296.9ZM367.7 302.0L376.5 302.0L376.5 307.0L367.7 307.0Z" fill="#3288bd"/>
<path d="M342.5 325.9L355.1 325.9L355.1 329.7L342.5 329.7ZM329.9 334.7L340.0 333.5L345.0 339.8L336.2 343.6Z" fill="#66c2a5"/>
<path d="M323.6 323.4L331.2 317.1L336.2 325.9L329.9 332.2L323.6 331.0ZM410.5 246.6L420.6 246.6L420.6 254.1L410.5 254.1Z" fill="#abdda4"/>
<path d="M319.8 336.0L329.9 332.2L340.0 338.5L350.1 337.3L356.4 341.0L340.0 346.1L334.9 349.9L326.1 343.6Z" fill="#e6f598"/>
<path d="M329.9 334.7L340.0 333.5L345.0 339.8L336.2 343.6Z" fill="#66c2a5"/>
<path d="M571.9 241.1L580.0 241.1L590.1 241.8L590.6 251.2L580.0 251.7L574.4 247.6Z" fill="#d53e4f"/>
<path d="M573.7 242.3L580.0 243.1L588.1 243.1L588.8 250.1L580.0 250.1L576.0 246.9Z" fill="#9e0142"/>
<path d="M596.4 241.8L605.2 241.8L605.2 248.1L596.4 248.1ZM620.3 202.8L630.4 202.8L630.4 214.1L620.3 214.1Z" fill="#fdae61"/>
<path d="M622.8 205.3L628.4 205.3L628.4 212.3L622.8 212.3ZM590.1 279.6L600.1 279.6L600.1 287.2L590.1 287.2ZM622.8 275.8L629.1 275.8L629.1 280.9L622.8 280.9Z" fill="#f46d43"/>
<path d="M605.2 292.2L611.5 292.2L611.5 298.5L605.2 298.5Z" fill="#d53e4f"/>
<path d="M562.3 272.1L568.6 272.1L568.6 278.4L562.3 278.4Z" fill="#fee08b"/>
<path d="M654.3 205.3L666.9 205.3L666.9 215.4L654.3 215.4ZM586.3 317.4L591.3 317.4L591.3 322.5L586.3 322.5ZM610.2 235.5L616.5 235.5L616.5 246.9L610.2 246.9Z" fill="#abdda4"/>
<path d="M886.1 316.2L905.0 313.6L915.1 316.2L905.0 323.7L889.9 326.2ZM860.9 312.4L866.0 312.4L866.0 317.4L860.9 317.4Z" fill="#e6f598"/>
<path d="M871.0 316.2L879.8 303.6L900.0 306.1L912.6 308.6L910.1 316.2L894.9 313.6L887.4 321.2L877.3 323.7Z" fill="#abdda4"/>
<path d="M874.8 298.5L894.9 299.8L910.1 303.6L912.6 308.6L900.0 308.6L884.9 303.6L877.3 303.6Z" fill="#66c2a5"/>
<path d="M871.0 296.0L879.8 278.4L887.4 272.1L910.1 275.8L920.1 285.9L930.2 285.9L929.0 293.5L917.6 296.0L910.1 303.6L894.9 301.0L882.3 298.5L872.3 302.3Z" fill="#3288bd"/>
<path d="M882.3 278.4L910.1 277.1L911.3 283.4L900.0 288.4L887.4 287.2ZM894.9 289.7L915.1 287.2L920.1 292.2L907.5 296.0L897.5 294.7ZM873.5 291.0L882.3 291.0L882.3 296.0L873.5 296.0ZM819.4 170.0L826.9 170.0L826.9 176.3L819.4 176.3Z" fill="#5e4fa2"/>
<path d="M969.3 308.6L971.8 308.6L971.8 314.9L969.3 314.9ZM826.9 180.1L830.7 180.1L830.7 185.1L826.9 185.1Z" fill="#d53e4f"/>
<path d="M1031.0 342.6L1037.3 342.6L1037.3 352.7L1031.0 352.7Z" fill="#f46d43"/>
<path d="M799.2 168.8L804.2 168.8L804.2 178.8L799.2 178.8Z" fill="#9e0142"/>
</g></g>
<g filter="url(#rough)" shape-rendering="crispEdges">
<path d="M9.3 34.0L21.9 35.2L29.4 39.0L24.4 44.0L14.3 44.0L10.5 39.0Z" fill="#fdae61"/>
<path d="M14.3 36.5L25.7 37.7L24.4 42.8L14.8 42.8Z" fill="#f46d43"/>
</g>
<use href="#lakes"/>
<use href="#coast"/>
</svg>
<rect x="70.8" y="630.1" width="1078.5" height="421.6" fill="none" stroke="#262626" stroke-width="1.5"/>
<text transform="translate(156.0 1105.1) scale(0.969 1)" text-anchor="middle" class="tk">-150</text>
<text transform="translate(301.8 1105.1) scale(0.969 1)" text-anchor="middle" class="tk">-100</text>
<text transform="translate(447.6 1105.1) scale(0.969 1)" text-anchor="middle" class="tk">-50</text>
<text transform="translate(593.4 1105.1) scale(0.969 1)" text-anchor="middle" class="tk">0</text>
<text transform="translate(739.2 1105.1) scale(0.969 1)" text-anchor="middle" class="tk">50</text>
<text transform="translate(885.0 1105.1) scale(0.969 1)" text-anchor="middle" class="tk">100</text>
<text transform="translate(1030.8 1105.1) scale(0.969 1)" text-anchor="middle" class="tk">150</text>
<text transform="translate(54.2 731.5) scale(0.969 1)" text-anchor="end" class="tk">50</text>
<text transform="translate(54.2 876.9) scale(0.969 1)" text-anchor="end" class="tk">0</text>
<text transform="translate(54.2 1022.4) scale(0.969 1)" text-anchor="end" class="tk">-50</text>
<text transform="translate(610.0 616.9) scale(0.967 1)" text-anchor="middle" class="tt">Precipitation trend (mm/decade)</text>
<text x="238.5" y="965.9" text-anchor="middle" class="lb">(b)</text>
</g>
<g id="panel3">
<path d="M160.5 1606.7v-11.4M160.5 1185.1v11.4M306.3 1606.7v-11.4M306.3 1185.1v11.4M452.1 1606.7v-11.4M452.1 1185.1v11.4M597.9 1606.7v-11.4M597.9 1185.1v11.4M743.7 1606.7v-11.4M743.7 1185.1v11.4M889.5 1606.7v-11.4M889.5 1185.1v11.4M1035.3 1606.7v-11.4M1035.3 1185.1v11.4M74.3 1272.1h11.4M1152.8 1272.1h-11.4M74.3 1417.5h11.4M1152.8 1417.5h-11.4M74.3 1563.0h11.4M1152.8 1563.0h-11.4" stroke="#262626" stroke-width="1.6" fill="none"/>
<svg x="74.3" y="1185.1" width="1078.5" height="421.6" viewBox="0 0 1078.5 421.6" overflow="hidden">
<g clip-path="url(#landclip)"><g filter="url(#rough)" shape-rendering="crispEdges">
<path d="M0.0 0.0L1043.0 0.0L1043.0 430.0L0.0 430.0Z" fill="#f46d43"/>
<path d="M41.0 32.2L51.1 25.1L83.8 24.6L106.5 27.1L122.9 32.2L121.1 47.3L113.1 50.3L107.8 41.5L97.7 34.7L87.6 37.7L77.6 43.2L66.7 45.8L51.1 40.7Z" fill="#d53e4f"/>
<path d="M52.4 28.1L66.7 25.1L76.3 30.1L74.3 37.7L64.2 40.7L54.1 35.7Z" fill="#9e0142"/>
<path d="M88.9 51.6L95.4 37.7L101.0 33.2L107.8 35.2L113.1 45.8L111.6 56.6L91.9 56.6Z" fill="#fdae61"/>
<path d="M93.4 49.0L98.5 39.7L103.5 37.7L108.5 44.2L107.5 53.8L96.4 53.8Z" fill="#ffffff"/>
<path d="M68.7 49.0L83.8 49.8L83.8 57.3L73.8 56.6ZM41.0 42.7L53.6 41.5L54.9 47.8L42.3 49.0Z" fill="#fdae61"/>
<path d="M136.8 62.9L143.1 53.3L153.1 47.8L165.7 48.3L177.1 53.3L182.6 62.9L177.1 70.5L167.0 65.9L156.9 73.0L148.1 70.5Z" fill="#fdae61"/>
<path d="M155.7 69.2L167.0 65.9L174.6 71.7L172.0 79.3L162.0 80.0Z" fill="#d53e4f"/>
<path d="M174.6 75.5L187.2 65.9L202.3 60.4L209.8 65.9L227.5 62.9L242.6 67.4L255.2 73.0L268.3 83.0L280.9 83.0L286.7 93.6L278.4 101.2L265.3 98.7L252.7 101.2L240.1 96.2L222.4 101.2L207.8 96.2L195.2 98.7L182.6 88.6Z" fill="#fdae61"/>
<path d="M188.4 41.5L202.3 33.9L215.4 37.2L228.0 42.2L243.1 44.8L253.2 42.2L264.0 47.8L275.3 44.0L282.9 37.7L290.5 42.7L277.9 54.1L262.7 55.8L252.7 55.8L240.1 53.3L227.5 50.8L214.9 48.3L202.3 48.3L192.2 47.8Z" fill="#d53e4f"/>
<path d="M196.7 37.7L204.8 36.7L206.1 42.7L198.5 43.7Z" fill="#9e0142"/>
<path d="M214.9 15.0L240.1 13.8L252.7 20.1L242.6 27.6L222.4 26.4ZM262.7 10.0L285.4 15.0L282.9 27.6L267.8 25.1Z" fill="#d53e4f"/>
<path d="M250.1 -0.1L280.4 -0.1L277.9 7.0L262.7 8.7L252.7 6.2Z" fill="#9e0142"/>
<path d="M159.9 15.5L169.0 14.5L177.1 17.5L174.6 23.8L162.0 23.8Z" fill="#ffffff"/>
<path d="M164.5 17.5L174.6 17.0L174.1 22.6L165.7 23.1Z" fill="#fdae61"/>
<path d="M290.5 18.8L320.7 15.0L320.7 54.1L306.8 51.6L298.0 37.7L290.5 27.6Z" fill="#ffffff"/>
<path d="M298.0 2.4L320.7 -0.1L320.7 15.0L303.1 12.5Z" fill="#ffffff"/>
<path d="M294.2 54.1L305.6 49.0L320.7 54.1L320.7 83.0L306.8 81.8L298.0 75.5L293.0 65.4Z" fill="#d53e4f"/>
<path d="M300.0 59.9L308.6 56.6L315.2 62.9L313.1 73.0L304.3 73.5L299.5 67.4Z" fill="#9e0142"/>
<path d="M179.1 81.0L187.2 75.5L200.3 77.5L202.8 85.6L195.2 93.6L184.6 91.1ZM204.8 80.5L212.9 74.2L227.5 71.7L243.1 75.5L253.2 83.0L250.1 90.6L237.6 88.6L227.5 93.6L214.9 88.6L207.8 88.6Z" fill="#ffffff"/>
<path d="M164.5 100.7L177.1 93.6L194.7 93.6L202.3 100.7L199.8 110.8L202.3 120.8L202.3 132.2L192.2 133.4L180.9 125.9L170.0 118.3Z" fill="#d53e4f"/>
<path d="M167.5 107.0L177.1 103.7L180.9 114.5L178.3 123.9L172.0 120.8ZM182.6 95.6L192.2 95.1L193.5 107.7L185.9 108.8ZM184.1 120.8L194.7 118.3L200.3 125.9L193.5 131.4L185.9 128.9Z" fill="#9e0142"/>
<path d="M197.7 98.7L209.8 96.9L211.8 113.3L202.3 117.1Z" fill="#fdae61"/>
<path d="M200.3 99.4L210.3 93.6L220.4 99.4L238.1 98.2L253.2 100.7L265.8 110.8L275.8 118.3L285.9 117.8L296.0 118.3L298.5 125.9L291.0 136.0L283.4 141.0L268.3 143.5L253.2 144.8L243.1 148.6L235.5 141.0L228.0 130.9L222.9 120.8L215.4 118.3L205.3 110.8Z" fill="#ffffff"/>
<path d="M242.6 114.5L250.1 113.3L252.7 130.9L246.4 133.4ZM262.7 123.4L277.9 120.8L280.4 130.9L267.8 133.4ZM222.4 99.4L237.6 98.7L236.3 105.7L225.0 105.2ZM214.9 110.8L222.4 108.2L223.7 125.9L217.4 123.4ZM282.9 125.9L293.0 120.8L296.8 128.4L287.9 136.0Z" fill="#fdae61"/>
<path d="M277.9 84.3L298.0 83.0L320.7 85.6L320.7 105.7L303.1 105.7L290.5 100.7L280.4 95.6Z" fill="#fdae61"/>
<path d="M252.7 141.0L267.8 143.0L285.4 141.0L290.5 153.6L285.4 157.4L277.9 144.8L262.7 147.3L252.7 146.0Z" fill="#fdae61"/>
<path d="M287.9 108.2L303.1 105.7L320.7 100.7L320.7 110.8L310.6 120.8L303.1 130.9L295.5 137.2L290.5 128.4L293.0 118.3Z" fill="#fdae61"/>
<path d="M298.0 107.0L320.7 101.2L320.7 110.3L311.1 119.8L304.3 125.9L299.3 118.3Z" fill="#f46d43"/>
<path d="M228.7 108.2L236.3 107.0L238.8 118.3L231.3 120.8ZM248.9 100.7L262.7 101.9L264.0 108.2L250.1 108.8ZM265.3 112.0L274.1 113.3L272.8 119.6L265.8 118.8Z" fill="#fdae61"/>
<path d="M206.1 142.3L217.4 139.7L228.7 148.6L227.5 161.2L214.9 163.2L207.3 154.9ZM257.2 170.0L270.8 169.2L270.3 181.8L259.7 181.3Z" fill="#fdae61"/>
<path d="M191.7 136.0L202.3 136.0L203.5 146.5L194.7 146.0ZM219.4 166.2L233.0 165.2L233.8 176.3L222.4 176.8ZM254.7 183.8L273.3 183.3L273.3 196.9L260.2 197.4Z" fill="#d53e4f"/>
<path d="M224.4 154.1L234.5 154.1L235.0 164.2L225.0 164.2Z" fill="#ffffff"/>
<path d="M226.5 156.1L232.5 156.1L232.5 162.4L227.0 162.4Z" fill="#3288bd"/>
<path d="M228.0 157.6L231.0 157.6L231.0 161.2L228.2 161.2Z" fill="#5e4fa2"/>
<path d="M175.8 128.9L182.6 128.9L182.1 132.9L176.3 132.9Z" fill="#66c2a5"/>
<path d="M290.5 201.5L320.7 196.4L320.7 239.8L290.5 239.8Z" fill="#fee08b"/>
<path d="M303.1 201.5L320.7 199.0L320.7 214.1L306.8 216.6Z" fill="#fdae61"/>
<path d="M335.8 -0.1L478.2 -0.1L471.9 25.1L439.1 35.2L396.3 59.1L366.1 37.7L358.5 15.0Z" fill="#ffffff"/>
<path d="M371.1 25.1L386.7 7.5L411.4 25.1L431.6 15.0L439.1 -0.1L471.9 -0.1L461.8 23.1L441.6 30.6L421.5 35.2L406.4 40.7L396.3 54.8L381.2 48.3L373.6 40.2Z" fill="#fdae61"/>
<path d="M372.4 25.1L386.7 23.1L390.0 35.2L386.7 49.0L377.4 46.5L373.1 37.7ZM439.1 21.3L461.8 15.0L460.5 25.1L441.6 31.4Z" fill="#f46d43"/>
<path d="M405.1 31.4L416.4 25.1L429.0 27.6L421.5 36.4L407.6 40.2Z" fill="#fee08b"/>
<path d="M325.2 32.2L338.3 33.9L344.6 37.7L335.8 42.7L330.8 48.3L325.7 45.3Z" fill="#5e4fa2"/>
<path d="M330.8 73.0L345.9 70.5L361.0 75.5L362.3 85.6L345.9 86.8L333.3 83.0Z" fill="#d53e4f"/>
<path d="M350.4 84.3L368.6 85.6L369.8 96.2L353.5 95.6ZM320.7 89.3L340.9 88.1L345.9 100.7L320.7 105.7Z" fill="#fdae61"/>
<path d="M461.8 37.7L483.2 39.0L479.4 46.5L464.3 46.5Z" fill="#fdae61"/>
<path d="M493.3 70.5L508.4 71.0L507.2 84.3L494.6 83.0ZM505.9 59.1L522.3 59.1L522.3 71.7L508.4 73.0Z" fill="#fdae61"/>
<path d="M537.4 50.3L547.5 42.7L562.6 32.7L582.7 25.1L607.9 25.1L620.5 32.7L613.0 50.3L597.9 60.4L587.8 73.0L572.7 75.5L562.6 73.0L552.5 70.5L542.4 62.9Z" fill="#fdae61"/>
<path d="M541.2 50.3L555.0 41.5L562.6 44.0L555.0 57.9L545.0 62.9Z" fill="#f46d43"/>
<path d="M557.6 50.3L568.9 49.0L570.1 59.1L558.8 59.9ZM591.6 41.5L604.2 41.5L604.2 51.6L592.8 51.6Z" fill="#fee08b"/>
<path d="M560.1 52.3L567.1 51.6L567.6 57.3L560.6 57.9ZM595.3 43.2L602.4 43.2L602.4 49.8L595.8 49.8Z" fill="#ffffff"/>
<path d="M572.7 69.2L587.8 64.2L606.7 66.7L607.9 83.0L587.8 86.8L575.2 83.0ZM613.0 35.2L640.7 30.1L640.7 62.9L623.1 60.4Z" fill="#fdae61"/>
<path d="M577.7 75.5L587.8 71.7L599.1 73.5L597.9 81.0L582.7 84.3Z" fill="#fee08b"/>
<path d="M512.2 88.1L527.3 80.5L547.5 75.5L572.7 80.5L587.8 86.8L607.9 83.0L640.7 75.5L640.7 100.7L623.1 95.6L605.4 100.7L602.9 113.3L640.7 110.8L640.7 130.9L618.0 130.9L597.9 125.9L572.7 118.3L557.6 100.7L547.5 105.7L532.4 110.8L522.3 103.2L514.7 100.7Z" fill="#d53e4f"/>
<path d="M527.3 88.1L542.4 82.5L560.1 85.6L562.6 99.4L547.5 101.9L534.9 105.2L527.8 98.2ZM572.7 91.9L592.8 96.2L599.9 105.7L594.8 115.3L582.7 112.8L573.9 105.7Z" fill="#9e0142"/>
<path d="M497.1 105.7L529.8 103.2L529.8 125.9L507.2 127.1L497.1 120.8Z" fill="#d53e4f"/>
<path d="M506.7 108.2L519.8 107.0L522.3 118.3L512.2 123.4L505.9 118.3Z" fill="#9e0142"/>
<path d="M496.3 105.7L503.4 105.7L504.1 123.9L497.1 122.1Z" fill="#fdae61"/>
<path d="M587.8 110.8L600.4 108.2L602.9 120.8L592.8 123.4Z" fill="#9e0142"/>
<path d="M482.0 151.1L497.1 136.0L517.2 128.4L547.5 125.9L572.7 130.9L587.8 141.0L618.0 141.0L640.7 136.0L640.7 176.3L623.1 176.3L623.1 151.1L597.9 146.0L572.7 151.1L547.5 146.0L522.3 148.6L497.1 156.1L487.0 163.7Z" fill="#d53e4f"/>
<path d="M542.4 125.9L572.7 127.1L575.2 141.0L562.6 151.1L547.5 144.8Z" fill="#9e0142"/>
<path d="M618.0 146.0L640.7 141.0L640.7 181.3L626.8 176.3L623.1 161.2Z" fill="#9e0142"/>
<path d="M490.0 161.2L502.6 153.6L522.8 148.6L535.4 143.5L553.0 143.5L568.1 151.1L588.3 146.0L616.0 148.6L623.1 156.1L623.1 173.8L603.4 176.3L580.7 176.3L563.1 173.8L548.0 163.7L535.4 163.7L522.8 166.2L507.7 168.7L495.1 168.7Z" fill="#ffffff"/>
<path d="M537.9 151.1L556.3 152.3L557.6 163.7L548.7 164.2L539.9 161.2Z" fill="#d53e4f"/>
<path d="M478.2 176.3L497.1 170.0L517.2 169.2L537.4 173.8L557.6 175.0L572.7 178.8L597.9 177.5L623.1 175.0L640.7 176.3L640.7 226.7L623.1 226.7L597.9 209.0L572.7 199.0L547.5 196.4L522.3 199.0L497.1 201.5L482.0 196.4Z" fill="#d53e4f"/>
<path d="M541.2 176.3L572.7 180.1L597.9 178.3L623.1 176.3L640.7 177.5L640.7 199.0L629.4 201.5L623.1 220.4L604.2 217.1L597.9 201.5L569.6 190.1L544.4 186.4ZM484.5 180.1L503.4 179.3L504.1 191.4L485.7 191.9ZM512.2 176.3L527.3 175.8L527.8 185.1L513.5 185.9Z" fill="#9e0142"/>
<path d="M497.1 187.6L512.2 186.9L522.3 193.9L507.2 197.7L494.6 193.9Z" fill="#f46d43"/>
<path d="M482.0 199.0L502.1 199.0L522.3 201.5L547.5 199.0L572.7 201.5L592.8 211.6L597.9 239.8L547.5 239.8L537.4 226.7L512.2 221.6L494.6 214.1Z" fill="#fdae61"/>
<path d="M492.0 209.0L507.2 211.6L522.3 219.1L537.4 221.6L548.7 226.7L551.3 239.8L542.4 239.8L534.9 227.9L512.2 222.9L497.1 216.6ZM562.6 211.6L582.7 210.3L585.3 239.8L563.8 239.8Z" fill="#fee08b"/>
<path d="M566.4 216.6L580.2 216.1L581.5 239.8L567.6 239.8Z" fill="#ffffff"/>
<path d="M320.7 196.4L350.9 201.5L378.7 226.7L378.7 239.8L320.7 239.8Z" fill="#fdae61"/>
<path d="M320.7 201.5L343.4 205.3L350.9 219.1L335.8 226.7L320.7 224.2Z" fill="#fee08b"/>
<path d="M325.7 209.5L340.4 210.3L340.9 218.6L327.0 219.1Z" fill="#ffffff"/>
<path d="M348.4 216.6L371.1 221.6L378.7 239.8L350.9 239.8Z" fill="#f46d43"/>
<path d="M553.8 -0.1L600.4 -0.1L597.9 7.0L556.3 7.0Z" fill="#9e0142"/>
<path d="M640.7 10.0L721.3 7.5L723.8 25.1L718.8 35.2L724.4 43.2L747.0 50.8L767.2 48.3L782.3 50.3L792.4 57.9L782.3 68.4L772.2 73.5L754.6 73.5L742.0 83.6L724.4 78.5L704.2 76.0L691.6 73.5L679.0 68.4L671.4 58.4L656.3 58.4L648.3 60.9L640.7 65.9Z" fill="#ffffff"/>
<path d="M640.7 65.9L650.8 62.9L656.3 83.0L640.7 84.3Z" fill="#ffffff"/>
<path d="M648.3 60.9L658.8 56.8L674.0 59.4L680.3 73.5L674.0 83.6L656.3 83.6Z" fill="#fdae61"/>
<path d="M660.9 61.6L672.2 61.6L674.7 73.0L664.6 74.2Z" fill="#f46d43"/>
<path d="M721.3 35.2L726.4 23.8L746.5 20.1L762.1 27.6L767.2 40.7L759.6 50.8L742.0 48.3L729.4 43.2Z" fill="#d53e4f"/>
<path d="M854.9 22.6L867.5 18.8L892.7 20.1L895.2 32.7L882.6 43.2L862.4 42.7ZM877.6 51.6L902.7 50.3L905.3 71.7L892.7 75.5L880.1 70.5ZM892.7 73.0L917.9 73.0L920.4 100.7L902.7 103.2L892.7 95.6Z" fill="#fdae61"/>
<path d="M875.0 22.1L892.7 21.3L893.2 32.2L878.8 33.2ZM882.6 58.4L892.7 57.9L893.2 64.4L883.1 64.4Z" fill="#ffffff"/>
<path d="M905.3 35.2L923.4 25.1L943.6 27.6L960.7 32.7L960.7 58.4L938.5 60.9L923.4 71.0L910.8 63.4Z" fill="#d53e4f"/>
<path d="M766.7 50.3L781.8 45.3L802.0 50.3L825.9 64.2L824.6 75.5L802.0 75.5L789.4 73.0L771.7 73.0Z" fill="#fdae61"/>
<path d="M781.8 50.8L792.4 48.3L802.5 58.4L822.6 65.9L817.6 73.5L802.5 71.0L789.9 65.9Z" fill="#ffffff"/>
<path d="M640.7 83.0L665.9 84.3L691.6 78.0L724.4 80.5L742.0 88.6L759.6 93.6L772.2 101.2L767.2 113.8L752.1 111.3L737.0 116.3L721.8 118.8L726.4 151.1L708.7 156.1L678.5 151.1L665.9 141.0L655.8 125.9L640.7 120.8Z" fill="#d53e4f"/>
<path d="M673.5 88.1L711.8 85.6L724.4 98.7L721.8 113.8L704.2 116.3L689.1 108.8L678.5 100.7Z" fill="#9e0142"/>
<path d="M734.4 86.1L752.1 80.0L754.6 95.6L742.0 101.2Z" fill="#ffffff"/>
<path d="M751.6 93.6L771.7 90.6L781.8 100.7L778.0 118.3L766.7 114.5L759.1 105.7Z" fill="#fdae61"/>
<path d="M784.3 85.6L802.5 75.5L822.6 75.5L842.8 73.0L857.9 64.9L868.0 73.0L873.0 88.6L868.0 106.2L857.9 113.8L842.8 116.3L827.7 111.3L817.6 101.2L802.5 96.2L789.9 93.6Z" fill="#d53e4f"/>
<path d="M853.6 66.7L859.9 65.9L860.4 76.8L854.4 76.8ZM786.8 85.6L802.0 85.1L802.0 93.6L788.1 93.6ZM822.1 95.6L837.2 95.1L837.7 101.2L822.6 101.2Z" fill="#9e0142"/>
<path d="M766.7 110.8L781.8 100.7L802.0 96.9L817.1 100.7L837.2 118.3L867.5 118.3L882.6 125.9L882.6 151.1L867.5 166.2L842.3 171.2L817.1 171.2L802.0 161.2L781.8 156.1L766.7 141.0Z" fill="#fdae61"/>
<path d="M777.3 120.8L782.3 105.7L797.4 98.7L810.0 101.2L812.5 118.3L822.6 121.3L835.2 125.9L857.9 125.9L873.0 125.9L878.1 141.0L873.0 156.6L860.4 161.7L850.3 151.6L840.3 144.0L827.7 141.5L817.6 149.1L805.0 144.0L792.4 149.1L779.8 144.0L772.2 131.4Z" fill="#ffffff"/>
<path d="M783.1 112.0L798.2 110.8L799.4 128.4L789.4 130.9L783.1 123.4Z" fill="#d53e4f"/>
<path d="M786.3 113.8L794.9 113.3L795.7 125.9L789.4 127.1Z" fill="#9e0142"/>
<path d="M815.1 151.1L832.2 150.6L832.7 166.2L817.1 166.7Z" fill="#f46d43"/>
<path d="M816.6 123.4L822.6 123.4L822.6 128.9L817.1 128.9Z" fill="#66c2a5"/>
<path d="M831.7 145.5L837.7 145.5L838.2 156.6L832.2 156.6Z" fill="#e6f598"/>
<path d="M844.8 156.1L852.4 156.1L852.4 166.2L845.3 166.2ZM726.4 133.4L734.4 133.4L734.4 146.5L726.9 146.5Z" fill="#abdda4"/>
<path d="M676.0 130.9L691.6 123.4L706.7 125.9L719.3 130.9L721.8 146.0L709.2 151.1L691.6 148.6L679.0 141.5Z" fill="#9e0142"/>
<path d="M640.7 130.9L655.8 125.9L665.9 141.0L663.4 161.2L655.8 181.3L645.7 188.9L640.7 186.4Z" fill="#9e0142"/>
<path d="M665.9 161.2L681.0 151.1L696.1 161.2L691.1 176.3L670.9 188.9L650.8 193.9L655.8 181.3Z" fill="#fdae61"/>
<path d="M723.8 130.9L746.5 125.9L771.7 141.0L788.1 156.1L783.1 166.7L772.2 176.8L759.1 209.0L749.0 209.0L741.5 191.4L731.4 166.2L723.8 161.2Z" fill="#fee08b"/>
<path d="M727.6 130.9L747.0 126.4L772.2 141.5L787.3 156.6L782.3 166.2L772.2 176.3L762.1 186.4L752.1 176.3L742.0 161.2L731.9 161.2L725.1 151.1Z" fill="#ffffff"/>
<path d="M741.5 186.4L759.1 181.3L761.6 201.5L751.6 209.0L744.0 199.0ZM725.1 148.6L741.5 147.3L742.7 164.9L727.6 166.2Z" fill="#fdae61"/>
<path d="M789.4 161.2L804.5 161.2L817.1 166.2L817.1 191.4L807.0 201.5L794.4 191.4Z" fill="#ffffff"/>
<path d="M812.0 181.3L832.2 176.3L842.3 183.8L842.3 201.5L829.7 209.0L817.1 201.5ZM842.3 214.1L867.5 211.6L868.7 239.8L842.3 239.8Z" fill="#fee08b"/>
<path d="M802.0 209.0L832.2 209.0L832.2 239.8L802.0 239.8Z" fill="#fdae61"/>
<path d="M807.0 214.1L822.1 216.6L827.2 239.8L814.6 239.8Z" fill="#d53e4f"/>
<path d="M873.8 110.8L892.7 110.8L900.2 120.8L895.2 130.9L880.1 125.9Z" fill="#ffffff"/>
<path d="M882.6 100.7L912.8 99.4L913.3 110.8L883.8 111.3Z" fill="#fee08b"/>
<path d="M902.7 125.9L917.9 118.3L933.0 100.7L943.1 100.7L940.5 118.3L922.9 130.9L905.3 137.2Z" fill="#d53e4f"/>
<path d="M930.5 73.0L943.1 75.5L943.1 98.2L934.2 98.2Z" fill="#fdae61"/>
<path d="M640.7 199.0L670.9 196.4L665.9 221.6L650.8 239.8L640.7 239.8Z" fill="#fdae61"/>
<path d="M645.7 211.6L658.3 209.0L653.3 226.7L643.2 231.7Z" fill="#fee08b"/>
<path d="M903.7 37.7L916.3 27.6L941.5 30.1L946.5 45.3L936.4 57.9L921.3 68.4L908.7 60.4Z" fill="#d53e4f"/>
<path d="M951.6 32.7L966.7 31.4L976.8 42.7L966.7 50.3L954.1 45.3Z" fill="#fdae61"/>
<path d="M989.4 32.7L1002.0 25.1L1042.3 27.6L1042.3 40.2L1017.1 45.3L1002.0 42.7Z" fill="#d53e4f"/>
<path d="M996.9 32.7L1004.5 27.6L1027.2 28.9L1017.1 40.2L1007.0 41.5Z" fill="#9e0142"/>
<path d="M988.9 60.4L997.4 59.9L996.9 71.0L989.4 70.5Z" fill="#d53e4f"/>
<path d="M873.5 20.6L893.6 20.1L894.1 32.7L874.7 33.2Z" fill="#ffffff"/>
<path d="M270.9 199.9L432.2 199.9L432.2 401.5L270.9 401.5Z" fill="#fdae61"/>
<path d="M298.7 215.0L313.8 212.5L323.8 222.6L326.4 240.2L316.3 255.8L308.7 265.9L301.2 258.4L303.7 237.7L298.7 225.1ZM323.8 204.9L346.5 204.9L361.6 215.0L351.6 218.8L336.4 212.5ZM323.8 273.0L336.4 258.4L349.0 267.9L359.1 285.6L361.6 300.7L369.2 310.8L374.2 318.3L361.6 325.9L351.6 323.4L341.5 313.3L333.9 300.7L323.8 288.1ZM323.8 308.2L341.5 313.3L351.6 323.4L346.5 331.4L336.4 336.0L326.4 330.9ZM316.3 361.2L331.4 356.1L328.9 376.3L321.3 386.9L311.3 376.3ZM402.0 247.8L414.6 244.0L420.1 250.3L412.0 260.4L404.5 257.9ZM391.9 295.6L402.0 290.6L404.5 295.6L394.4 300.7ZM308.7 330.9L316.3 325.9L318.8 341.0L312.5 351.1Z" fill="#ffffff"/>
<path d="M331.4 242.7L341.5 232.7L361.6 230.1L376.8 232.7L396.9 237.7L407.0 245.3L412.0 262.9L407.0 283.0L396.9 295.6L384.3 303.2L371.7 300.7L364.2 285.6L359.1 265.4L349.0 250.3L339.0 245.3Z" fill="#f46d43"/>
<path d="M366.7 250.3L376.8 240.2L389.4 242.7L394.4 257.9L391.9 275.5L389.4 295.6L379.3 300.7L371.7 290.6L369.2 270.5Z" fill="#d53e4f"/>
<path d="M376.8 252.8L383.1 251.6L383.8 262.9L378.0 262.9ZM378.0 278.0L383.1 278.0L383.1 286.8L378.8 286.8ZM384.3 291.9L389.4 291.9L389.4 299.4L384.8 299.4Z" fill="#9e0142"/>
<path d="M291.1 242.7L301.2 243.2L301.7 255.8L292.4 255.3ZM316.3 341.0L323.8 338.5L326.4 356.6L318.8 361.2L315.0 351.1ZM326.4 295.6L336.4 295.6L337.0 303.7L326.9 303.7Z" fill="#f46d43"/>
<path d="M337.7 290.6L351.6 289.3L352.8 296.9L339.0 297.7Z" fill="#abdda4"/>
<path d="M331.4 284.3L339.0 284.3L339.0 289.3L331.9 289.3ZM299.9 222.6L303.7 222.1L308.2 233.2L305.0 233.9Z" fill="#e6f598"/>
<path d="M480.7 199.9L682.3 199.9L682.3 341.0L543.7 341.0L543.7 220.1L480.7 220.1Z" fill="#fdae61"/>
<path d="M488.3 204.9L510.9 207.5L531.1 212.5L546.2 215.0L541.2 218.8L505.9 215.0L485.7 210.0Z" fill="#fee08b"/>
<path d="M621.8 199.9L657.1 199.9L657.1 215.0L642.0 227.6L626.8 225.1Z" fill="#f46d43"/>
<path d="M591.6 199.9L631.9 199.9L632.4 220.1L621.8 228.1L606.7 225.1L596.6 215.0Z" fill="#d53e4f"/>
<path d="M599.1 199.9L624.3 199.9L624.8 215.0L616.8 220.6L606.7 217.5Z" fill="#9e0142"/>
<path d="M551.3 212.5L581.5 210.0L599.1 222.6L606.7 237.7L606.7 250.3L586.5 265.9L577.0 283.6L568.9 298.7L561.8 283.6L557.6 273.5L558.8 245.3L551.3 227.6Z" fill="#fee08b"/>
<path d="M553.8 215.5L566.4 212.5L574.4 225.1L584.5 237.7L581.5 245.8L568.9 243.2L559.3 237.7L553.8 227.6Z" fill="#ffffff"/>
<path d="M621.8 245.3L637.4 244.8L638.2 258.4L623.1 258.4ZM642.0 215.0L662.1 210.0L657.1 225.1L644.5 230.1Z" fill="#fee08b"/>
<path d="M581.5 275.5L596.6 260.4L616.8 262.9L621.8 275.5L631.9 283.0L626.8 300.7L621.8 310.8L611.7 325.9L591.6 330.9L579.0 332.2L568.9 310.8L576.4 300.7L581.5 288.1Z" fill="#f46d43"/>
<path d="M589.0 273.0L602.1 262.9L612.2 267.9L617.3 283.6L607.2 293.6L594.6 293.6L589.0 283.0ZM573.9 316.3L584.0 315.8L584.5 331.4L577.7 331.4Z" fill="#d53e4f"/>
<path d="M594.1 278.0L603.2 275.5L604.7 284.6L596.6 289.6Z" fill="#9e0142"/>
<path d="M606.7 293.6L614.2 293.6L614.2 303.2L607.2 303.2Z" fill="#ffffff"/>
<path d="M586.5 305.7L601.6 300.7L606.7 313.3L591.6 320.8Z" fill="#fdae61"/>
<path d="M848.6 260.4L977.1 260.4L977.1 363.7L848.6 363.7Z" fill="#ffffff"/>
<path d="M873.8 305.7L901.5 300.7L911.6 295.6L931.7 300.7L941.8 288.1L949.4 283.0L962.0 293.1L972.0 308.2L969.5 325.9L962.0 343.5L946.8 349.1L931.7 341.0L924.2 330.9L914.1 323.4L896.4 320.8L881.3 325.9L866.2 328.9L861.2 323.4L873.8 313.3Z" fill="#fdae61"/>
<path d="M896.4 318.3L906.5 303.2L926.7 300.7L941.8 295.6L951.9 285.6L964.5 300.7L970.0 310.8L967.5 325.9L957.4 343.5L942.3 346.5L929.2 336.0L919.1 325.9L906.5 320.8Z" fill="#f46d43"/>
<path d="M921.6 310.8L936.8 305.7L949.4 305.7L954.9 318.3L957.4 330.9L952.4 341.0L939.8 339.0L929.2 325.9Z" fill="#d53e4f"/>
<path d="M936.8 313.3L949.4 312.0L951.9 323.9L941.8 323.9Z" fill="#9e0142"/>
<path d="M891.4 280.5L901.5 278.0L911.6 284.3L901.5 290.6L892.7 289.3Z" fill="#abdda4"/>
<path d="M878.8 288.1L886.4 285.6L888.9 295.6L881.3 298.7ZM901.5 264.2L921.6 264.2L922.1 273.5L902.7 273.5Z" fill="#fdae61"/>
<path d="M941.8 348.6L956.9 348.6L956.4 359.1L945.6 359.1Z" fill="#f46d43"/>
<path d="M901.5 230.1L974.6 230.1L974.6 263.4L901.5 263.4ZM838.5 210.0L871.8 210.0L871.8 245.8L838.5 245.8ZM868.7 225.1L884.4 225.1L884.4 248.3L868.7 248.3ZM1002.3 336.0L1047.6 336.0L1047.6 371.2L1002.3 371.2Z" fill="#fee08b"/>
<path d="M841.0 235.2L866.2 235.2L863.7 245.8L843.5 245.8ZM830.9 247.8L876.3 247.8L876.3 260.9L830.9 260.9Z" fill="#fdae61"/>
<path d="M800.7 207.5L833.5 207.5L834.0 250.3L800.7 250.3ZM876.3 199.9L891.9 199.9L891.9 215.5L876.3 215.5Z" fill="#f46d43"/>
<path d="M808.3 212.5L823.4 212.5L828.4 232.7L815.8 233.2Z" fill="#d53e4f"/>
</g></g>
<g filter="url(#rough)" shape-rendering="crispEdges">
<path d="M1.2 32.2L10.8 30.6L22.1 35.2L32.2 37.7L28.9 41.7L18.3 43.2L8.3 40.2L1.2 38.2Z" fill="#fdae61"/>
<path d="M1.2 23.8L5.7 23.1L5.2 26.4L1.2 27.1Z" fill="#fee08b"/>
</g>
<path d="M736.1 198.7L737.9 198.7L737.9 200.2L736.1 200.2ZM736.8 208.3L738.6 208.3L738.6 209.8L736.8 209.8ZM736.3 217.1L738.1 217.1L738.1 218.6L736.3 218.6ZM737.1 225.9L738.9 225.9L738.9 227.4L737.1 227.4Z" fill="#f46d43"/>
<path d="M20.4 255.2L22.2 255.2L22.2 256.7L20.4 256.7ZM40.0 261.8L41.8 261.8L41.8 263.3L40.0 263.3ZM3.8 272.0L5.6 272.0L5.6 273.5L3.8 273.5ZM16.4 276.9L18.2 276.9L18.2 278.4L16.4 278.4ZM2.2 290.9L4.0 290.9L4.0 292.4L2.2 292.4ZM47.1 283.5L48.9 283.5L48.9 285.0L47.1 285.0ZM57.4 285.1L59.2 285.1L59.2 286.6L57.4 286.6ZM57.4 292.5L59.2 292.5L59.2 294.0L57.4 294.0ZM64.5 288.7L66.3 288.7L66.3 290.2L64.5 290.2ZM62.9 294.1L64.7 294.1L64.7 295.6L62.9 295.6ZM73.9 279.3L75.7 279.3L75.7 280.8L73.9 280.8ZM100.7 272.5L102.5 272.5L102.5 274.0L100.7 274.0ZM101.1 273.0L102.9 273.0L102.9 274.5L101.1 274.5ZM112.2 283.5L114.0 283.5L114.0 285.0L112.2 285.0ZM112.8 294.1L114.6 294.1L114.6 295.6L112.8 295.6ZM102.7 311.4L104.5 311.4L104.5 312.9L102.7 312.9ZM5.1 315.8L6.9 315.8L6.9 317.3L5.1 317.3Z" fill="#fdae61"/>
<path d="M21.1 270.9L22.9 270.9L22.9 272.4L21.1 272.4ZM25.1 272.0L26.9 272.0L26.9 273.5L25.1 273.5ZM2.2 283.8L4.0 283.8L4.0 285.3L2.2 285.3ZM15.6 285.1L17.4 285.1L17.4 286.6L15.6 286.6ZM14.8 288.2L16.6 288.2L16.6 289.7L14.8 289.7ZM28.2 285.9L30.0 285.9L30.0 287.4L28.2 287.4ZM12.5 292.7L14.3 292.7L14.3 294.2L12.5 294.2ZM81.0 278.5L82.8 278.5L82.8 280.0L81.0 280.0ZM87.3 281.5L89.1 281.5L89.1 283.0L87.3 283.0ZM88.1 266.2L89.9 266.2L89.9 267.7L88.1 267.7ZM100.7 287.9L102.5 287.9L102.5 289.4L100.7 289.4ZM82.2 296.1L84.0 296.1L84.0 297.6L82.2 297.6ZM87.3 298.2L89.1 298.2L89.1 299.7L87.3 299.7Z" fill="#f46d43"/>
<use href="#lakes"/>
<use href="#coast"/>
</svg>
<rect x="74.3" y="1185.1" width="1078.5" height="421.6" fill="none" stroke="#262626" stroke-width="1.5"/>
<text transform="translate(159.5 1660.1) scale(0.969 1)" text-anchor="middle" class="tk">-150</text>
<text transform="translate(305.3 1660.1) scale(0.969 1)" text-anchor="middle" class="tk">-100</text>
<text transform="translate(451.1 1660.1) scale(0.969 1)" text-anchor="middle" class="tk">-50</text>
<text transform="translate(596.9 1660.1) scale(0.969 1)" text-anchor="middle" class="tk">0</text>
<text transform="translate(742.7 1660.1) scale(0.969 1)" text-anchor="middle" class="tk">50</text>
<text transform="translate(888.5 1660.1) scale(0.969 1)" text-anchor="middle" class="tk">100</text>
<text transform="translate(1034.3 1660.1) scale(0.969 1)" text-anchor="middle" class="tk">150</text>
<text transform="translate(57.7 1286.5) scale(0.969 1)" text-anchor="end" class="tk">50</text>
<text transform="translate(57.7 1431.9) scale(0.969 1)" text-anchor="end" class="tk">0</text>
<text transform="translate(57.7 1577.4) scale(0.969 1)" text-anchor="end" class="tk">-50</text>
<text transform="translate(613.5 1171.9) scale(0.967 1)" text-anchor="middle" class="tt">Temperature trend (°C/decade)</text>
<text x="242.0" y="1520.9" text-anchor="middle" class="lb">(c)</text>
</g>
<rect x="1159.0" y="62.65" width="39.2" height="33.55" fill="#5e4fa2"/>
<rect x="1159.0" y="95.80" width="39.2" height="33.55" fill="#3288bd"/>
<rect x="1159.0" y="128.94" width="39.2" height="33.55" fill="#66c2a5"/>
<rect x="1159.0" y="162.09" width="39.2" height="33.55" fill="#abdda4"/>
<rect x="1159.0" y="195.23" width="39.2" height="33.55" fill="#e6f598"/>
<rect x="1159.0" y="228.38" width="39.2" height="33.55" fill="#ffffff"/>
<rect x="1159.0" y="261.52" width="39.2" height="33.55" fill="#fee08b"/>
<rect x="1159.0" y="294.67" width="39.2" height="33.55" fill="#fdae61"/>
<rect x="1159.0" y="327.81" width="39.2" height="33.55" fill="#f46d43"/>
<rect x="1159.0" y="360.96" width="39.2" height="33.55" fill="#d53e4f"/>
<rect x="1159.0" y="394.10" width="39.2" height="33.55" fill="#9e0142"/>
<rect x="1159.45" y="62.65" width="38.20" height="364.60" fill="none" stroke="#262626" stroke-width="3.3"/>
<text transform="translate(1210.1 76.0) scale(0.931 1)" class="cb">0.5</text>
<path d="M1197.6 245.0h-4.9" stroke="#262626" stroke-width="2.8"/>
<text transform="translate(1210.1 258.4) scale(0.931 1)" class="cb">0</text>
<text transform="translate(1210.1 440.6) scale(0.931 1)" class="cb">-0.5</text>
<rect x="1154.7" y="648.55" width="38.9" height="33.55" fill="#5e4fa2"/>
<rect x="1154.7" y="681.70" width="38.9" height="33.55" fill="#3288bd"/>
<rect x="1154.7" y="714.86" width="38.9" height="33.55" fill="#66c2a5"/>
<rect x="1154.7" y="748.01" width="38.9" height="33.55" fill="#abdda4"/>
<rect x="1154.7" y="781.17" width="38.9" height="33.55" fill="#e6f598"/>
<rect x="1154.7" y="814.32" width="38.9" height="33.55" fill="#ffffff"/>
<rect x="1154.7" y="847.48" width="38.9" height="33.55" fill="#fee08b"/>
<rect x="1154.7" y="880.63" width="38.9" height="33.55" fill="#fdae61"/>
<rect x="1154.7" y="913.79" width="38.9" height="33.55" fill="#f46d43"/>
<rect x="1154.7" y="946.94" width="38.9" height="33.55" fill="#d53e4f"/>
<rect x="1154.7" y="980.10" width="38.9" height="33.55" fill="#9e0142"/>
<rect x="1155.15" y="648.55" width="37.90" height="364.70" fill="none" stroke="#262626" stroke-width="3.3"/>
<path d="M1193.0 716.9h-4.9" stroke="#262626" stroke-width="2.8"/>
<text transform="translate(1205.5 730.3) scale(0.931 1)" class="cb">5</text>
<path d="M1193.0 830.9h-4.9" stroke="#262626" stroke-width="2.8"/>
<text transform="translate(1205.5 844.3) scale(0.931 1)" class="cb">0</text>
<path d="M1193.0 944.9h-4.9" stroke="#262626" stroke-width="2.8"/>
<text transform="translate(1205.5 958.3) scale(0.931 1)" class="cb">-5</text>
<rect x="1158.2" y="1203.45" width="38.4" height="33.57" fill="#9e0142"/>
<rect x="1158.2" y="1236.62" width="38.4" height="33.57" fill="#d53e4f"/>
<rect x="1158.2" y="1269.80" width="38.4" height="33.57" fill="#f46d43"/>
<rect x="1158.2" y="1302.97" width="38.4" height="33.57" fill="#fdae61"/>
<rect x="1158.2" y="1336.14" width="38.4" height="33.57" fill="#fee08b"/>
<rect x="1158.2" y="1369.31" width="38.4" height="33.57" fill="#ffffff"/>
<rect x="1158.2" y="1402.49" width="38.4" height="33.57" fill="#e6f598"/>
<rect x="1158.2" y="1435.66" width="38.4" height="33.57" fill="#abdda4"/>
<rect x="1158.2" y="1468.83" width="38.4" height="33.57" fill="#66c2a5"/>
<rect x="1158.2" y="1502.00" width="38.4" height="33.57" fill="#3288bd"/>
<rect x="1158.2" y="1535.18" width="38.4" height="33.57" fill="#5e4fa2"/>
<rect x="1158.75" y="1203.45" width="37.40" height="364.90" fill="none" stroke="#262626" stroke-width="3.3"/>
<text transform="translate(1208.6 1216.9) scale(0.931 1)" class="cb">0.4</text>
<path d="M1196.1 1294.7h-4.9" stroke="#262626" stroke-width="2.8"/>
<text transform="translate(1208.6 1308.1) scale(0.931 1)" class="cb">0.2</text>
<path d="M1196.1 1385.9h-4.9" stroke="#262626" stroke-width="2.8"/>
<text transform="translate(1208.6 1399.3) scale(0.931 1)" class="cb">0</text>
<path d="M1196.1 1477.1h-4.9" stroke="#262626" stroke-width="2.8"/>
<text transform="translate(1208.6 1490.5) scale(0.931 1)" class="cb">-0.2</text>
<text transform="translate(1208.6 1581.8) scale(0.931 1)" class="cb">-0.4</text>
</svg></body></html>
